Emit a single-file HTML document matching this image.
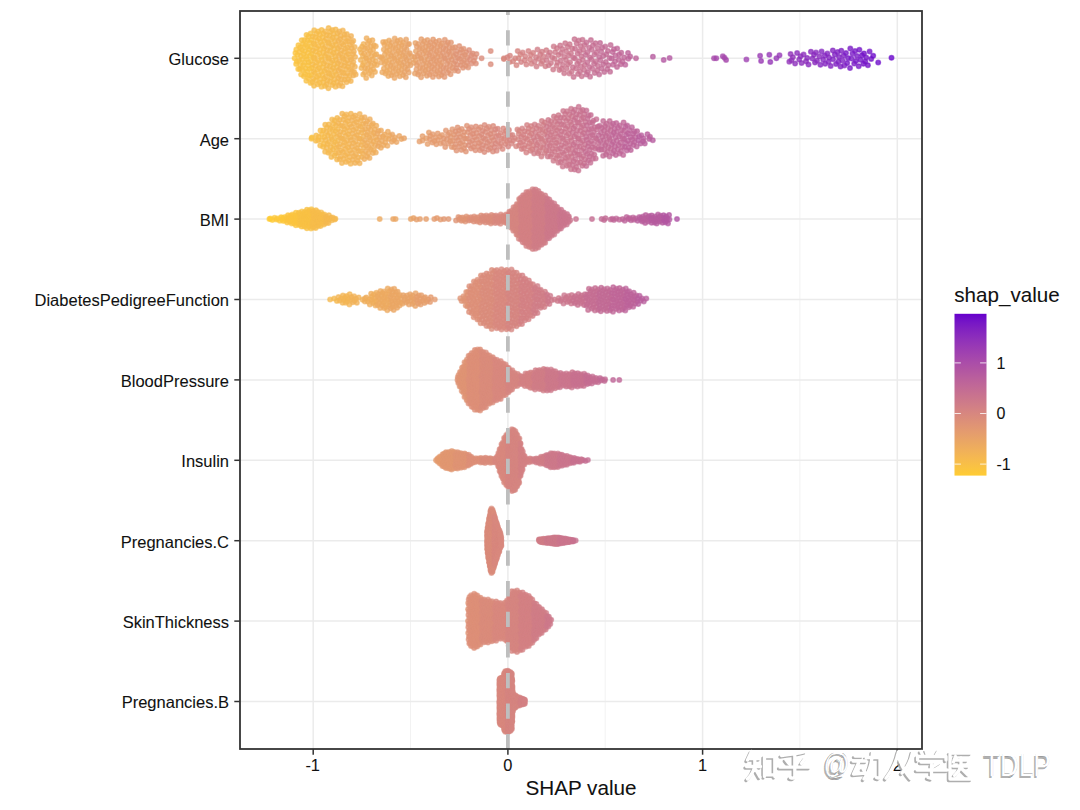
<!DOCTYPE html>
<html><head><meta charset="utf-8"><style>
html,body{margin:0;padding:0;background:#fff;}
body{width:1080px;height:810px;overflow:hidden;position:relative;}
svg{position:absolute;left:0;top:0;}
circle{r:2.35px;}
text{font-family:"Liberation Sans",sans-serif;fill:#111;stroke:#111;stroke-width:0.08px;}
.wm{font-family:"Liberation Sans",sans-serif;}
</style></head><body>
<svg width="1080" height="810" viewBox="0 0 1080 810">
<defs><clipPath id="pc"><rect x="240" y="11" width="682" height="738"/></clipPath></defs>
<g><line x1="410.5" y1="11" x2="410.5" y2="749" stroke="#f0f0f0" stroke-width="0.9"/><line x1="605.2" y1="11" x2="605.2" y2="749" stroke="#f0f0f0" stroke-width="0.9"/><line x1="799.9" y1="11" x2="799.9" y2="749" stroke="#f0f0f0" stroke-width="0.9"/><line x1="313.2" y1="11" x2="313.2" y2="749" stroke="#ebebeb" stroke-width="1.5"/><line x1="507.9" y1="11" x2="507.9" y2="749" stroke="#ebebeb" stroke-width="1.5"/><line x1="702.6" y1="11" x2="702.6" y2="749" stroke="#ebebeb" stroke-width="1.5"/><line x1="897.3" y1="11" x2="897.3" y2="749" stroke="#ebebeb" stroke-width="1.5"/><line x1="240" y1="58.3" x2="922" y2="58.3" stroke="#ebebeb" stroke-width="1.5"/><line x1="240" y1="138.7" x2="922" y2="138.7" stroke="#ebebeb" stroke-width="1.5"/><line x1="240" y1="219.1" x2="922" y2="219.1" stroke="#ebebeb" stroke-width="1.5"/><line x1="240" y1="299.5" x2="922" y2="299.5" stroke="#ebebeb" stroke-width="1.5"/><line x1="240" y1="379.9" x2="922" y2="379.9" stroke="#ebebeb" stroke-width="1.5"/><line x1="240" y1="460.3" x2="922" y2="460.3" stroke="#ebebeb" stroke-width="1.5"/><line x1="240" y1="540.7" x2="922" y2="540.7" stroke="#ebebeb" stroke-width="1.5"/><line x1="240" y1="621.1" x2="922" y2="621.1" stroke="#ebebeb" stroke-width="1.5"/><line x1="240" y1="701.5" x2="922" y2="701.5" stroke="#ebebeb" stroke-width="1.5"/></g>
<g clip-path="url(#pc)" fill-opacity="0.78" stroke-opacity="0.6" stroke-width="1.3"><g fill="#ffcc33" stroke="#ffcc33"><circle cx="269.4" cy="219.1"/><circle cx="270.4" cy="218.5"/><circle cx="272.4" cy="219.9"/></g><g fill="#fdc83a" stroke="#fdc83a"><circle cx="274.6" cy="217.8"/><circle cx="276.4" cy="219.6"/><circle cx="277.7" cy="218.6"/><circle cx="279.8" cy="220.7"/><circle cx="281.1" cy="217.2"/><circle cx="282.0" cy="219.4"/><circle cx="282.7" cy="218.1"/><circle cx="283.5" cy="220.9"/><circle cx="284.9" cy="217.0"/><circle cx="286.0" cy="220.4"/></g><g fill="#fbc440" stroke="#fbc440"><circle cx="294.6" cy="58.3"/><circle cx="295.4" cy="53.1"/><circle cx="296.1" cy="64.0"/><circle cx="296.3" cy="49.6"/><circle cx="296.9" cy="61.4"/><circle cx="297.4" cy="54.9"/><circle cx="298.2" cy="69.1"/><circle cx="298.4" cy="45.2"/><circle cx="286.4" cy="218.6"/><circle cx="287.2" cy="222.6"/><circle cx="288.0" cy="215.2"/><circle cx="288.6" cy="219.4"/><circle cx="289.3" cy="217.1"/><circle cx="289.8" cy="221.8"/><circle cx="290.5" cy="215.7"/><circle cx="290.8" cy="220.7"/><circle cx="291.5" cy="218.1"/><circle cx="291.7" cy="223.5"/><circle cx="292.4" cy="214.6"/><circle cx="293.0" cy="220.2"/><circle cx="293.5" cy="217.3"/><circle cx="293.9" cy="223.3"/><circle cx="294.1" cy="215.7"/><circle cx="294.6" cy="221.8"/><circle cx="295.1" cy="218.7"/><circle cx="295.8" cy="225.3"/><circle cx="295.9" cy="212.7"/><circle cx="296.7" cy="219.3"/><circle cx="296.7" cy="215.9"/><circle cx="297.3" cy="222.9"/><circle cx="298.0" cy="213.9"/><circle cx="298.2" cy="221.2"/><circle cx="298.6" cy="217.5"/><circle cx="298.9" cy="225.0"/></g><g fill="#f9c145" stroke="#f9c145"><circle cx="299.2" cy="60.3"/><circle cx="299.5" cy="52.1"/><circle cx="300.0" cy="69.1"/><circle cx="300.3" cy="47.3"/><circle cx="300.4" cy="65.0"/><circle cx="301.0" cy="56.0"/><circle cx="301.1" cy="74.6"/><circle cx="301.7" cy="40.2"/><circle cx="302.0" cy="59.5"/><circle cx="302.0" cy="49.6"/><circle cx="302.7" cy="69.9"/><circle cx="302.9" cy="44.0"/><circle cx="303.3" cy="65.0"/><circle cx="303.7" cy="54.2"/><circle cx="303.9" cy="76.2"/><circle cx="304.4" cy="40.1"/><circle cx="304.5" cy="62.5"/><circle cx="304.8" cy="51.1"/><circle cx="305.2" cy="74.2"/><circle cx="305.3" cy="45.2"/><circle cx="305.5" cy="68.5"/><circle cx="306.1" cy="56.8"/><circle cx="306.3" cy="80.8"/><circle cx="306.5" cy="34.9"/><circle cx="306.7" cy="59.1"/><circle cx="307.2" cy="46.8"/><circle cx="307.3" cy="71.5"/><circle cx="307.5" cy="40.4"/><circle cx="308.0" cy="65.4"/><circle cx="308.1" cy="52.7"/><circle cx="308.3" cy="78.3"/><circle cx="308.5" cy="36.6"/><circle cx="308.6" cy="62.3"/><circle cx="309.2" cy="49.3"/><circle cx="309.2" cy="75.6"/><circle cx="309.6" cy="42.6"/><circle cx="309.7" cy="69.1"/><circle cx="310.2" cy="55.8"/><circle cx="310.5" cy="83.0"/><circle cx="310.6" cy="33.6"/><circle cx="311.0" cy="60.9"/><circle cx="311.0" cy="47.0"/><circle cx="311.2" cy="74.8"/><circle cx="311.5" cy="40.1"/><circle cx="311.9" cy="67.9"/><circle cx="311.9" cy="53.9"/><circle cx="311.5" cy="138.7"/><circle cx="311.9" cy="137.4"/><circle cx="299.0" cy="212.7"/><circle cx="299.4" cy="220.3"/><circle cx="300.1" cy="216.4"/><circle cx="300.2" cy="224.3"/><circle cx="300.7" cy="214.4"/><circle cx="301.2" cy="222.4"/><circle cx="301.2" cy="218.3"/><circle cx="301.6" cy="226.6"/><circle cx="301.9" cy="211.5"/><circle cx="302.4" cy="219.9"/><circle cx="302.7" cy="215.7"/><circle cx="303.0" cy="224.2"/><circle cx="303.3" cy="213.4"/><circle cx="303.8" cy="222.1"/><circle cx="304.1" cy="217.7"/><circle cx="304.2" cy="226.6"/><circle cx="304.7" cy="212.1"/><circle cx="304.8" cy="221.1"/><circle cx="305.2" cy="216.5"/><circle cx="305.7" cy="225.7"/><circle cx="305.9" cy="214.2"/><circle cx="306.1" cy="223.5"/><circle cx="306.5" cy="218.8"/><circle cx="306.9" cy="228.3"/><circle cx="306.9" cy="209.7"/><circle cx="307.3" cy="219.3"/><circle cx="307.5" cy="214.4"/><circle cx="307.8" cy="224.1"/><circle cx="307.9" cy="211.9"/><circle cx="308.5" cy="221.7"/><circle cx="308.7" cy="216.8"/><circle cx="309.1" cy="226.8"/><circle cx="309.3" cy="210.4"/><circle cx="309.5" cy="220.5"/><circle cx="309.7" cy="215.4"/><circle cx="310.1" cy="225.7"/><circle cx="310.3" cy="212.8"/><circle cx="310.7" cy="223.2"/><circle cx="310.9" cy="218.0"/><circle cx="311.0" cy="228.5"/><circle cx="311.4" cy="209.3"/><circle cx="311.6" cy="219.9"/><circle cx="311.8" cy="214.6"/></g><g fill="#f7bd4b" stroke="#f7bd4b"><circle cx="312.3" cy="81.9"/><circle cx="312.7" cy="36.4"/><circle cx="312.7" cy="64.4"/><circle cx="313.0" cy="50.4"/><circle cx="313.4" cy="78.6"/><circle cx="313.6" cy="43.3"/><circle cx="313.7" cy="71.6"/><circle cx="313.9" cy="57.4"/><circle cx="314.0" cy="85.8"/><circle cx="314.2" cy="30.3"/><circle cx="314.4" cy="58.7"/><circle cx="314.6" cy="44.5"/><circle cx="314.9" cy="73.0"/><circle cx="315.4" cy="37.3"/><circle cx="315.4" cy="65.9"/><circle cx="315.7" cy="51.6"/><circle cx="315.8" cy="80.3"/><circle cx="316.4" cy="33.5"/><circle cx="316.5" cy="62.4"/><circle cx="316.6" cy="47.9"/><circle cx="316.9" cy="76.8"/><circle cx="317.2" cy="40.6"/><circle cx="317.4" cy="69.6"/><circle cx="317.6" cy="55.1"/><circle cx="317.8" cy="84.3"/><circle cx="318.2" cy="31.4"/><circle cx="318.3" cy="60.6"/><circle cx="318.5" cy="45.9"/><circle cx="318.8" cy="75.3"/><circle cx="319.0" cy="38.6"/><circle cx="319.0" cy="68.0"/><circle cx="319.6" cy="53.2"/><circle cx="319.8" cy="82.8"/><circle cx="319.9" cy="34.7"/><circle cx="320.1" cy="64.3"/><circle cx="320.2" cy="49.5"/><circle cx="320.5" cy="79.1"/><circle cx="320.7" cy="42.1"/><circle cx="321.1" cy="71.8"/><circle cx="321.4" cy="56.9"/><circle cx="321.5" cy="86.7"/><circle cx="321.6" cy="29.9"/><circle cx="321.8" cy="59.7"/><circle cx="322.2" cy="44.8"/><circle cx="322.5" cy="74.6"/><circle cx="322.6" cy="37.3"/><circle cx="322.7" cy="67.2"/><circle cx="323.2" cy="52.2"/><circle cx="323.3" cy="82.2"/><circle cx="323.4" cy="33.5"/><circle cx="323.8" cy="63.5"/><circle cx="323.9" cy="48.5"/><circle cx="324.2" cy="78.5"/><circle cx="324.2" cy="40.9"/><circle cx="324.4" cy="71.0"/><circle cx="325.0" cy="55.9"/><circle cx="325.0" cy="86.0"/><circle cx="315.9" cy="140.8"/><circle cx="316.3" cy="135.4"/><circle cx="318.1" cy="140.2"/><circle cx="318.7" cy="137.0"/><circle cx="320.2" cy="145.4"/><circle cx="320.5" cy="130.4"/><circle cx="321.5" cy="140.0"/><circle cx="321.9" cy="134.4"/><circle cx="323.1" cy="146.8"/><circle cx="323.3" cy="130.4"/><circle cx="323.9" cy="143.9"/><circle cx="324.5" cy="136.9"/><circle cx="312.1" cy="225.3"/><circle cx="312.4" cy="211.9"/><circle cx="312.8" cy="222.5"/><circle cx="313.1" cy="217.3"/><circle cx="313.3" cy="227.6"/><circle cx="313.4" cy="210.9"/><circle cx="313.7" cy="221.2"/><circle cx="314.0" cy="216.1"/><circle cx="314.4" cy="226.1"/><circle cx="314.5" cy="213.7"/><circle cx="315.0" cy="223.5"/><circle cx="315.2" cy="218.6"/><circle cx="315.7" cy="228.1"/><circle cx="316.0" cy="210.2"/><circle cx="316.2" cy="219.5"/><circle cx="316.5" cy="214.9"/><circle cx="316.8" cy="224.0"/><circle cx="316.9" cy="212.8"/><circle cx="317.5" cy="221.7"/><circle cx="317.9" cy="217.3"/><circle cx="318.0" cy="226.0"/><circle cx="318.1" cy="212.0"/><circle cx="318.5" cy="220.5"/><circle cx="319.3" cy="216.4"/><circle cx="319.3" cy="224.5"/><circle cx="319.8" cy="214.5"/><circle cx="320.0" cy="222.4"/><circle cx="320.5" cy="218.5"/><circle cx="320.6" cy="226.1"/><circle cx="321.2" cy="212.5"/><circle cx="321.7" cy="219.9"/><circle cx="321.8" cy="216.3"/><circle cx="322.4" cy="223.3"/><circle cx="322.8" cy="214.8"/><circle cx="323.2" cy="221.4"/><circle cx="323.6" cy="218.2"/><circle cx="324.0" cy="224.4"/><circle cx="324.4" cy="214.5"/><circle cx="324.9" cy="220.5"/></g><g fill="#f5b94f" stroke="#f5b94f"><circle cx="325.3" cy="31.5"/><circle cx="325.3" cy="61.6"/><circle cx="325.4" cy="46.5"/><circle cx="325.9" cy="76.7"/><circle cx="326.2" cy="38.9"/><circle cx="326.4" cy="69.2"/><circle cx="326.4" cy="54.0"/><circle cx="326.7" cy="84.3"/><circle cx="326.9" cy="35.1"/><circle cx="327.1" cy="65.4"/><circle cx="327.4" cy="50.2"/><circle cx="327.5" cy="80.6"/><circle cx="328.0" cy="42.6"/><circle cx="328.2" cy="73.0"/><circle cx="328.3" cy="57.8"/><circle cx="328.4" cy="88.3"/><circle cx="328.6" cy="28.1"/><circle cx="329.0" cy="58.5"/><circle cx="329.1" cy="43.3"/><circle cx="329.5" cy="73.8"/><circle cx="329.5" cy="35.6"/><circle cx="329.9" cy="66.2"/><circle cx="330.0" cy="50.9"/><circle cx="330.1" cy="81.5"/><circle cx="330.5" cy="31.8"/><circle cx="330.8" cy="62.4"/><circle cx="330.9" cy="47.1"/><circle cx="331.1" cy="77.6"/><circle cx="331.3" cy="39.5"/><circle cx="331.5" cy="70.0"/><circle cx="331.8" cy="54.7"/><circle cx="332.2" cy="85.1"/><circle cx="332.3" cy="30.1"/><circle cx="332.6" cy="60.4"/><circle cx="332.6" cy="45.3"/><circle cx="332.7" cy="75.6"/><circle cx="332.8" cy="37.7"/><circle cx="333.1" cy="68.0"/><circle cx="333.6" cy="52.9"/><circle cx="333.7" cy="83.1"/><circle cx="333.8" cy="34.0"/><circle cx="334.4" cy="64.2"/><circle cx="334.4" cy="49.1"/><circle cx="334.5" cy="79.3"/><circle cx="334.9" cy="41.6"/><circle cx="335.0" cy="71.7"/><circle cx="335.3" cy="56.7"/><circle cx="335.5" cy="86.7"/><circle cx="335.6" cy="29.4"/><circle cx="335.9" cy="59.5"/><circle cx="336.1" cy="44.5"/><circle cx="336.3" cy="74.5"/><circle cx="336.6" cy="37.0"/><circle cx="336.9" cy="66.9"/><circle cx="337.0" cy="52.0"/><circle cx="337.2" cy="81.9"/><circle cx="337.4" cy="33.3"/><circle cx="337.8" cy="63.2"/><circle cx="337.9" cy="48.3"/><circle cx="325.1" cy="151.7"/><circle cx="325.2" cy="124.7"/><circle cx="325.8" cy="139.7"/><circle cx="326.3" cy="131.8"/><circle cx="326.8" cy="147.8"/><circle cx="326.9" cy="127.5"/><circle cx="327.5" cy="143.9"/><circle cx="327.9" cy="135.5"/><circle cx="328.4" cy="152.8"/><circle cx="328.9" cy="124.4"/><circle cx="329.1" cy="142.0"/><circle cx="329.6" cy="133.0"/><circle cx="330.3" cy="151.5"/><circle cx="330.4" cy="128.2"/><circle cx="330.9" cy="147.1"/><circle cx="331.2" cy="137.5"/><circle cx="331.4" cy="156.9"/><circle cx="332.1" cy="119.5"/><circle cx="332.3" cy="139.3"/><circle cx="332.6" cy="129.2"/><circle cx="333.1" cy="149.6"/><circle cx="333.4" cy="123.8"/><circle cx="333.7" cy="144.6"/><circle cx="334.0" cy="134.1"/><circle cx="334.5" cy="155.4"/><circle cx="334.6" cy="120.6"/><circle cx="335.0" cy="142.1"/><circle cx="335.4" cy="131.1"/><circle cx="335.8" cy="153.3"/><circle cx="336.0" cy="125.4"/><circle cx="336.5" cy="147.9"/><circle cx="336.9" cy="136.6"/><circle cx="337.0" cy="159.4"/><circle cx="337.2" cy="117.9"/><circle cx="337.7" cy="140.9"/><circle cx="337.8" cy="129.3"/><circle cx="325.4" cy="217.6"/><circle cx="326.0" cy="223.0"/><circle cx="326.3" cy="216.4"/><circle cx="327.4" cy="221.4"/><circle cx="327.6" cy="219.0"/><circle cx="328.5" cy="223.1"/><circle cx="328.9" cy="215.2"/><circle cx="329.8" cy="219.1"/><circle cx="331.1" cy="217.7"/><circle cx="331.9" cy="220.3"/><circle cx="332.7" cy="217.5"/><circle cx="334.7" cy="219.5"/><circle cx="335.4" cy="218.7"/><circle cx="330.1" cy="299.5"/><circle cx="334.2" cy="298.6"/><circle cx="336.9" cy="300.9"/></g><g fill="#f3b554" stroke="#f3b554"><circle cx="338.2" cy="78.1"/><circle cx="338.3" cy="40.9"/><circle cx="338.4" cy="70.6"/><circle cx="338.9" cy="55.7"/><circle cx="339.0" cy="85.5"/><circle cx="339.4" cy="31.6"/><circle cx="339.4" cy="61.3"/><circle cx="339.8" cy="46.5"/><circle cx="339.9" cy="76.1"/><circle cx="340.2" cy="39.1"/><circle cx="340.2" cy="68.7"/><circle cx="340.6" cy="53.9"/><circle cx="340.6" cy="83.3"/><circle cx="340.8" cy="35.7"/><circle cx="341.3" cy="64.9"/><circle cx="341.5" cy="50.4"/><circle cx="341.6" cy="79.3"/><circle cx="341.8" cy="43.2"/><circle cx="342.0" cy="72.0"/><circle cx="342.5" cy="57.6"/><circle cx="342.5" cy="86.2"/><circle cx="342.8" cy="30.5"/><circle cx="343.3" cy="59.0"/><circle cx="343.4" cy="44.8"/><circle cx="343.5" cy="73.1"/><circle cx="344.0" cy="37.9"/><circle cx="344.2" cy="65.9"/><circle cx="344.3" cy="52.0"/><circle cx="344.5" cy="79.8"/><circle cx="344.6" cy="34.7"/><circle cx="344.9" cy="62.4"/><circle cx="345.2" cy="48.7"/><circle cx="345.6" cy="76.0"/><circle cx="345.8" cy="42.0"/><circle cx="345.9" cy="69.1"/><circle cx="346.1" cy="55.6"/><circle cx="346.5" cy="82.2"/><circle cx="346.8" cy="34.1"/><circle cx="347.1" cy="60.6"/><circle cx="347.2" cy="47.4"/><circle cx="347.5" cy="73.5"/><circle cx="347.7" cy="41.1"/><circle cx="348.1" cy="66.9"/><circle cx="348.1" cy="54.1"/><circle cx="348.5" cy="79.5"/><circle cx="348.7" cy="38.4"/><circle cx="348.8" cy="63.6"/><circle cx="349.2" cy="51.1"/><circle cx="349.7" cy="75.7"/><circle cx="349.9" cy="45.1"/><circle cx="350.3" cy="69.4"/><circle cx="350.4" cy="57.4"/><circle cx="350.8" cy="81.1"/><circle cx="338.4" cy="152.7"/><circle cx="338.4" cy="123.3"/><circle cx="338.5" cy="146.8"/><circle cx="339.2" cy="135.0"/><circle cx="339.5" cy="159.0"/><circle cx="339.8" cy="119.8"/><circle cx="340.0" cy="144.0"/><circle cx="340.4" cy="131.8"/><circle cx="340.5" cy="156.4"/><circle cx="341.0" cy="125.5"/><circle cx="341.1" cy="150.4"/><circle cx="341.3" cy="137.9"/><circle cx="341.9" cy="163.1"/><circle cx="342.2" cy="113.7"/><circle cx="342.5" cy="139.1"/><circle cx="342.6" cy="126.3"/><circle cx="342.8" cy="151.9"/><circle cx="343.2" cy="119.7"/><circle cx="343.6" cy="145.6"/><circle cx="343.7" cy="132.6"/><circle cx="343.9" cy="158.8"/><circle cx="344.4" cy="116.2"/><circle cx="344.6" cy="142.4"/><circle cx="344.8" cy="129.3"/><circle cx="345.3" cy="155.5"/><circle cx="345.5" cy="122.7"/><circle cx="345.6" cy="148.9"/><circle cx="345.9" cy="135.8"/><circle cx="346.1" cy="162.0"/><circle cx="346.4" cy="114.5"/><circle cx="346.7" cy="140.7"/><circle cx="347.1" cy="127.6"/><circle cx="347.1" cy="153.8"/><circle cx="347.5" cy="121.1"/><circle cx="347.9" cy="147.3"/><circle cx="348.1" cy="134.2"/><circle cx="348.5" cy="160.4"/><circle cx="348.7" cy="117.8"/><circle cx="349.0" cy="144.0"/><circle cx="349.3" cy="130.9"/><circle cx="349.5" cy="157.1"/><circle cx="349.7" cy="124.4"/><circle cx="350.0" cy="150.6"/><circle cx="350.3" cy="137.5"/><circle cx="350.6" cy="163.7"/><circle cx="350.9" cy="113.7"/><circle cx="338.5" cy="297.1"/><circle cx="339.7" cy="300.4"/><circle cx="341.3" cy="298.5"/><circle cx="342.6" cy="302.8"/><circle cx="342.9" cy="295.6"/><circle cx="344.0" cy="300.1"/><circle cx="345.0" cy="297.6"/><circle cx="345.6" cy="302.7"/><circle cx="346.7" cy="296.1"/><circle cx="347.2" cy="301.6"/><circle cx="348.4" cy="298.8"/><circle cx="349.4" cy="304.5"/><circle cx="349.7" cy="294.2"/><circle cx="350.7" cy="299.8"/></g><g fill="#f1b258" stroke="#f1b258"><circle cx="351.1" cy="36.0"/><circle cx="351.2" cy="59.6"/><circle cx="351.7" cy="48.1"/><circle cx="352.0" cy="70.9"/><circle cx="352.1" cy="42.6"/><circle cx="352.6" cy="65.0"/><circle cx="353.0" cy="54.1"/><circle cx="353.2" cy="75.6"/><circle cx="353.3" cy="40.8"/><circle cx="353.4" cy="62.1"/><circle cx="353.9" cy="51.7"/><circle cx="354.2" cy="72.2"/><circle cx="354.7" cy="47.0"/><circle cx="354.9" cy="66.7"/><circle cx="355.2" cy="56.9"/><circle cx="355.7" cy="74.5"/><circle cx="360.0" cy="49.3"/><circle cx="360.7" cy="59.9"/><circle cx="361.2" cy="52.6"/><circle cx="361.4" cy="68.1"/><circle cx="362.1" cy="46.7"/><circle cx="362.7" cy="65.1"/><circle cx="362.8" cy="55.8"/><circle cx="363.2" cy="74.5"/><circle cx="363.6" cy="44.0"/><circle cx="363.9" cy="62.9"/><circle cx="351.1" cy="139.9"/><circle cx="351.4" cy="126.8"/><circle cx="351.8" cy="153.0"/><circle cx="352.1" cy="120.3"/><circle cx="352.2" cy="146.5"/><circle cx="352.6" cy="133.4"/><circle cx="352.9" cy="159.6"/><circle cx="353.3" cy="117.0"/><circle cx="353.4" cy="143.2"/><circle cx="353.7" cy="130.1"/><circle cx="354.1" cy="156.3"/><circle cx="354.2" cy="123.6"/><circle cx="354.7" cy="149.8"/><circle cx="354.8" cy="136.7"/><circle cx="355.1" cy="162.9"/><circle cx="355.2" cy="115.4"/><circle cx="355.7" cy="141.6"/><circle cx="356.0" cy="128.5"/><circle cx="356.0" cy="154.7"/><circle cx="356.4" cy="122.0"/><circle cx="356.9" cy="148.0"/><circle cx="356.9" cy="135.1"/><circle cx="357.5" cy="160.8"/><circle cx="357.6" cy="119.1"/><circle cx="357.9" cy="144.7"/><circle cx="358.3" cy="131.9"/><circle cx="358.3" cy="157.3"/><circle cx="358.7" cy="125.7"/><circle cx="358.9" cy="150.9"/><circle cx="359.3" cy="138.3"/><circle cx="359.6" cy="163.2"/><circle cx="359.7" cy="114.0"/><circle cx="360.1" cy="138.9"/><circle cx="360.4" cy="126.6"/><circle cx="360.7" cy="151.2"/><circle cx="360.9" cy="120.6"/><circle cx="361.3" cy="145.0"/><circle cx="361.6" cy="132.8"/><circle cx="361.8" cy="157.0"/><circle cx="361.9" cy="117.9"/><circle cx="362.4" cy="141.9"/><circle cx="362.8" cy="130.0"/><circle cx="363.0" cy="153.7"/><circle cx="363.1" cy="124.1"/><circle cx="363.8" cy="147.7"/><circle cx="363.8" cy="136.0"/><circle cx="351.5" cy="297.2"/><circle cx="352.8" cy="302.3"/><circle cx="354.1" cy="296.3"/><circle cx="354.5" cy="300.9"/><circle cx="356.0" cy="298.7"/><circle cx="356.9" cy="302.8"/><circle cx="358.7" cy="297.4"/><circle cx="362.6" cy="299.8"/></g><g fill="#efae5c" stroke="#efae5c"><circle cx="364.2" cy="53.4"/><circle cx="364.8" cy="72.6"/><circle cx="365.1" cy="48.4"/><circle cx="365.2" cy="67.9"/><circle cx="365.8" cy="58.1"/><circle cx="366.2" cy="78.0"/><circle cx="366.6" cy="38.3"/><circle cx="366.7" cy="58.4"/><circle cx="367.3" cy="48.3"/><circle cx="367.8" cy="68.4"/><circle cx="367.9" cy="43.3"/><circle cx="368.5" cy="63.4"/><circle cx="368.6" cy="53.4"/><circle cx="369.1" cy="73.3"/><circle cx="369.4" cy="41.0"/><circle cx="369.6" cy="60.9"/><circle cx="370.3" cy="51.0"/><circle cx="370.6" cy="70.7"/><circle cx="371.0" cy="46.1"/><circle cx="371.3" cy="65.7"/><circle cx="371.5" cy="55.9"/><circle cx="371.8" cy="75.5"/><circle cx="372.4" cy="40.2"/><circle cx="372.6" cy="59.6"/><circle cx="373.1" cy="49.9"/><circle cx="373.3" cy="69.2"/><circle cx="373.9" cy="45.2"/><circle cx="374.4" cy="64.1"/><circle cx="374.8" cy="55.1"/><circle cx="375.0" cy="72.0"/><circle cx="375.8" cy="46.3"/><circle cx="375.8" cy="61.1"/><circle cx="376.3" cy="54.2"/><circle cx="376.9" cy="65.1"/><circle cx="364.3" cy="159.1"/><circle cx="364.6" cy="117.3"/><circle cx="364.9" cy="140.3"/><circle cx="365.1" cy="128.9"/><circle cx="365.6" cy="151.5"/><circle cx="365.8" cy="123.5"/><circle cx="366.2" cy="145.8"/><circle cx="366.7" cy="134.8"/><circle cx="367.1" cy="156.5"/><circle cx="367.1" cy="121.3"/><circle cx="367.3" cy="142.9"/><circle cx="367.7" cy="132.2"/><circle cx="368.3" cy="153.3"/><circle cx="368.7" cy="127.2"/><circle cx="368.9" cy="147.9"/><circle cx="369.2" cy="137.6"/><circle cx="369.5" cy="158.0"/><circle cx="369.8" cy="119.3"/><circle cx="370.5" cy="139.5"/><circle cx="370.8" cy="129.7"/><circle cx="370.9" cy="149.2"/><circle cx="371.5" cy="125.1"/><circle cx="371.7" cy="144.2"/><circle cx="372.0" cy="134.7"/><circle cx="372.9" cy="153.1"/><circle cx="372.9" cy="123.6"/><circle cx="373.4" cy="141.6"/><circle cx="373.9" cy="132.9"/><circle cx="373.9" cy="150.0"/><circle cx="374.9" cy="129.2"/><circle cx="375.2" cy="145.2"/><circle cx="375.7" cy="137.4"/><circle cx="375.8" cy="152.5"/><circle cx="376.3" cy="125.7"/><circle cx="376.9" cy="140.1"/><circle cx="364.8" cy="298.6"/><circle cx="364.9" cy="301.5"/><circle cx="366.3" cy="297.4"/><circle cx="367.8" cy="301.4"/><circle cx="369.5" cy="299.2"/><circle cx="369.8" cy="304.5"/><circle cx="371.1" cy="293.7"/><circle cx="371.6" cy="299.7"/><circle cx="371.9" cy="296.5"/><circle cx="373.0" cy="303.1"/><circle cx="373.9" cy="294.5"/><circle cx="374.5" cy="301.6"/><circle cx="374.9" cy="297.9"/><circle cx="375.5" cy="305.5"/><circle cx="376.4" cy="292.8"/><circle cx="376.6" cy="300.8"/></g><g fill="#edaa60" stroke="#edaa60"><circle cx="379.9" cy="57.1"/><circle cx="381.0" cy="62.5"/><circle cx="381.7" cy="57.5"/><circle cx="382.3" cy="72.3"/><circle cx="383.1" cy="42.1"/><circle cx="383.3" cy="58.9"/><circle cx="383.8" cy="49.6"/><circle cx="383.9" cy="68.6"/><circle cx="384.4" cy="44.5"/><circle cx="384.8" cy="63.8"/><circle cx="384.9" cy="54.2"/><circle cx="385.5" cy="73.5"/><circle cx="385.8" cy="42.0"/><circle cx="386.2" cy="61.4"/><circle cx="386.8" cy="51.7"/><circle cx="387.0" cy="71.2"/><circle cx="387.4" cy="46.8"/><circle cx="387.5" cy="66.3"/><circle cx="388.1" cy="56.5"/><circle cx="388.3" cy="76.1"/><circle cx="389.1" cy="40.6"/><circle cx="389.1" cy="60.2"/><circle cx="389.3" cy="50.4"/><circle cx="389.7" cy="70.1"/><circle cx="390.2" cy="45.4"/><circle cx="377.3" cy="133.4"/><circle cx="378.1" cy="146.2"/><circle cx="378.7" cy="130.9"/><circle cx="379.1" cy="142.9"/><circle cx="379.9" cy="137.0"/><circle cx="380.9" cy="147.8"/><circle cx="381.0" cy="130.5"/><circle cx="381.7" cy="141.0"/><circle cx="383.0" cy="136.2"/><circle cx="383.4" cy="145.2"/><circle cx="384.6" cy="134.4"/><circle cx="385.3" cy="142.5"/><circle cx="385.7" cy="138.5"/><circle cx="387.4" cy="145.8"/><circle cx="387.9" cy="131.7"/><circle cx="388.8" cy="138.9"/><circle cx="389.8" cy="135.6"/><circle cx="379.7" cy="219.1"/><circle cx="377.4" cy="296.6"/><circle cx="377.6" cy="305.0"/><circle cx="378.6" cy="294.3"/><circle cx="379.1" cy="303.1"/><circle cx="379.2" cy="298.7"/><circle cx="380.2" cy="307.9"/><circle cx="380.5" cy="291.0"/><circle cx="381.3" cy="300.4"/><circle cx="381.4" cy="295.6"/><circle cx="382.1" cy="305.3"/><circle cx="382.5" cy="293.1"/><circle cx="383.1" cy="302.9"/><circle cx="383.6" cy="297.9"/><circle cx="384.1" cy="308.1"/><circle cx="384.1" cy="291.5"/><circle cx="384.6" cy="301.8"/><circle cx="384.9" cy="296.6"/><circle cx="385.6" cy="307.1"/><circle cx="386.0" cy="293.8"/><circle cx="386.8" cy="304.6"/><circle cx="387.0" cy="299.2"/><circle cx="387.3" cy="310.2"/><circle cx="387.7" cy="288.6"/><circle cx="388.3" cy="299.7"/><circle cx="388.7" cy="294.1"/><circle cx="389.3" cy="305.3"/><circle cx="389.6" cy="291.1"/><circle cx="390.1" cy="302.5"/></g><g fill="#eba664" stroke="#eba664"><circle cx="390.7" cy="65.2"/><circle cx="391.0" cy="55.3"/><circle cx="391.4" cy="75.1"/><circle cx="391.6" cy="42.8"/><circle cx="392.0" cy="62.7"/><circle cx="392.5" cy="52.8"/><circle cx="392.8" cy="72.8"/><circle cx="393.1" cy="47.7"/><circle cx="393.3" cy="67.8"/><circle cx="393.8" cy="57.8"/><circle cx="394.5" cy="77.9"/><circle cx="394.7" cy="38.5"/><circle cx="394.8" cy="58.7"/><circle cx="395.4" cy="48.6"/><circle cx="395.5" cy="68.8"/><circle cx="396.1" cy="43.6"/><circle cx="396.5" cy="63.7"/><circle cx="396.9" cy="53.7"/><circle cx="396.9" cy="73.8"/><circle cx="397.4" cy="41.1"/><circle cx="398.0" cy="61.2"/><circle cx="398.3" cy="51.2"/><circle cx="398.6" cy="71.2"/><circle cx="398.9" cy="46.2"/><circle cx="399.3" cy="66.2"/><circle cx="399.6" cy="56.2"/><circle cx="399.8" cy="76.2"/><circle cx="400.4" cy="39.9"/><circle cx="400.5" cy="59.9"/><circle cx="401.0" cy="50.0"/><circle cx="401.3" cy="69.9"/><circle cx="401.7" cy="45.0"/><circle cx="402.0" cy="64.9"/><circle cx="402.6" cy="55.0"/><circle cx="403.0" cy="74.9"/><circle cx="403.1" cy="42.5"/><circle cx="391.8" cy="141.8"/><circle cx="392.2" cy="134.5"/><circle cx="393.9" cy="140.1"/><circle cx="394.9" cy="137.6"/><circle cx="396.5" cy="142.1"/><circle cx="399.3" cy="135.9"/><circle cx="401.4" cy="139.1"/><circle cx="393.1" cy="219.1"/><circle cx="395.6" cy="219.1"/><circle cx="390.3" cy="296.8"/><circle cx="390.6" cy="308.3"/><circle cx="391.4" cy="289.5"/><circle cx="391.9" cy="301.2"/><circle cx="391.9" cy="295.3"/><circle cx="392.2" cy="307.1"/><circle cx="392.8" cy="292.2"/><circle cx="392.9" cy="304.2"/><circle cx="393.4" cy="298.2"/><circle cx="393.7" cy="310.0"/><circle cx="394.2" cy="288.8"/><circle cx="394.9" cy="300.4"/><circle cx="395.1" cy="294.8"/><circle cx="395.7" cy="305.7"/><circle cx="396.0" cy="292.3"/><circle cx="396.4" cy="302.9"/><circle cx="397.0" cy="297.8"/><circle cx="397.1" cy="307.8"/><circle cx="397.7" cy="291.7"/><circle cx="398.4" cy="301.4"/><circle cx="398.9" cy="296.7"/><circle cx="399.6" cy="305.6"/><circle cx="399.9" cy="295.1"/><circle cx="400.8" cy="302.6"/><circle cx="400.9" cy="299.2"/><circle cx="402.4" cy="303.7"/></g><g fill="#e8a367" stroke="#e8a367"><circle cx="403.7" cy="62.4"/><circle cx="403.8" cy="52.5"/><circle cx="404.4" cy="72.3"/><circle cx="404.6" cy="47.5"/><circle cx="405.1" cy="67.4"/><circle cx="405.1" cy="57.4"/><circle cx="405.8" cy="77.2"/><circle cx="406.1" cy="39.5"/><circle cx="406.6" cy="59.3"/><circle cx="406.7" cy="49.4"/><circle cx="407.4" cy="69.2"/><circle cx="407.7" cy="44.5"/><circle cx="407.9" cy="64.2"/><circle cx="408.3" cy="54.5"/><circle cx="408.7" cy="72.6"/><circle cx="409.0" cy="43.9"/><circle cx="409.7" cy="61.1"/><circle cx="409.8" cy="53.2"/><circle cx="410.5" cy="65.3"/><circle cx="411.7" cy="56.5"/><circle cx="413.6" cy="62.7"/><circle cx="414.5" cy="57.1"/><circle cx="414.9" cy="73.5"/><circle cx="415.4" cy="43.0"/><circle cx="415.5" cy="60.3"/><circle cx="415.9" cy="51.3"/><circle cx="404.1" cy="138.2"/><circle cx="410.8" cy="219.1"/><circle cx="413.5" cy="218.1"/><circle cx="403.3" cy="295.2"/><circle cx="404.7" cy="299.7"/><circle cx="404.8" cy="297.2"/><circle cx="405.8" cy="302.4"/><circle cx="407.3" cy="295.4"/><circle cx="407.5" cy="301.3"/><circle cx="408.6" cy="298.3"/><circle cx="408.9" cy="304.4"/><circle cx="410.1" cy="294.3"/><circle cx="410.9" cy="300.6"/><circle cx="411.4" cy="297.4"/><circle cx="412.4" cy="303.9"/><circle cx="412.6" cy="295.7"/><circle cx="413.6" cy="302.3"/><circle cx="414.6" cy="299.0"/><circle cx="415.3" cy="305.9"/><circle cx="415.6" cy="293.3"/></g><g fill="#e69f6b" stroke="#e69f6b"><circle cx="416.4" cy="69.5"/><circle cx="416.8" cy="46.6"/><circle cx="416.9" cy="65.0"/><circle cx="417.4" cy="55.8"/><circle cx="418.1" cy="74.4"/><circle cx="418.5" cy="44.0"/><circle cx="418.7" cy="62.8"/><circle cx="419.2" cy="53.4"/><circle cx="419.4" cy="72.2"/><circle cx="419.9" cy="48.6"/><circle cx="420.2" cy="67.6"/><circle cx="420.7" cy="58.1"/><circle cx="421.1" cy="77.3"/><circle cx="421.3" cy="39.2"/><circle cx="421.5" cy="58.5"/><circle cx="422.2" cy="48.8"/><circle cx="422.7" cy="68.3"/><circle cx="422.8" cy="43.9"/><circle cx="423.4" cy="63.5"/><circle cx="423.4" cy="53.6"/><circle cx="423.8" cy="73.3"/><circle cx="424.3" cy="41.3"/><circle cx="424.8" cy="61.0"/><circle cx="425.1" cy="51.1"/><circle cx="425.4" cy="70.8"/><circle cx="426.1" cy="46.2"/><circle cx="426.2" cy="65.9"/><circle cx="426.4" cy="56.1"/><circle cx="426.9" cy="75.8"/><circle cx="427.4" cy="40.1"/><circle cx="427.9" cy="59.8"/><circle cx="428.0" cy="49.9"/><circle cx="428.2" cy="69.6"/><circle cx="428.7" cy="45.0"/><circle cx="429.1" cy="64.7"/><circle cx="419.5" cy="141.4"/><circle cx="422.5" cy="136.2"/><circle cx="422.6" cy="140.4"/><circle cx="426.3" cy="138.3"/><circle cx="427.6" cy="144.0"/><circle cx="428.9" cy="132.6"/><circle cx="416.5" cy="219.6"/><circle cx="420.0" cy="219.1"/><circle cx="426.1" cy="219.1"/><circle cx="416.6" cy="300.2"/><circle cx="416.9" cy="296.9"/><circle cx="418.1" cy="303.4"/><circle cx="418.9" cy="295.5"/><circle cx="419.6" cy="301.7"/><circle cx="420.0" cy="298.7"/><circle cx="420.6" cy="304.4"/><circle cx="421.3" cy="295.3"/><circle cx="422.7" cy="300.7"/><circle cx="424.1" cy="298.2"/><circle cx="424.5" cy="302.9"/><circle cx="425.2" cy="297.2"/><circle cx="426.8" cy="301.4"/><circle cx="428.4" cy="299.4"/></g><g fill="#e49b6e" stroke="#e49b6e"><circle cx="429.3" cy="54.8"/><circle cx="429.6" cy="74.5"/><circle cx="430.3" cy="42.5"/><circle cx="430.7" cy="62.2"/><circle cx="430.7" cy="52.4"/><circle cx="431.2" cy="72.1"/><circle cx="431.8" cy="47.4"/><circle cx="432.0" cy="67.1"/><circle cx="432.4" cy="57.3"/><circle cx="432.9" cy="77.0"/><circle cx="433.1" cy="39.4"/><circle cx="433.6" cy="59.1"/><circle cx="433.8" cy="49.3"/><circle cx="434.1" cy="69.0"/><circle cx="434.3" cy="44.4"/><circle cx="434.9" cy="64.1"/><circle cx="435.4" cy="54.2"/><circle cx="435.7" cy="73.9"/><circle cx="435.9" cy="41.9"/><circle cx="436.6" cy="61.6"/><circle cx="436.9" cy="51.8"/><circle cx="437.3" cy="71.5"/><circle cx="437.6" cy="46.8"/><circle cx="437.7" cy="66.5"/><circle cx="437.9" cy="56.7"/><circle cx="438.8" cy="76.4"/><circle cx="439.2" cy="40.7"/><circle cx="439.4" cy="60.4"/><circle cx="439.7" cy="50.5"/><circle cx="440.1" cy="70.2"/><circle cx="440.4" cy="45.6"/><circle cx="440.6" cy="65.3"/><circle cx="440.9" cy="55.5"/><circle cx="441.4" cy="75.0"/><circle cx="441.9" cy="43.4"/><circle cx="442.0" cy="62.8"/><circle cx="430.0" cy="139.3"/><circle cx="430.3" cy="135.9"/><circle cx="432.4" cy="142.6"/><circle cx="432.8" cy="134.3"/><circle cx="434.5" cy="141.0"/><circle cx="435.3" cy="137.6"/><circle cx="436.3" cy="144.3"/><circle cx="437.7" cy="133.4"/><circle cx="438.1" cy="140.1"/><circle cx="440.0" cy="136.8"/><circle cx="440.7" cy="143.5"/><circle cx="442.2" cy="135.0"/><circle cx="434.3" cy="219.1"/><circle cx="437.0" cy="218.1"/><circle cx="440.5" cy="219.6"/><circle cx="430.1" cy="302.0"/><circle cx="430.8" cy="297.2"/><circle cx="434.8" cy="299.5"/><circle cx="436.0" cy="460.3"/><circle cx="437.4" cy="459.0"/><circle cx="437.8" cy="461.7"/><circle cx="438.2" cy="458.0"/><circle cx="438.9" cy="461.2"/><circle cx="439.3" cy="459.3"/><circle cx="439.8" cy="463.5"/><circle cx="439.9" cy="456.5"/><circle cx="440.7" cy="460.9"/><circle cx="440.9" cy="458.4"/><circle cx="441.3" cy="463.7"/><circle cx="441.4" cy="456.8"/><circle cx="441.9" cy="462.5"/><circle cx="442.0" cy="459.5"/></g><g fill="#e19772" stroke="#e19772"><circle cx="442.7" cy="53.1"/><circle cx="442.9" cy="72.4"/><circle cx="443.4" cy="48.3"/><circle cx="443.5" cy="67.5"/><circle cx="444.0" cy="57.9"/><circle cx="444.5" cy="76.9"/><circle cx="444.8" cy="39.8"/><circle cx="445.2" cy="58.8"/><circle cx="445.7" cy="49.4"/><circle cx="446.0" cy="68.2"/><circle cx="446.4" cy="44.8"/><circle cx="447.1" cy="63.5"/><circle cx="447.1" cy="54.2"/><circle cx="447.5" cy="72.7"/><circle cx="447.9" cy="42.6"/><circle cx="448.5" cy="61.1"/><circle cx="448.9" cy="51.9"/><circle cx="449.1" cy="70.3"/><circle cx="449.4" cy="47.4"/><circle cx="450.1" cy="65.6"/><circle cx="450.2" cy="56.5"/><circle cx="450.6" cy="74.3"/><circle cx="451.0" cy="42.5"/><circle cx="451.7" cy="59.8"/><circle cx="451.8" cy="51.4"/><circle cx="452.7" cy="67.8"/><circle cx="452.7" cy="47.8"/><circle cx="453.7" cy="63.5"/><circle cx="453.7" cy="55.9"/><circle cx="454.6" cy="70.5"/><circle cx="455.0" cy="47.2"/><circle cx="443.4" cy="142.4"/><circle cx="443.7" cy="138.4"/><circle cx="445.2" cy="147.1"/><circle cx="445.9" cy="130.5"/><circle cx="447.0" cy="139.2"/><circle cx="447.9" cy="134.8"/><circle cx="448.3" cy="143.5"/><circle cx="449.6" cy="132.7"/><circle cx="450.4" cy="141.4"/><circle cx="450.9" cy="137.0"/><circle cx="451.7" cy="147.0"/><circle cx="452.4" cy="129.3"/><circle cx="452.8" cy="140.9"/><circle cx="453.8" cy="134.6"/><circle cx="454.2" cy="147.3"/><circle cx="444.0" cy="219.1"/><circle cx="448.5" cy="219.1"/><circle cx="442.4" cy="465.9"/><circle cx="442.7" cy="454.2"/><circle cx="442.9" cy="460.7"/><circle cx="443.0" cy="457.3"/><circle cx="443.1" cy="464.2"/><circle cx="443.6" cy="455.3"/><circle cx="443.6" cy="462.6"/><circle cx="443.9" cy="458.9"/><circle cx="444.0" cy="466.5"/><circle cx="444.3" cy="453.8"/><circle cx="444.7" cy="461.8"/><circle cx="444.9" cy="457.8"/><circle cx="444.9" cy="465.9"/><circle cx="445.2" cy="455.7"/><circle cx="445.3" cy="463.9"/><circle cx="445.5" cy="459.8"/><circle cx="445.9" cy="468.1"/><circle cx="445.9" cy="452.2"/><circle cx="446.1" cy="460.6"/><circle cx="446.4" cy="456.3"/><circle cx="446.6" cy="464.9"/><circle cx="446.8" cy="454.1"/><circle cx="447.0" cy="462.7"/><circle cx="447.2" cy="458.4"/><circle cx="447.3" cy="467.2"/><circle cx="447.4" cy="452.9"/><circle cx="447.8" cy="461.7"/><circle cx="447.9" cy="457.2"/><circle cx="448.2" cy="466.2"/><circle cx="448.2" cy="455.0"/><circle cx="448.6" cy="464.0"/><circle cx="448.6" cy="459.4"/><circle cx="448.8" cy="468.6"/><circle cx="449.0" cy="452.0"/><circle cx="449.3" cy="461.2"/><circle cx="449.4" cy="456.5"/><circle cx="449.5" cy="465.8"/><circle cx="449.8" cy="454.1"/><circle cx="449.8" cy="463.5"/><circle cx="450.2" cy="458.8"/><circle cx="450.4" cy="468.4"/><circle cx="450.5" cy="452.8"/><circle cx="450.6" cy="462.4"/><circle cx="450.7" cy="457.6"/><circle cx="451.0" cy="467.2"/><circle cx="451.2" cy="455.3"/><circle cx="451.3" cy="464.7"/><circle cx="451.4" cy="460.0"/><circle cx="451.6" cy="469.4"/><circle cx="451.8" cy="451.0"/><circle cx="451.9" cy="460.4"/><circle cx="452.2" cy="455.8"/><circle cx="452.4" cy="465.1"/><circle cx="452.6" cy="453.5"/><circle cx="452.7" cy="462.8"/><circle cx="452.7" cy="458.1"/><circle cx="453.1" cy="467.4"/><circle cx="453.1" cy="452.4"/><circle cx="453.4" cy="461.6"/><circle cx="453.5" cy="457.0"/><circle cx="453.8" cy="466.1"/><circle cx="454.0" cy="454.8"/><circle cx="454.3" cy="463.8"/><circle cx="454.5" cy="459.3"/><circle cx="454.5" cy="468.3"/><circle cx="454.6" cy="452.0"/><circle cx="455.0" cy="461.0"/><circle cx="455.2" cy="456.6"/></g><g fill="#df9475" stroke="#df9475"><circle cx="455.3" cy="61.3"/><circle cx="455.9" cy="54.3"/><circle cx="456.3" cy="68.2"/><circle cx="456.9" cy="51.0"/><circle cx="457.2" cy="64.6"/><circle cx="458.0" cy="57.8"/><circle cx="458.1" cy="71.1"/><circle cx="459.3" cy="46.1"/><circle cx="459.4" cy="59.1"/><circle cx="460.3" cy="52.7"/><circle cx="460.9" cy="65.2"/><circle cx="461.4" cy="49.8"/><circle cx="462.0" cy="62.0"/><circle cx="462.4" cy="56.0"/><circle cx="463.0" cy="67.8"/><circle cx="463.6" cy="48.8"/><circle cx="464.0" cy="60.4"/><circle cx="464.9" cy="54.8"/><circle cx="465.9" cy="65.7"/><circle cx="466.1" cy="52.2"/><circle cx="466.9" cy="62.8"/><circle cx="467.4" cy="57.6"/><circle cx="468.2" cy="67.5"/><circle cx="455.3" cy="131.4"/><circle cx="455.4" cy="144.2"/><circle cx="456.1" cy="137.8"/><circle cx="456.5" cy="150.6"/><circle cx="457.6" cy="127.4"/><circle cx="458.0" cy="140.2"/><circle cx="458.5" cy="133.8"/><circle cx="459.3" cy="146.6"/><circle cx="459.3" cy="130.6"/><circle cx="460.3" cy="143.4"/><circle cx="460.5" cy="137.0"/><circle cx="461.5" cy="149.9"/><circle cx="461.8" cy="128.9"/><circle cx="462.6" cy="141.8"/><circle cx="463.3" cy="135.4"/><circle cx="464.0" cy="148.3"/><circle cx="464.1" cy="132.1"/><circle cx="465.0" cy="145.1"/><circle cx="465.3" cy="138.6"/><circle cx="465.9" cy="151.6"/><circle cx="466.9" cy="125.8"/><circle cx="467.0" cy="138.8"/><circle cx="467.9" cy="132.2"/><circle cx="456.0" cy="220.4"/><circle cx="458.4" cy="217.1"/><circle cx="459.1" cy="219.4"/><circle cx="460.3" cy="218.1"/><circle cx="461.4" cy="220.8"/><circle cx="462.5" cy="217.4"/><circle cx="463.5" cy="220.1"/><circle cx="464.6" cy="218.8"/><circle cx="465.3" cy="221.5"/><circle cx="466.4" cy="216.6"/><circle cx="467.3" cy="219.3"/><circle cx="468.2" cy="217.9"/><circle cx="460.3" cy="298.3"/><circle cx="461.6" cy="301.0"/><circle cx="463.5" cy="296.3"/><circle cx="464.2" cy="300.9"/><circle cx="465.3" cy="297.8"/><circle cx="465.7" cy="305.5"/><circle cx="466.2" cy="292.0"/><circle cx="466.5" cy="300.8"/><circle cx="467.4" cy="295.4"/><circle cx="467.5" cy="306.5"/><circle cx="468.0" cy="291.9"/><circle cx="468.3" cy="304.4"/><circle cx="457.5" cy="379.9"/><circle cx="457.8" cy="377.3"/><circle cx="458.3" cy="383.0"/><circle cx="458.6" cy="375.0"/><circle cx="458.9" cy="381.7"/><circle cx="459.5" cy="377.9"/><circle cx="459.7" cy="386.4"/><circle cx="460.0" cy="371.9"/><circle cx="460.2" cy="381.1"/><circle cx="460.6" cy="376.1"/><circle cx="460.9" cy="386.5"/><circle cx="461.1" cy="373.0"/><circle cx="461.1" cy="384.2"/><circle cx="461.6" cy="378.4"/><circle cx="461.7" cy="390.9"/><circle cx="462.0" cy="367.7"/><circle cx="462.1" cy="380.7"/><circle cx="462.4" cy="373.9"/><circle cx="462.6" cy="387.9"/><circle cx="462.6" cy="370.1"/><circle cx="462.9" cy="384.6"/><circle cx="463.2" cy="377.0"/><circle cx="463.3" cy="392.4"/><circle cx="463.5" cy="366.7"/><circle cx="463.5" cy="382.9"/><circle cx="463.7" cy="374.7"/><circle cx="464.0" cy="391.6"/><circle cx="464.0" cy="370.3"/><circle cx="464.3" cy="387.5"/><circle cx="464.3" cy="378.8"/><circle cx="464.5" cy="397.0"/><circle cx="464.5" cy="362.3"/><circle cx="464.9" cy="380.5"/><circle cx="464.9" cy="371.0"/><circle cx="465.1" cy="390.0"/><circle cx="465.3" cy="366.0"/><circle cx="465.4" cy="385.5"/><circle cx="465.5" cy="375.6"/><circle cx="465.6" cy="395.7"/><circle cx="465.9" cy="362.5"/><circle cx="466.0" cy="383.2"/><circle cx="466.0" cy="372.7"/><circle cx="466.2" cy="393.9"/><circle cx="466.4" cy="367.0"/><circle cx="466.4" cy="388.8"/><circle cx="466.6" cy="377.8"/><circle cx="466.7" cy="400.2"/><circle cx="466.9" cy="359.6"/><circle cx="466.9" cy="382.0"/><circle cx="467.0" cy="370.7"/><circle cx="467.2" cy="393.5"/><circle cx="467.2" cy="364.9"/><circle cx="467.4" cy="387.8"/><circle cx="467.4" cy="376.3"/><circle cx="467.6" cy="399.6"/><circle cx="467.6" cy="361.7"/><circle cx="467.8" cy="385.0"/><circle cx="467.9" cy="373.2"/><circle cx="468.0" cy="397.0"/><circle cx="468.2" cy="367.1"/><circle cx="468.3" cy="391.2"/><circle cx="455.3" cy="465.4"/><circle cx="455.3" cy="454.4"/><circle cx="455.6" cy="463.2"/><circle cx="455.9" cy="458.8"/><circle cx="456.2" cy="467.5"/><circle cx="456.3" cy="453.4"/><circle cx="456.4" cy="462.1"/><circle cx="456.7" cy="457.7"/><circle cx="456.7" cy="466.4"/><circle cx="456.9" cy="455.6"/><circle cx="457.3" cy="464.2"/><circle cx="457.3" cy="459.9"/><circle cx="457.5" cy="468.4"/><circle cx="457.7" cy="452.2"/><circle cx="458.0" cy="460.7"/><circle cx="458.3" cy="456.5"/><circle cx="458.5" cy="464.9"/><circle cx="458.7" cy="454.4"/><circle cx="458.7" cy="462.8"/><circle cx="458.9" cy="458.6"/><circle cx="459.2" cy="466.9"/><circle cx="459.3" cy="453.5"/><circle cx="459.5" cy="461.7"/><circle cx="460.0" cy="457.6"/><circle cx="460.0" cy="465.7"/><circle cx="460.2" cy="455.6"/><circle cx="460.4" cy="463.7"/><circle cx="460.7" cy="459.7"/><circle cx="460.9" cy="467.7"/><circle cx="461.0" cy="453.2"/><circle cx="461.2" cy="461.2"/><circle cx="461.3" cy="457.2"/><circle cx="461.5" cy="465.0"/><circle cx="461.8" cy="455.4"/><circle cx="462.2" cy="463.0"/><circle cx="462.2" cy="459.2"/><circle cx="462.6" cy="466.8"/><circle cx="462.8" cy="454.6"/><circle cx="463.0" cy="462.0"/><circle cx="463.3" cy="458.3"/><circle cx="463.5" cy="465.7"/><circle cx="463.6" cy="456.6"/><circle cx="463.9" cy="463.8"/><circle cx="464.0" cy="460.2"/><circle cx="464.5" cy="467.2"/><circle cx="464.6" cy="453.4"/><circle cx="464.9" cy="460.4"/><circle cx="464.9" cy="456.9"/><circle cx="465.3" cy="463.8"/><circle cx="465.5" cy="455.3"/><circle cx="465.8" cy="462.0"/><circle cx="465.9" cy="458.7"/><circle cx="466.3" cy="465.3"/><circle cx="466.6" cy="454.7"/><circle cx="466.7" cy="461.2"/><circle cx="466.9" cy="458.0"/><circle cx="467.4" cy="464.3"/><circle cx="467.6" cy="456.5"/><circle cx="467.9" cy="462.7"/><circle cx="468.2" cy="459.6"/><circle cx="468.0" cy="621.1"/><circle cx="468.1" cy="609.2"/><circle cx="468.2" cy="633.1"/><circle cx="468.2" cy="603.1"/></g><g fill="#dd9078" stroke="#dd9078"><circle cx="469.1" cy="50.0"/><circle cx="469.9" cy="59.4"/><circle cx="471.1" cy="55.0"/><circle cx="471.5" cy="63.5"/><circle cx="472.6" cy="53.4"/><circle cx="473.9" cy="60.9"/><circle cx="474.9" cy="57.5"/><circle cx="475.9" cy="63.5"/><circle cx="476.5" cy="54.1"/><circle cx="468.7" cy="145.3"/><circle cx="469.0" cy="129.0"/><circle cx="469.8" cy="142.0"/><circle cx="470.3" cy="135.5"/><circle cx="471.0" cy="148.6"/><circle cx="471.2" cy="127.3"/><circle cx="472.1" cy="140.4"/><circle cx="472.7" cy="133.8"/><circle cx="473.3" cy="147.0"/><circle cx="473.4" cy="130.5"/><circle cx="474.6" cy="143.7"/><circle cx="474.7" cy="137.1"/><circle cx="475.4" cy="150.3"/><circle cx="475.9" cy="126.4"/><circle cx="476.6" cy="139.6"/><circle cx="476.7" cy="133.0"/><circle cx="478.1" cy="146.4"/><circle cx="478.6" cy="129.3"/><circle cx="479.1" cy="143.1"/><circle cx="479.5" cy="136.1"/><circle cx="480.0" cy="150.3"/><circle cx="480.6" cy="127.2"/><circle cx="481.1" cy="141.4"/><circle cx="469.1" cy="220.6"/><circle cx="470.8" cy="217.2"/><circle cx="471.3" cy="220.0"/><circle cx="472.7" cy="218.6"/><circle cx="473.7" cy="221.6"/><circle cx="474.2" cy="216.6"/><circle cx="475.6" cy="219.7"/><circle cx="475.9" cy="218.1"/><circle cx="477.0" cy="221.5"/><circle cx="478.0" cy="217.2"/><circle cx="478.6" cy="220.7"/><circle cx="479.6" cy="218.9"/><circle cx="480.0" cy="222.6"/><circle cx="481.1" cy="215.4"/><circle cx="468.8" cy="297.9"/><circle cx="469.0" cy="311.9"/><circle cx="469.3" cy="286.3"/><circle cx="469.6" cy="300.5"/><circle cx="470.1" cy="293.0"/><circle cx="470.1" cy="308.2"/><circle cx="470.6" cy="288.9"/><circle cx="470.9" cy="304.6"/><circle cx="471.3" cy="296.6"/><circle cx="471.6" cy="313.1"/><circle cx="471.7" cy="286.0"/><circle cx="472.1" cy="302.8"/><circle cx="472.4" cy="294.2"/><circle cx="472.9" cy="311.8"/><circle cx="472.9" cy="289.7"/><circle cx="473.2" cy="307.6"/><circle cx="473.4" cy="298.5"/><circle cx="473.7" cy="317.2"/><circle cx="473.9" cy="281.5"/><circle cx="474.1" cy="300.2"/><circle cx="474.3" cy="290.6"/><circle cx="474.6" cy="310.0"/><circle cx="474.9" cy="285.4"/><circle cx="475.2" cy="305.3"/><circle cx="475.2" cy="295.3"/><circle cx="475.5" cy="315.5"/><circle cx="475.9" cy="282.4"/><circle cx="476.2" cy="302.9"/><circle cx="476.3" cy="292.5"/><circle cx="476.7" cy="313.5"/><circle cx="476.8" cy="287.0"/><circle cx="477.1" cy="308.4"/><circle cx="477.2" cy="297.6"/><circle cx="477.4" cy="319.4"/><circle cx="477.5" cy="279.8"/><circle cx="477.9" cy="301.7"/><circle cx="478.0" cy="290.6"/><circle cx="478.5" cy="313.1"/><circle cx="478.5" cy="284.9"/><circle cx="478.9" cy="307.5"/><circle cx="479.1" cy="296.1"/><circle cx="479.2" cy="319.2"/><circle cx="479.4" cy="281.4"/><circle cx="479.5" cy="304.8"/><circle cx="479.6" cy="293.1"/><circle cx="480.0" cy="316.8"/><circle cx="480.3" cy="286.9"/><circle cx="480.3" cy="311.0"/><circle cx="480.6" cy="298.9"/><circle cx="480.6" cy="323.2"/><circle cx="480.9" cy="275.6"/><circle cx="481.0" cy="300.1"/><circle cx="481.3" cy="287.7"/><circle cx="468.4" cy="379.1"/><circle cx="468.5" cy="403.4"/><circle cx="468.6" cy="355.8"/><circle cx="468.7" cy="380.3"/><circle cx="468.8" cy="367.9"/><circle cx="468.9" cy="392.8"/><circle cx="469.0" cy="361.6"/><circle cx="469.1" cy="386.6"/><circle cx="469.2" cy="374.0"/><circle cx="469.4" cy="399.4"/><circle cx="469.5" cy="358.1"/><circle cx="469.5" cy="383.5"/><circle cx="469.7" cy="370.7"/><circle cx="469.8" cy="396.5"/><circle cx="469.9" cy="364.0"/><circle cx="469.9" cy="390.1"/><circle cx="470.1" cy="377.0"/><circle cx="470.2" cy="403.4"/><circle cx="470.3" cy="355.4"/><circle cx="470.4" cy="382.0"/><circle cx="470.5" cy="368.7"/><circle cx="470.6" cy="395.4"/><circle cx="470.7" cy="361.9"/><circle cx="470.7" cy="388.8"/><circle cx="470.9" cy="375.2"/><circle cx="471.0" cy="402.5"/><circle cx="471.0" cy="358.1"/><circle cx="471.1" cy="385.5"/><circle cx="471.2" cy="371.7"/><circle cx="471.3" cy="399.4"/><circle cx="471.3" cy="364.7"/><circle cx="471.5" cy="392.6"/><circle cx="471.6" cy="378.6"/><circle cx="471.7" cy="406.8"/><circle cx="471.7" cy="353.0"/><circle cx="471.9" cy="381.2"/><circle cx="472.0" cy="367.0"/><circle cx="472.1" cy="395.6"/><circle cx="472.3" cy="359.7"/><circle cx="472.4" cy="388.5"/><circle cx="472.4" cy="374.0"/><circle cx="472.5" cy="403.2"/><circle cx="472.6" cy="355.7"/><circle cx="472.6" cy="384.9"/><circle cx="472.8" cy="370.3"/><circle cx="472.9" cy="399.6"/><circle cx="472.9" cy="362.9"/><circle cx="473.0" cy="392.3"/><circle cx="473.2" cy="377.6"/><circle cx="473.2" cy="407.1"/><circle cx="473.4" cy="353.5"/><circle cx="473.5" cy="383.1"/><circle cx="473.5" cy="368.3"/><circle cx="473.7" cy="398.0"/><circle cx="473.7" cy="360.9"/><circle cx="473.8" cy="390.6"/><circle cx="473.8" cy="375.7"/><circle cx="474.0" cy="405.6"/><circle cx="474.1" cy="357.0"/><circle cx="474.1" cy="386.9"/><circle cx="474.2" cy="371.9"/><circle cx="474.2" cy="401.9"/><circle cx="474.4" cy="364.4"/><circle cx="474.4" cy="394.5"/><circle cx="474.5" cy="379.4"/><circle cx="474.8" cy="409.7"/><circle cx="474.8" cy="349.9"/><circle cx="474.8" cy="380.1"/><circle cx="475.0" cy="364.9"/><circle cx="475.0" cy="395.3"/><circle cx="475.1" cy="357.4"/><circle cx="475.3" cy="387.8"/><circle cx="475.3" cy="372.5"/><circle cx="475.4" cy="403.1"/><circle cx="475.4" cy="353.4"/><circle cx="475.6" cy="384.0"/><circle cx="475.7" cy="368.6"/><circle cx="475.8" cy="399.4"/><circle cx="475.8" cy="360.9"/><circle cx="475.9" cy="391.7"/><circle cx="476.0" cy="376.3"/><circle cx="476.1" cy="407.2"/><circle cx="476.1" cy="351.1"/><circle cx="476.1" cy="382.1"/><circle cx="476.2" cy="366.6"/><circle cx="476.5" cy="397.6"/><circle cx="476.5" cy="358.8"/><circle cx="476.5" cy="389.9"/><circle cx="476.6" cy="374.3"/><circle cx="476.8" cy="405.5"/><circle cx="476.9" cy="354.7"/><circle cx="476.9" cy="386.0"/><circle cx="476.9" cy="370.3"/><circle cx="476.9" cy="401.7"/><circle cx="477.2" cy="362.4"/><circle cx="477.2" cy="393.9"/><circle cx="477.4" cy="378.2"/><circle cx="477.4" cy="409.7"/><circle cx="477.6" cy="349.5"/><circle cx="477.7" cy="381.1"/><circle cx="477.7" cy="365.3"/><circle cx="477.8" cy="397.0"/><circle cx="477.9" cy="357.3"/><circle cx="478.0" cy="389.1"/><circle cx="478.0" cy="373.2"/><circle cx="478.0" cy="405.0"/><circle cx="478.2" cy="353.2"/><circle cx="478.3" cy="385.1"/><circle cx="478.4" cy="369.1"/><circle cx="478.5" cy="401.2"/><circle cx="478.6" cy="361.1"/><circle cx="478.6" cy="393.2"/><circle cx="478.8" cy="377.1"/><circle cx="478.9" cy="409.3"/><circle cx="478.9" cy="351.0"/><circle cx="479.0" cy="383.2"/><circle cx="479.0" cy="367.1"/><circle cx="479.0" cy="399.2"/><circle cx="479.1" cy="359.2"/><circle cx="479.3" cy="391.1"/><circle cx="479.3" cy="375.2"/><circle cx="479.4" cy="406.9"/><circle cx="479.7" cy="355.5"/><circle cx="479.7" cy="387.1"/><circle cx="479.7" cy="371.3"/><circle cx="479.7" cy="402.8"/><circle cx="479.8" cy="363.4"/><circle cx="480.0" cy="394.8"/><circle cx="480.1" cy="379.2"/><circle cx="480.2" cy="410.4"/><circle cx="480.2" cy="349.4"/><circle cx="480.3" cy="380.6"/><circle cx="480.4" cy="365.1"/><circle cx="480.4" cy="396.2"/><circle cx="480.5" cy="357.4"/><circle cx="480.6" cy="388.4"/><circle cx="480.7" cy="372.9"/><circle cx="480.7" cy="403.7"/><circle cx="480.9" cy="353.7"/><circle cx="481.0" cy="384.5"/><circle cx="481.1" cy="369.1"/><circle cx="481.1" cy="399.7"/><circle cx="481.2" cy="361.5"/><circle cx="468.3" cy="465.6"/><circle cx="468.8" cy="454.8"/><circle cx="469.1" cy="460.7"/><circle cx="469.3" cy="457.9"/><circle cx="469.6" cy="463.4"/><circle cx="469.8" cy="456.7"/><circle cx="470.2" cy="461.9"/><circle cx="470.6" cy="459.4"/><circle cx="470.7" cy="464.1"/><circle cx="471.3" cy="456.8"/><circle cx="471.9" cy="461.1"/><circle cx="472.1" cy="459.1"/><circle cx="472.4" cy="462.8"/><circle cx="473.1" cy="458.5"/><circle cx="473.9" cy="461.5"/><circle cx="474.3" cy="460.2"/><circle cx="474.8" cy="462.2"/><circle cx="475.9" cy="458.3"/><circle cx="476.5" cy="460.4"/><circle cx="477.5" cy="459.2"/><circle cx="477.8" cy="461.6"/><circle cx="478.8" cy="458.5"/><circle cx="479.5" cy="461.1"/><circle cx="480.1" cy="459.7"/><circle cx="480.5" cy="462.5"/><circle cx="480.9" cy="457.9"/><circle cx="468.3" cy="627.2"/><circle cx="468.4" cy="615.0"/><circle cx="468.6" cy="639.5"/><circle cx="468.7" cy="599.4"/><circle cx="468.7" cy="624.2"/><circle cx="468.9" cy="611.7"/><circle cx="469.0" cy="636.7"/><circle cx="469.1" cy="605.3"/><circle cx="469.2" cy="630.6"/><circle cx="469.3" cy="617.9"/><circle cx="469.3" cy="643.4"/><circle cx="469.5" cy="597.0"/><circle cx="469.7" cy="622.7"/><circle cx="469.8" cy="609.7"/><circle cx="469.9" cy="635.7"/><circle cx="470.0" cy="603.1"/><circle cx="470.0" cy="629.3"/><circle cx="470.2" cy="616.2"/><circle cx="470.2" cy="642.4"/><circle cx="470.3" cy="599.7"/><circle cx="470.4" cy="626.0"/><circle cx="470.5" cy="612.8"/><circle cx="470.7" cy="639.3"/><circle cx="470.8" cy="606.2"/><circle cx="470.9" cy="632.7"/><circle cx="470.9" cy="619.4"/><circle cx="471.0" cy="646.0"/><circle cx="471.1" cy="595.3"/><circle cx="471.2" cy="621.9"/><circle cx="471.3" cy="608.6"/><circle cx="471.4" cy="635.3"/><circle cx="471.5" cy="601.9"/><circle cx="471.6" cy="628.6"/><circle cx="471.8" cy="615.2"/><circle cx="471.9" cy="642.1"/><circle cx="471.9" cy="598.4"/><circle cx="472.0" cy="625.3"/><circle cx="472.1" cy="611.8"/><circle cx="472.2" cy="638.8"/><circle cx="472.2" cy="605.1"/><circle cx="472.4" cy="632.1"/><circle cx="472.4" cy="618.6"/><circle cx="472.5" cy="645.7"/><circle cx="472.6" cy="596.5"/><circle cx="472.7" cy="623.6"/><circle cx="473.0" cy="610.0"/><circle cx="473.1" cy="637.3"/><circle cx="473.1" cy="603.2"/><circle cx="473.2" cy="630.5"/><circle cx="473.2" cy="616.8"/><circle cx="473.4" cy="644.2"/><circle cx="473.4" cy="599.7"/><circle cx="473.6" cy="627.1"/><circle cx="473.7" cy="613.4"/><circle cx="473.8" cy="640.9"/><circle cx="473.9" cy="606.5"/><circle cx="474.0" cy="634.1"/><circle cx="474.0" cy="620.2"/><circle cx="474.1" cy="647.9"/><circle cx="474.2" cy="593.8"/><circle cx="474.3" cy="621.5"/><circle cx="474.4" cy="607.6"/><circle cx="474.4" cy="635.4"/><circle cx="474.5" cy="600.7"/><circle cx="474.7" cy="628.5"/><circle cx="474.8" cy="614.6"/><circle cx="474.9" cy="642.5"/><circle cx="475.0" cy="597.0"/><circle cx="475.1" cy="625.0"/><circle cx="475.2" cy="611.0"/><circle cx="475.3" cy="639.1"/><circle cx="475.3" cy="604.0"/><circle cx="475.5" cy="632.1"/><circle cx="475.5" cy="618.0"/><circle cx="475.7" cy="646.2"/><circle cx="475.7" cy="595.3"/><circle cx="475.8" cy="623.3"/><circle cx="475.9" cy="609.3"/><circle cx="476.0" cy="637.2"/><circle cx="476.2" cy="602.5"/><circle cx="476.2" cy="630.2"/><circle cx="476.2" cy="616.3"/><circle cx="476.4" cy="643.8"/><circle cx="476.5" cy="599.2"/><circle cx="476.5" cy="626.6"/><circle cx="476.6" cy="613.0"/><circle cx="476.8" cy="640.1"/><circle cx="476.9" cy="606.3"/><circle cx="476.9" cy="633.3"/><circle cx="477.0" cy="619.8"/><circle cx="477.2" cy="646.6"/><circle cx="477.3" cy="595.6"/><circle cx="477.4" cy="622.3"/><circle cx="477.5" cy="609.1"/><circle cx="477.6" cy="635.5"/><circle cx="477.6" cy="602.6"/><circle cx="477.8" cy="628.9"/><circle cx="477.9" cy="615.8"/><circle cx="478.0" cy="641.8"/><circle cx="478.0" cy="599.6"/><circle cx="478.2" cy="625.5"/><circle cx="478.3" cy="612.6"/><circle cx="478.3" cy="638.3"/><circle cx="478.4" cy="606.3"/><circle cx="478.6" cy="631.8"/><circle cx="478.6" cy="619.1"/><circle cx="478.9" cy="644.3"/><circle cx="478.9" cy="598.6"/><circle cx="478.9" cy="623.8"/><circle cx="479.0" cy="611.3"/><circle cx="479.1" cy="636.2"/><circle cx="479.1" cy="605.2"/><circle cx="479.4" cy="630.0"/><circle cx="479.6" cy="617.7"/><circle cx="479.6" cy="642.1"/><circle cx="479.6" cy="602.4"/><circle cx="479.7" cy="626.8"/><circle cx="479.9" cy="614.7"/><circle cx="480.0" cy="638.8"/><circle cx="480.2" cy="608.8"/><circle cx="480.2" cy="632.7"/><circle cx="480.4" cy="620.7"/><circle cx="480.5" cy="644.5"/><circle cx="480.5" cy="597.7"/><circle cx="480.9" cy="621.3"/><circle cx="480.9" cy="609.6"/><circle cx="480.9" cy="632.9"/><circle cx="481.0" cy="603.9"/><circle cx="481.1" cy="627.0"/><circle cx="481.2" cy="615.5"/></g><g fill="#da8c7b" stroke="#da8c7b"><circle cx="481.6" cy="58.3"/><circle cx="490.7" cy="51.1"/><circle cx="490.7" cy="64.2"/><circle cx="481.6" cy="134.3"/><circle cx="482.0" cy="148.5"/><circle cx="482.8" cy="130.8"/><circle cx="483.0" cy="145.0"/><circle cx="483.4" cy="137.9"/><circle cx="484.4" cy="152.1"/><circle cx="484.6" cy="125.0"/><circle cx="485.1" cy="139.2"/><circle cx="485.5" cy="132.1"/><circle cx="486.2" cy="146.3"/><circle cx="486.7" cy="128.5"/><circle cx="487.2" cy="142.7"/><circle cx="488.0" cy="135.6"/><circle cx="488.4" cy="149.8"/><circle cx="488.8" cy="126.8"/><circle cx="489.4" cy="141.0"/><circle cx="490.2" cy="133.9"/><circle cx="490.3" cy="148.1"/><circle cx="491.0" cy="130.3"/><circle cx="491.6" cy="144.5"/><circle cx="492.0" cy="137.4"/><circle cx="492.9" cy="151.6"/><circle cx="493.2" cy="125.9"/><circle cx="493.7" cy="140.1"/><circle cx="494.3" cy="133.0"/><circle cx="482.0" cy="219.3"/><circle cx="482.2" cy="217.3"/><circle cx="482.7" cy="221.2"/><circle cx="483.8" cy="216.2"/><circle cx="484.4" cy="220.3"/><circle cx="485.4" cy="218.2"/><circle cx="485.5" cy="222.4"/><circle cx="486.4" cy="215.5"/><circle cx="487.2" cy="219.8"/><circle cx="487.7" cy="217.6"/><circle cx="488.2" cy="222.1"/><circle cx="488.9" cy="216.4"/><circle cx="489.6" cy="221.0"/><circle cx="489.9" cy="218.7"/><circle cx="490.8" cy="223.4"/><circle cx="491.5" cy="214.9"/><circle cx="491.5" cy="219.6"/><circle cx="492.3" cy="217.2"/><circle cx="492.7" cy="221.9"/><circle cx="493.8" cy="216.1"/><circle cx="494.0" cy="220.8"/><circle cx="481.5" cy="312.6"/><circle cx="481.6" cy="281.3"/><circle cx="481.7" cy="306.4"/><circle cx="481.9" cy="293.7"/><circle cx="482.1" cy="319.3"/><circle cx="482.1" cy="277.7"/><circle cx="482.5" cy="303.3"/><circle cx="482.8" cy="290.3"/><circle cx="483.0" cy="316.5"/><circle cx="483.1" cy="283.7"/><circle cx="483.4" cy="310.0"/><circle cx="483.6" cy="296.8"/><circle cx="483.7" cy="323.3"/><circle cx="483.7" cy="275.3"/><circle cx="484.1" cy="301.8"/><circle cx="484.2" cy="288.5"/><circle cx="484.5" cy="315.2"/><circle cx="484.5" cy="281.7"/><circle cx="484.6" cy="308.5"/><circle cx="485.0" cy="295.1"/><circle cx="485.1" cy="322.1"/><circle cx="485.2" cy="278.1"/><circle cx="485.4" cy="305.2"/><circle cx="485.5" cy="291.6"/><circle cx="485.9" cy="318.9"/><circle cx="486.0" cy="284.7"/><circle cx="486.0" cy="312.1"/><circle cx="486.1" cy="298.4"/><circle cx="486.5" cy="326.0"/><circle cx="486.6" cy="273.4"/><circle cx="486.8" cy="301.0"/><circle cx="486.9" cy="287.2"/><circle cx="487.0" cy="314.9"/><circle cx="487.2" cy="280.1"/><circle cx="487.4" cy="308.0"/><circle cx="487.7" cy="294.0"/><circle cx="487.8" cy="322.1"/><circle cx="487.9" cy="276.4"/><circle cx="488.2" cy="304.6"/><circle cx="488.3" cy="290.4"/><circle cx="488.5" cy="318.8"/><circle cx="488.5" cy="283.3"/><circle cx="488.9" cy="311.7"/><circle cx="489.1" cy="297.5"/><circle cx="489.1" cy="326.1"/><circle cx="489.1" cy="274.2"/><circle cx="489.5" cy="302.9"/><circle cx="489.6" cy="288.5"/><circle cx="489.6" cy="317.3"/><circle cx="489.8" cy="281.2"/><circle cx="489.9" cy="310.1"/><circle cx="490.2" cy="295.6"/><circle cx="490.4" cy="324.8"/><circle cx="490.6" cy="277.4"/><circle cx="490.7" cy="306.6"/><circle cx="490.9" cy="291.9"/><circle cx="491.0" cy="321.3"/><circle cx="491.2" cy="284.5"/><circle cx="491.4" cy="314.0"/><circle cx="491.5" cy="299.3"/><circle cx="491.7" cy="329.0"/><circle cx="491.8" cy="269.9"/><circle cx="491.9" cy="299.6"/><circle cx="492.2" cy="284.7"/><circle cx="492.2" cy="314.5"/><circle cx="492.5" cy="277.2"/><circle cx="492.7" cy="307.1"/><circle cx="492.7" cy="292.1"/><circle cx="492.8" cy="322.2"/><circle cx="493.0" cy="273.2"/><circle cx="493.1" cy="303.4"/><circle cx="493.3" cy="288.3"/><circle cx="493.6" cy="318.5"/><circle cx="493.6" cy="280.7"/><circle cx="493.9" cy="311.0"/><circle cx="494.1" cy="295.8"/><circle cx="494.1" cy="326.1"/><circle cx="494.3" cy="271.2"/><circle cx="494.3" cy="301.5"/><circle cx="481.3" cy="392.0"/><circle cx="481.4" cy="376.8"/><circle cx="481.6" cy="407.1"/><circle cx="481.6" cy="352.2"/><circle cx="481.8" cy="382.5"/><circle cx="481.8" cy="367.4"/><circle cx="481.9" cy="397.6"/><circle cx="481.9" cy="360.0"/><circle cx="482.0" cy="390.0"/><circle cx="482.2" cy="375.0"/><circle cx="482.3" cy="404.9"/><circle cx="482.3" cy="356.3"/><circle cx="482.4" cy="386.2"/><circle cx="482.6" cy="371.3"/><circle cx="482.6" cy="401.0"/><circle cx="482.6" cy="363.9"/><circle cx="482.7" cy="393.5"/><circle cx="482.8" cy="378.7"/><circle cx="483.0" cy="408.1"/><circle cx="483.1" cy="352.1"/><circle cx="483.2" cy="381.5"/><circle cx="483.2" cy="366.9"/><circle cx="483.4" cy="396.1"/><circle cx="483.5" cy="359.7"/><circle cx="483.5" cy="388.7"/><circle cx="483.5" cy="374.2"/><circle cx="483.7" cy="403.2"/><circle cx="483.8" cy="356.2"/><circle cx="483.8" cy="385.1"/><circle cx="484.0" cy="370.7"/><circle cx="484.0" cy="399.4"/><circle cx="484.1" cy="363.6"/><circle cx="484.3" cy="392.2"/><circle cx="484.4" cy="377.9"/><circle cx="484.4" cy="406.4"/><circle cx="484.5" cy="354.8"/><circle cx="484.6" cy="383.2"/><circle cx="484.7" cy="369.1"/><circle cx="484.9" cy="397.3"/><circle cx="484.9" cy="362.1"/><circle cx="485.0" cy="390.2"/><circle cx="485.1" cy="376.2"/><circle cx="485.1" cy="404.1"/><circle cx="485.2" cy="358.7"/><circle cx="485.4" cy="386.6"/><circle cx="485.5" cy="372.7"/><circle cx="485.5" cy="400.5"/><circle cx="485.7" cy="365.8"/><circle cx="485.7" cy="393.5"/><circle cx="485.9" cy="379.7"/><circle cx="485.9" cy="407.3"/><circle cx="485.9" cy="352.6"/><circle cx="486.3" cy="380.0"/><circle cx="486.3" cy="366.4"/><circle cx="486.4" cy="393.6"/><circle cx="486.5" cy="359.6"/><circle cx="486.6" cy="386.8"/><circle cx="486.7" cy="373.2"/><circle cx="486.8" cy="400.2"/><circle cx="486.8" cy="356.4"/><circle cx="486.9" cy="383.4"/><circle cx="486.9" cy="370.0"/><circle cx="487.2" cy="396.7"/><circle cx="487.3" cy="363.3"/><circle cx="487.4" cy="390.0"/><circle cx="487.4" cy="376.7"/><circle cx="487.5" cy="403.1"/><circle cx="487.6" cy="355.2"/><circle cx="487.6" cy="381.7"/><circle cx="487.7" cy="368.5"/><circle cx="487.9" cy="394.8"/><circle cx="487.9" cy="362.0"/><circle cx="488.0" cy="388.2"/><circle cx="488.3" cy="375.1"/><circle cx="488.4" cy="401.1"/><circle cx="488.4" cy="358.9"/><circle cx="488.7" cy="384.8"/><circle cx="488.7" cy="371.9"/><circle cx="488.8" cy="397.6"/><circle cx="488.8" cy="365.6"/><circle cx="488.9" cy="391.2"/><circle cx="489.0" cy="378.4"/><circle cx="489.2" cy="403.8"/><circle cx="489.4" cy="355.5"/><circle cx="489.4" cy="380.8"/><circle cx="489.6" cy="368.2"/><circle cx="489.7" cy="393.4"/><circle cx="489.7" cy="362.0"/><circle cx="489.8" cy="387.0"/><circle cx="490.0" cy="374.5"/><circle cx="490.1" cy="399.5"/><circle cx="490.2" cy="359.1"/><circle cx="490.3" cy="383.9"/><circle cx="490.4" cy="371.5"/><circle cx="490.4" cy="396.2"/><circle cx="490.6" cy="365.4"/><circle cx="490.7" cy="390.0"/><circle cx="490.8" cy="377.7"/><circle cx="490.8" cy="402.1"/><circle cx="491.1" cy="358.0"/><circle cx="491.1" cy="382.3"/><circle cx="491.2" cy="370.2"/><circle cx="491.4" cy="394.3"/><circle cx="491.4" cy="364.2"/><circle cx="491.5" cy="388.2"/><circle cx="491.7" cy="376.3"/><circle cx="491.9" cy="400.0"/><circle cx="491.9" cy="361.4"/><circle cx="492.0" cy="385.2"/><circle cx="492.1" cy="373.3"/><circle cx="492.1" cy="396.9"/><circle cx="492.3" cy="367.6"/><circle cx="492.4" cy="391.0"/><circle cx="492.7" cy="379.3"/><circle cx="492.7" cy="402.4"/><circle cx="492.8" cy="357.2"/><circle cx="492.8" cy="380.4"/><circle cx="493.0" cy="368.8"/><circle cx="493.2" cy="391.8"/><circle cx="493.2" cy="363.2"/><circle cx="493.5" cy="386.0"/><circle cx="493.6" cy="374.7"/><circle cx="493.6" cy="397.4"/><circle cx="493.8" cy="360.6"/><circle cx="493.9" cy="383.2"/><circle cx="493.9" cy="371.9"/><circle cx="493.9" cy="394.4"/><circle cx="494.3" cy="366.3"/><circle cx="481.6" cy="460.8"/><circle cx="482.6" cy="459.3"/><circle cx="482.7" cy="462.2"/><circle cx="483.6" cy="458.6"/><circle cx="483.7" cy="461.5"/><circle cx="484.8" cy="460.1"/><circle cx="485.1" cy="463.0"/><circle cx="485.6" cy="457.7"/><circle cx="486.4" cy="460.6"/><circle cx="487.2" cy="459.1"/><circle cx="487.4" cy="462.0"/><circle cx="488.5" cy="458.4"/><circle cx="488.8" cy="461.3"/><circle cx="489.4" cy="459.9"/><circle cx="490.3" cy="462.7"/><circle cx="490.5" cy="458.2"/><circle cx="491.0" cy="460.9"/><circle cx="491.5" cy="459.6"/><circle cx="492.2" cy="462.2"/><circle cx="493.0" cy="459.0"/><circle cx="493.8" cy="461.5"/><circle cx="487.0" cy="540.7"/><circle cx="487.0" cy="535.6"/><circle cx="487.1" cy="545.8"/><circle cx="487.1" cy="532.2"/><circle cx="487.2" cy="543.6"/><circle cx="487.2" cy="537.9"/><circle cx="487.2" cy="549.2"/><circle cx="487.2" cy="530.7"/><circle cx="487.3" cy="542.3"/><circle cx="487.4" cy="536.0"/><circle cx="487.4" cy="548.6"/><circle cx="487.4" cy="532.8"/><circle cx="487.5" cy="545.4"/><circle cx="487.6" cy="539.0"/><circle cx="487.6" cy="552.8"/><circle cx="487.6" cy="527.8"/><circle cx="487.6" cy="541.6"/><circle cx="487.6" cy="534.7"/><circle cx="487.7" cy="549.1"/><circle cx="487.8" cy="530.4"/><circle cx="487.8" cy="545.4"/><circle cx="487.9" cy="537.9"/><circle cx="487.9" cy="552.9"/><circle cx="487.9" cy="527.5"/><circle cx="488.0" cy="543.7"/><circle cx="488.0" cy="535.6"/><circle cx="488.0" cy="551.8"/><circle cx="488.1" cy="531.6"/><circle cx="488.1" cy="547.8"/><circle cx="488.1" cy="539.6"/><circle cx="488.1" cy="557.0"/><circle cx="488.2" cy="523.8"/><circle cx="488.2" cy="541.2"/><circle cx="488.2" cy="532.5"/><circle cx="488.2" cy="549.9"/><circle cx="488.3" cy="528.2"/><circle cx="488.3" cy="545.9"/><circle cx="488.3" cy="536.6"/><circle cx="488.4" cy="555.2"/><circle cx="488.4" cy="525.0"/><circle cx="488.4" cy="543.6"/><circle cx="488.5" cy="534.3"/><circle cx="488.5" cy="553.7"/><circle cx="488.5" cy="528.9"/><circle cx="488.5" cy="548.7"/><circle cx="488.5" cy="538.8"/><circle cx="488.6" cy="558.6"/><circle cx="488.6" cy="522.8"/><circle cx="488.6" cy="542.6"/><circle cx="488.7" cy="532.7"/><circle cx="488.7" cy="553.2"/><circle cx="488.7" cy="526.9"/><circle cx="488.7" cy="547.9"/><circle cx="488.8" cy="537.4"/><circle cx="488.8" cy="558.4"/><circle cx="488.8" cy="524.3"/><circle cx="488.8" cy="545.3"/><circle cx="488.9" cy="534.5"/><circle cx="488.9" cy="556.7"/><circle cx="488.9" cy="528.9"/><circle cx="489.0" cy="551.1"/><circle cx="489.0" cy="540.0"/><circle cx="489.0" cy="562.2"/><circle cx="489.0" cy="518.8"/><circle cx="489.0" cy="541.0"/><circle cx="489.1" cy="529.9"/><circle cx="489.1" cy="552.7"/><circle cx="489.2" cy="523.6"/><circle cx="489.2" cy="546.9"/><circle cx="489.2" cy="535.2"/><circle cx="489.2" cy="558.5"/><circle cx="489.2" cy="520.7"/><circle cx="489.3" cy="544.0"/><circle cx="489.3" cy="532.3"/><circle cx="489.3" cy="556.3"/><circle cx="489.4" cy="525.9"/><circle cx="489.4" cy="550.2"/><circle cx="489.4" cy="538.0"/><circle cx="489.4" cy="562.4"/><circle cx="489.4" cy="518.3"/><circle cx="489.5" cy="542.6"/><circle cx="489.5" cy="530.4"/><circle cx="489.5" cy="554.8"/><circle cx="489.5" cy="523.6"/><circle cx="489.6" cy="549.0"/><circle cx="489.6" cy="536.3"/><circle cx="489.6" cy="561.7"/><circle cx="489.6" cy="520.5"/><circle cx="489.7" cy="545.9"/><circle cx="489.7" cy="533.2"/><circle cx="489.7" cy="558.6"/><circle cx="489.7" cy="526.8"/><circle cx="489.7" cy="552.7"/><circle cx="489.7" cy="539.5"/><circle cx="489.8" cy="565.9"/><circle cx="489.8" cy="515.5"/><circle cx="489.8" cy="541.9"/><circle cx="489.9" cy="528.7"/><circle cx="489.9" cy="555.2"/><circle cx="489.9" cy="522.1"/><circle cx="489.9" cy="548.6"/><circle cx="489.9" cy="535.3"/><circle cx="489.9" cy="562.6"/><circle cx="489.9" cy="517.9"/><circle cx="489.9" cy="545.4"/><circle cx="489.9" cy="531.7"/><circle cx="490.0" cy="559.2"/><circle cx="490.0" cy="524.8"/><circle cx="490.0" cy="552.3"/><circle cx="490.0" cy="538.5"/><circle cx="490.0" cy="566.1"/><circle cx="490.1" cy="516.2"/><circle cx="490.1" cy="543.7"/><circle cx="490.1" cy="529.5"/><circle cx="490.1" cy="558.1"/><circle cx="490.1" cy="522.4"/><circle cx="490.1" cy="551.0"/><circle cx="490.2" cy="536.7"/><circle cx="490.2" cy="565.3"/><circle cx="490.2" cy="518.8"/><circle cx="490.2" cy="547.4"/><circle cx="490.2" cy="533.1"/><circle cx="490.3" cy="561.7"/><circle cx="490.3" cy="525.4"/><circle cx="490.3" cy="555.1"/><circle cx="490.4" cy="540.2"/><circle cx="490.4" cy="569.9"/><circle cx="490.4" cy="511.3"/><circle cx="490.4" cy="540.9"/><circle cx="490.4" cy="526.1"/><circle cx="490.4" cy="555.8"/><circle cx="490.4" cy="518.7"/><circle cx="490.5" cy="548.3"/><circle cx="490.5" cy="533.3"/><circle cx="490.5" cy="563.9"/><circle cx="490.5" cy="514.2"/><circle cx="490.6" cy="544.8"/><circle cx="490.6" cy="529.5"/><circle cx="490.6" cy="560.0"/><circle cx="490.6" cy="521.8"/><circle cx="490.6" cy="552.4"/><circle cx="490.6" cy="537.1"/><circle cx="490.7" cy="567.7"/><circle cx="490.7" cy="512.3"/><circle cx="490.7" cy="542.8"/><circle cx="490.7" cy="527.2"/><circle cx="490.7" cy="558.6"/><circle cx="490.8" cy="519.4"/><circle cx="490.8" cy="550.7"/><circle cx="490.8" cy="535.1"/><circle cx="490.8" cy="566.4"/><circle cx="490.8" cy="515.5"/><circle cx="490.8" cy="546.8"/><circle cx="490.8" cy="531.2"/><circle cx="490.8" cy="562.5"/><circle cx="490.9" cy="523.3"/><circle cx="490.9" cy="554.6"/><circle cx="490.9" cy="538.9"/><circle cx="491.0" cy="571.0"/><circle cx="491.0" cy="509.9"/><circle cx="491.0" cy="542.0"/><circle cx="491.0" cy="525.9"/><circle cx="491.0" cy="558.0"/><circle cx="491.0" cy="517.9"/><circle cx="491.0" cy="550.0"/><circle cx="491.1" cy="533.9"/><circle cx="491.1" cy="566.0"/><circle cx="491.1" cy="513.9"/><circle cx="491.1" cy="546.0"/><circle cx="491.1" cy="529.7"/><circle cx="491.1" cy="562.5"/><circle cx="491.2" cy="521.5"/><circle cx="491.2" cy="554.3"/><circle cx="491.2" cy="537.9"/><circle cx="491.2" cy="570.7"/><circle cx="491.2" cy="511.2"/><circle cx="491.3" cy="544.0"/><circle cx="491.3" cy="527.6"/><circle cx="491.3" cy="560.4"/><circle cx="491.3" cy="519.4"/><circle cx="491.3" cy="552.3"/><circle cx="491.3" cy="535.8"/><circle cx="491.3" cy="568.8"/><circle cx="491.3" cy="515.2"/><circle cx="491.3" cy="548.2"/><circle cx="491.3" cy="531.7"/><circle cx="491.4" cy="564.7"/><circle cx="491.4" cy="523.4"/><circle cx="491.4" cy="556.4"/><circle cx="491.5" cy="539.9"/><circle cx="491.5" cy="572.9"/><circle cx="491.5" cy="508.5"/><circle cx="491.5" cy="541.5"/><circle cx="491.5" cy="525.1"/><circle cx="491.5" cy="557.8"/><circle cx="491.5" cy="517.0"/><circle cx="491.6" cy="549.6"/><circle cx="491.6" cy="533.3"/><circle cx="491.6" cy="566.0"/><circle cx="491.6" cy="512.9"/><circle cx="491.6" cy="545.5"/><circle cx="491.7" cy="529.2"/><circle cx="491.7" cy="561.9"/><circle cx="491.7" cy="521.0"/><circle cx="491.7" cy="553.7"/><circle cx="491.7" cy="537.4"/><circle cx="491.7" cy="569.7"/><circle cx="491.8" cy="511.2"/><circle cx="491.8" cy="543.5"/><circle cx="491.8" cy="527.3"/><circle cx="491.8" cy="559.6"/><circle cx="491.8" cy="519.2"/><circle cx="491.8" cy="551.6"/><circle cx="491.8" cy="535.4"/><circle cx="491.8" cy="567.7"/><circle cx="491.9" cy="515.2"/><circle cx="491.9" cy="547.5"/><circle cx="491.9" cy="531.5"/><circle cx="492.0" cy="563.4"/><circle cx="492.0" cy="523.5"/><circle cx="492.0" cy="555.4"/><circle cx="492.0" cy="539.5"/><circle cx="492.0" cy="571.4"/><circle cx="492.0" cy="510.5"/><circle cx="492.0" cy="542.4"/><circle cx="492.0" cy="526.5"/><circle cx="492.1" cy="558.4"/><circle cx="492.1" cy="518.5"/><circle cx="492.1" cy="550.3"/><circle cx="492.2" cy="534.5"/><circle cx="492.2" cy="566.1"/><circle cx="492.2" cy="514.8"/><circle cx="492.2" cy="546.4"/><circle cx="492.2" cy="530.6"/><circle cx="492.2" cy="562.2"/><circle cx="492.3" cy="522.7"/><circle cx="492.3" cy="554.3"/><circle cx="492.3" cy="538.5"/><circle cx="492.3" cy="570.1"/><circle cx="492.3" cy="512.8"/><circle cx="492.3" cy="544.4"/><circle cx="492.3" cy="528.7"/><circle cx="492.3" cy="560.0"/><circle cx="492.3" cy="520.9"/><circle cx="492.4" cy="552.2"/><circle cx="492.4" cy="536.5"/><circle cx="492.4" cy="567.8"/><circle cx="492.4" cy="517.0"/><circle cx="492.5" cy="548.3"/><circle cx="492.5" cy="532.6"/><circle cx="492.5" cy="563.9"/><circle cx="492.6" cy="525.0"/><circle cx="492.6" cy="555.9"/><circle cx="492.6" cy="540.5"/><circle cx="492.6" cy="571.4"/><circle cx="492.6" cy="509.9"/><circle cx="492.7" cy="540.8"/><circle cx="492.7" cy="525.4"/><circle cx="492.7" cy="556.3"/><circle cx="492.7" cy="517.6"/><circle cx="492.7" cy="548.5"/><circle cx="492.7" cy="533.1"/><circle cx="492.7" cy="563.7"/><circle cx="492.7" cy="514.1"/><circle cx="492.8" cy="544.6"/><circle cx="492.8" cy="529.4"/><circle cx="492.8" cy="559.9"/><circle cx="492.8" cy="521.7"/><circle cx="492.8" cy="552.3"/><circle cx="492.8" cy="537.0"/><circle cx="492.9" cy="567.6"/><circle cx="492.9" cy="512.2"/><circle cx="492.9" cy="542.7"/><circle cx="492.9" cy="527.5"/><circle cx="492.9" cy="557.8"/><circle cx="492.9" cy="520.1"/><circle cx="493.0" cy="550.3"/><circle cx="493.0" cy="535.2"/><circle cx="493.0" cy="565.4"/><circle cx="493.0" cy="516.3"/><circle cx="493.0" cy="546.5"/><circle cx="493.0" cy="531.4"/><circle cx="493.0" cy="561.6"/><circle cx="493.0" cy="523.8"/><circle cx="493.1" cy="554.0"/><circle cx="493.1" cy="539.0"/><circle cx="493.1" cy="568.5"/><circle cx="493.1" cy="512.2"/><circle cx="493.2" cy="541.7"/><circle cx="493.2" cy="527.0"/><circle cx="493.2" cy="556.5"/><circle cx="493.2" cy="519.6"/><circle cx="493.2" cy="549.1"/><circle cx="493.2" cy="534.4"/><circle cx="493.3" cy="563.9"/><circle cx="493.3" cy="515.9"/><circle cx="493.3" cy="545.3"/><circle cx="493.3" cy="530.9"/><circle cx="493.4" cy="559.8"/><circle cx="493.4" cy="523.7"/><circle cx="493.4" cy="552.5"/><circle cx="493.4" cy="538.1"/><circle cx="493.4" cy="567.0"/><circle cx="493.4" cy="514.7"/><circle cx="493.5" cy="543.5"/><circle cx="493.5" cy="529.1"/><circle cx="493.5" cy="557.6"/><circle cx="493.5" cy="522.3"/><circle cx="493.5" cy="550.5"/><circle cx="493.6" cy="536.4"/><circle cx="493.6" cy="564.6"/><circle cx="493.6" cy="518.8"/><circle cx="493.6" cy="547.0"/><circle cx="493.7" cy="532.9"/><circle cx="493.7" cy="561.1"/><circle cx="493.7" cy="525.8"/><circle cx="493.7" cy="554.0"/><circle cx="493.7" cy="539.9"/><circle cx="493.8" cy="567.5"/><circle cx="493.8" cy="513.7"/><circle cx="493.8" cy="541.2"/><circle cx="493.8" cy="527.5"/><circle cx="493.9" cy="555.0"/><circle cx="493.9" cy="520.6"/><circle cx="493.9" cy="548.1"/><circle cx="493.9" cy="534.4"/><circle cx="493.9" cy="561.4"/><circle cx="493.9" cy="517.7"/><circle cx="494.0" cy="544.6"/><circle cx="494.0" cy="531.1"/><circle cx="494.0" cy="558.0"/><circle cx="494.0" cy="524.4"/><circle cx="494.0" cy="551.3"/><circle cx="494.0" cy="537.9"/><circle cx="494.1" cy="564.7"/><circle cx="494.1" cy="516.0"/><circle cx="494.1" cy="542.9"/><circle cx="494.1" cy="529.7"/><circle cx="494.2" cy="555.9"/><circle cx="494.2" cy="523.2"/><circle cx="494.2" cy="549.4"/><circle cx="494.2" cy="536.3"/><circle cx="494.2" cy="562.5"/><circle cx="494.2" cy="519.9"/><circle cx="494.3" cy="546.1"/><circle cx="494.3" cy="533.0"/><circle cx="494.3" cy="558.8"/><circle cx="481.4" cy="638.4"/><circle cx="481.4" cy="601.3"/><circle cx="481.5" cy="624.1"/><circle cx="481.6" cy="612.8"/><circle cx="481.8" cy="635.4"/><circle cx="482.0" cy="607.1"/><circle cx="482.1" cy="629.8"/><circle cx="482.2" cy="618.4"/><circle cx="482.3" cy="641.1"/><circle cx="482.5" cy="600.1"/><circle cx="482.5" cy="622.7"/><circle cx="482.6" cy="611.4"/><circle cx="482.7" cy="634.0"/><circle cx="482.8" cy="605.8"/><circle cx="483.0" cy="628.3"/><circle cx="483.1" cy="617.1"/><circle cx="483.3" cy="639.6"/><circle cx="483.3" cy="603.0"/><circle cx="483.4" cy="625.5"/><circle cx="483.6" cy="614.3"/><circle cx="483.6" cy="636.7"/><circle cx="483.8" cy="608.6"/><circle cx="483.9" cy="631.1"/><circle cx="483.9" cy="619.9"/><circle cx="484.1" cy="642.3"/><circle cx="484.1" cy="599.6"/><circle cx="484.5" cy="622.0"/><circle cx="484.5" cy="610.8"/><circle cx="484.7" cy="633.2"/><circle cx="484.8" cy="605.2"/><circle cx="484.8" cy="627.6"/><circle cx="485.0" cy="616.4"/><circle cx="485.1" cy="638.7"/><circle cx="485.3" cy="602.5"/><circle cx="485.3" cy="624.8"/><circle cx="485.5" cy="613.6"/><circle cx="485.5" cy="635.9"/><circle cx="485.6" cy="608.1"/><circle cx="485.8" cy="630.3"/><circle cx="485.9" cy="619.2"/><circle cx="486.0" cy="641.4"/><circle cx="486.1" cy="601.2"/><circle cx="486.2" cy="623.4"/><circle cx="486.3" cy="612.3"/><circle cx="486.4" cy="634.4"/><circle cx="486.7" cy="606.7"/><circle cx="486.8" cy="628.9"/><circle cx="486.8" cy="617.8"/><circle cx="487.0" cy="639.9"/><circle cx="487.1" cy="604.0"/><circle cx="487.2" cy="626.1"/><circle cx="487.3" cy="615.1"/><circle cx="487.4" cy="637.1"/><circle cx="487.7" cy="609.6"/><circle cx="487.9" cy="631.6"/><circle cx="487.9" cy="620.6"/><circle cx="488.0" cy="642.6"/><circle cx="488.0" cy="599.6"/><circle cx="488.1" cy="621.6"/><circle cx="488.2" cy="610.6"/><circle cx="488.5" cy="632.6"/><circle cx="488.5" cy="605.2"/><circle cx="488.7" cy="627.1"/><circle cx="488.8" cy="616.1"/><circle cx="488.9" cy="638.0"/><circle cx="489.0" cy="602.5"/><circle cx="489.1" cy="624.3"/><circle cx="489.1" cy="613.4"/><circle cx="489.5" cy="635.2"/><circle cx="489.5" cy="608.0"/><circle cx="489.5" cy="629.7"/><circle cx="489.8" cy="618.9"/><circle cx="489.9" cy="640.5"/><circle cx="489.9" cy="601.4"/><circle cx="490.0" cy="623.0"/><circle cx="490.2" cy="612.2"/><circle cx="490.4" cy="633.7"/><circle cx="490.4" cy="606.9"/><circle cx="490.6" cy="628.3"/><circle cx="490.7" cy="617.6"/><circle cx="490.8" cy="638.9"/><circle cx="491.0" cy="604.3"/><circle cx="491.0" cy="625.6"/><circle cx="491.2" cy="615.0"/><circle cx="491.3" cy="636.1"/><circle cx="491.5" cy="609.7"/><circle cx="491.5" cy="630.8"/><circle cx="491.6" cy="620.3"/><circle cx="491.8" cy="641.3"/><circle cx="491.9" cy="601.3"/><circle cx="492.1" cy="622.2"/><circle cx="492.3" cy="611.8"/><circle cx="492.5" cy="632.7"/><circle cx="492.5" cy="606.6"/><circle cx="492.6" cy="627.4"/><circle cx="492.8" cy="617.0"/><circle cx="492.9" cy="637.8"/><circle cx="493.0" cy="604.1"/><circle cx="493.1" cy="624.8"/><circle cx="493.2" cy="614.5"/><circle cx="493.3" cy="635.1"/><circle cx="493.5" cy="609.4"/><circle cx="493.5" cy="629.9"/><circle cx="493.6" cy="619.7"/><circle cx="493.9" cy="640.1"/><circle cx="494.1" cy="603.1"/><circle cx="494.1" cy="623.5"/><circle cx="494.2" cy="613.3"/></g><g fill="#d8887e" stroke="#d8887e"><circle cx="503.9" cy="59.1"/><circle cx="504.0" cy="58.3"/><circle cx="494.5" cy="147.2"/><circle cx="495.6" cy="129.4"/><circle cx="495.6" cy="143.6"/><circle cx="496.4" cy="136.5"/><circle cx="496.7" cy="150.7"/><circle cx="497.8" cy="128.7"/><circle cx="498.0" cy="141.5"/><circle cx="498.6" cy="135.5"/><circle cx="499.7" cy="146.4"/><circle cx="500.4" cy="133.1"/><circle cx="501.0" cy="143.7"/><circle cx="501.8" cy="138.4"/><circle cx="502.6" cy="148.9"/><circle cx="503.3" cy="128.4"/><circle cx="503.9" cy="138.9"/><circle cx="504.8" cy="133.7"/><circle cx="505.3" cy="144.1"/><circle cx="506.0" cy="131.1"/><circle cx="507.1" cy="141.5"/><circle cx="495.0" cy="218.4"/><circle cx="495.2" cy="223.1"/><circle cx="496.0" cy="215.5"/><circle cx="497.1" cy="220.2"/><circle cx="497.3" cy="217.8"/><circle cx="497.8" cy="222.5"/><circle cx="498.3" cy="216.6"/><circle cx="498.8" cy="221.3"/><circle cx="499.4" cy="219.0"/><circle cx="500.4" cy="223.7"/><circle cx="500.8" cy="214.5"/><circle cx="501.2" cy="219.2"/><circle cx="502.3" cy="216.9"/><circle cx="502.8" cy="221.4"/><circle cx="502.9" cy="215.9"/><circle cx="504.0" cy="220.3"/><circle cx="504.6" cy="218.1"/><circle cx="505.2" cy="222.6"/><circle cx="505.9" cy="214.6"/><circle cx="506.6" cy="220.0"/><circle cx="506.6" cy="217.1"/><circle cx="507.2" cy="223.2"/><circle cx="494.7" cy="286.4"/><circle cx="494.8" cy="316.7"/><circle cx="495.0" cy="278.8"/><circle cx="495.2" cy="309.1"/><circle cx="495.3" cy="293.9"/><circle cx="495.3" cy="324.3"/><circle cx="495.6" cy="274.9"/><circle cx="495.6" cy="305.3"/><circle cx="496.0" cy="290.1"/><circle cx="496.0" cy="320.5"/><circle cx="496.2" cy="282.5"/><circle cx="496.4" cy="312.9"/><circle cx="496.5" cy="297.7"/><circle cx="496.7" cy="328.2"/><circle cx="496.8" cy="270.1"/><circle cx="497.1" cy="300.6"/><circle cx="497.1" cy="285.3"/><circle cx="497.2" cy="315.8"/><circle cx="497.4" cy="277.7"/><circle cx="497.5" cy="308.2"/><circle cx="497.8" cy="292.9"/><circle cx="497.9" cy="323.5"/><circle cx="498.0" cy="273.8"/><circle cx="498.2" cy="304.4"/><circle cx="498.4" cy="289.1"/><circle cx="498.4" cy="319.7"/><circle cx="498.6" cy="281.5"/><circle cx="498.8" cy="312.1"/><circle cx="499.1" cy="296.7"/><circle cx="499.2" cy="327.4"/><circle cx="499.3" cy="271.9"/><circle cx="499.3" cy="302.5"/><circle cx="499.4" cy="287.2"/><circle cx="499.7" cy="317.8"/><circle cx="499.7" cy="279.5"/><circle cx="500.0" cy="310.2"/><circle cx="500.2" cy="294.8"/><circle cx="500.5" cy="325.5"/><circle cx="500.5" cy="275.6"/><circle cx="500.7" cy="306.3"/><circle cx="500.7" cy="291.0"/><circle cx="500.9" cy="321.7"/><circle cx="501.1" cy="283.3"/><circle cx="501.3" cy="314.0"/><circle cx="501.5" cy="298.7"/><circle cx="501.5" cy="329.4"/><circle cx="501.5" cy="269.3"/><circle cx="501.8" cy="300.1"/><circle cx="501.9" cy="284.7"/><circle cx="502.2" cy="315.5"/><circle cx="502.5" cy="277.0"/><circle cx="502.5" cy="307.8"/><circle cx="502.6" cy="292.4"/><circle cx="502.7" cy="323.3"/><circle cx="503.1" cy="273.1"/><circle cx="503.1" cy="304.0"/><circle cx="503.1" cy="288.5"/><circle cx="503.4" cy="319.4"/><circle cx="503.4" cy="280.8"/><circle cx="503.7" cy="311.7"/><circle cx="503.9" cy="296.2"/><circle cx="504.0" cy="327.2"/><circle cx="504.2" cy="271.1"/><circle cx="504.2" cy="302.0"/><circle cx="504.6" cy="286.5"/><circle cx="504.7" cy="317.5"/><circle cx="504.7" cy="278.8"/><circle cx="504.8" cy="309.8"/><circle cx="505.1" cy="294.3"/><circle cx="505.2" cy="325.3"/><circle cx="505.3" cy="274.9"/><circle cx="505.6" cy="305.9"/><circle cx="505.6" cy="290.4"/><circle cx="505.9" cy="321.5"/><circle cx="506.1" cy="282.6"/><circle cx="506.2" cy="313.7"/><circle cx="506.2" cy="298.2"/><circle cx="506.5" cy="329.3"/><circle cx="506.7" cy="269.9"/><circle cx="506.8" cy="301.1"/><circle cx="506.9" cy="285.5"/><circle cx="507.0" cy="316.7"/><circle cx="507.3" cy="277.7"/><circle cx="494.3" cy="388.7"/><circle cx="494.4" cy="377.5"/><circle cx="494.5" cy="399.8"/><circle cx="494.6" cy="359.5"/><circle cx="494.8" cy="381.7"/><circle cx="495.0" cy="370.7"/><circle cx="495.1" cy="392.7"/><circle cx="495.2" cy="365.3"/><circle cx="495.3" cy="387.1"/><circle cx="495.4" cy="376.2"/><circle cx="495.4" cy="398.1"/><circle cx="495.6" cy="362.7"/><circle cx="495.7" cy="384.4"/><circle cx="495.7" cy="373.6"/><circle cx="496.0" cy="395.1"/><circle cx="496.2" cy="368.3"/><circle cx="496.4" cy="389.6"/><circle cx="496.4" cy="379.0"/><circle cx="496.5" cy="400.2"/><circle cx="496.8" cy="359.8"/><circle cx="496.8" cy="381.0"/><circle cx="496.8" cy="370.4"/><circle cx="497.0" cy="391.5"/><circle cx="497.1" cy="365.2"/><circle cx="497.4" cy="386.2"/><circle cx="497.5" cy="375.8"/><circle cx="497.6" cy="396.5"/><circle cx="497.6" cy="362.8"/><circle cx="497.9" cy="383.5"/><circle cx="498.1" cy="373.2"/><circle cx="498.1" cy="393.7"/><circle cx="498.2" cy="368.2"/><circle cx="498.3" cy="388.6"/><circle cx="498.4" cy="378.4"/><circle cx="498.6" cy="398.6"/><circle cx="498.7" cy="362.0"/><circle cx="498.9" cy="382.2"/><circle cx="498.9" cy="372.2"/><circle cx="499.1" cy="392.1"/><circle cx="499.1" cy="367.2"/><circle cx="499.4" cy="387.1"/><circle cx="499.6" cy="377.2"/><circle cx="499.6" cy="396.9"/><circle cx="499.7" cy="364.9"/><circle cx="499.9" cy="384.6"/><circle cx="500.0" cy="374.8"/><circle cx="500.2" cy="394.3"/><circle cx="500.2" cy="369.9"/><circle cx="500.6" cy="389.3"/><circle cx="500.6" cy="379.7"/><circle cx="500.7" cy="398.9"/><circle cx="500.7" cy="361.0"/><circle cx="501.0" cy="380.1"/><circle cx="501.3" cy="370.7"/><circle cx="501.4" cy="389.5"/><circle cx="501.4" cy="366.0"/><circle cx="501.6" cy="384.8"/><circle cx="501.8" cy="375.5"/><circle cx="501.9" cy="394.0"/><circle cx="501.9" cy="364.0"/><circle cx="502.3" cy="382.4"/><circle cx="502.3" cy="373.3"/><circle cx="502.3" cy="391.4"/><circle cx="502.6" cy="368.9"/><circle cx="502.7" cy="386.8"/><circle cx="502.7" cy="377.9"/><circle cx="503.0" cy="395.6"/><circle cx="503.2" cy="363.6"/><circle cx="503.4" cy="381.2"/><circle cx="503.6" cy="372.5"/><circle cx="503.7" cy="389.8"/><circle cx="503.8" cy="368.3"/><circle cx="504.0" cy="385.4"/><circle cx="504.1" cy="376.9"/><circle cx="504.3" cy="393.7"/><circle cx="504.6" cy="366.6"/><circle cx="504.7" cy="383.2"/><circle cx="504.8" cy="374.9"/><circle cx="505.0" cy="391.4"/><circle cx="505.2" cy="371.0"/><circle cx="505.2" cy="387.2"/><circle cx="505.5" cy="379.1"/><circle cx="505.6" cy="395.1"/><circle cx="505.6" cy="364.6"/><circle cx="505.7" cy="380.6"/><circle cx="506.1" cy="372.8"/><circle cx="506.3" cy="388.3"/><circle cx="506.5" cy="369.0"/><circle cx="506.5" cy="384.4"/><circle cx="506.8" cy="376.8"/><circle cx="507.0" cy="391.8"/><circle cx="507.3" cy="367.5"/><circle cx="494.7" cy="460.2"/><circle cx="495.2" cy="462.5"/><circle cx="495.8" cy="458.1"/><circle cx="496.6" cy="460.4"/><circle cx="496.7" cy="458.3"/><circle cx="497.2" cy="463.0"/><circle cx="497.3" cy="456.2"/><circle cx="497.7" cy="462.1"/><circle cx="498.0" cy="458.7"/><circle cx="498.2" cy="466.3"/><circle cx="498.4" cy="453.1"/><circle cx="498.5" cy="461.6"/><circle cx="498.9" cy="456.9"/><circle cx="499.0" cy="466.9"/><circle cx="499.0" cy="454.2"/><circle cx="499.3" cy="464.6"/><circle cx="499.3" cy="459.1"/><circle cx="499.6" cy="471.1"/><circle cx="499.6" cy="449.3"/><circle cx="499.8" cy="461.4"/><circle cx="500.1" cy="454.8"/><circle cx="500.2" cy="468.3"/><circle cx="500.2" cy="451.2"/><circle cx="500.3" cy="464.9"/><circle cx="500.4" cy="458.0"/><circle cx="500.6" cy="472.5"/><circle cx="500.6" cy="448.8"/><circle cx="500.8" cy="463.5"/><circle cx="500.9" cy="455.9"/><circle cx="500.9" cy="471.3"/><circle cx="501.0" cy="451.9"/><circle cx="501.1" cy="467.7"/><circle cx="501.3" cy="459.7"/><circle cx="501.4" cy="476.1"/><circle cx="501.5" cy="444.3"/><circle cx="501.6" cy="461.2"/><circle cx="501.8" cy="452.6"/><circle cx="501.8" cy="470.0"/><circle cx="501.9" cy="447.9"/><circle cx="501.9" cy="465.7"/><circle cx="502.0" cy="456.8"/><circle cx="502.3" cy="475.1"/><circle cx="502.3" cy="445.3"/><circle cx="502.3" cy="463.7"/><circle cx="502.4" cy="454.3"/><circle cx="502.6" cy="473.4"/><circle cx="502.7" cy="449.3"/><circle cx="502.8" cy="468.8"/><circle cx="502.9" cy="458.9"/><circle cx="502.9" cy="478.6"/><circle cx="502.9" cy="442.5"/><circle cx="503.0" cy="462.7"/><circle cx="503.1" cy="452.4"/><circle cx="503.2" cy="473.0"/><circle cx="503.4" cy="447.1"/><circle cx="503.5" cy="468.0"/><circle cx="503.5" cy="457.5"/><circle cx="503.5" cy="478.8"/><circle cx="503.6" cy="444.2"/><circle cx="503.6" cy="465.5"/><circle cx="503.7" cy="454.7"/><circle cx="503.9" cy="476.4"/><circle cx="504.0" cy="449.1"/><circle cx="504.0" cy="471.1"/><circle cx="504.1" cy="460.1"/><circle cx="504.1" cy="482.5"/><circle cx="504.1" cy="438.0"/><circle cx="504.2" cy="460.4"/><circle cx="504.3" cy="449.0"/><circle cx="504.4" cy="471.8"/><circle cx="504.5" cy="443.0"/><circle cx="504.5" cy="466.2"/><circle cx="504.6" cy="454.6"/><circle cx="504.7" cy="478.0"/><circle cx="504.8" cy="439.8"/><circle cx="504.8" cy="463.3"/><circle cx="505.0" cy="451.4"/><circle cx="505.0" cy="475.3"/><circle cx="505.0" cy="445.5"/><circle cx="505.1" cy="469.5"/><circle cx="505.2" cy="457.4"/><circle cx="505.3" cy="481.6"/><circle cx="505.5" cy="437.3"/><circle cx="505.5" cy="461.9"/><circle cx="505.5" cy="449.5"/><circle cx="505.6" cy="474.4"/><circle cx="505.6" cy="443.2"/><circle cx="505.6" cy="468.2"/><circle cx="505.7" cy="455.6"/><circle cx="505.9" cy="481.0"/><circle cx="506.0" cy="439.5"/><circle cx="506.1" cy="465.2"/><circle cx="506.1" cy="452.4"/><circle cx="506.1" cy="478.2"/><circle cx="506.2" cy="445.8"/><circle cx="506.2" cy="471.7"/><circle cx="506.2" cy="458.8"/><circle cx="506.3" cy="484.9"/><circle cx="506.3" cy="435.1"/><circle cx="506.4" cy="461.2"/><circle cx="506.5" cy="448.1"/><circle cx="506.6" cy="474.4"/><circle cx="506.7" cy="441.5"/><circle cx="506.8" cy="467.9"/><circle cx="506.9" cy="454.6"/><circle cx="506.9" cy="481.1"/><circle cx="506.9" cy="437.9"/><circle cx="507.0" cy="464.6"/><circle cx="507.0" cy="451.2"/><circle cx="507.0" cy="477.9"/><circle cx="507.2" cy="444.4"/><circle cx="507.2" cy="471.3"/><circle cx="507.2" cy="457.9"/><circle cx="507.3" cy="485.0"/><circle cx="494.3" cy="526.8"/><circle cx="494.3" cy="552.4"/><circle cx="494.4" cy="539.6"/><circle cx="494.4" cy="565.1"/><circle cx="494.4" cy="516.5"/><circle cx="494.5" cy="542.0"/><circle cx="494.5" cy="529.2"/><circle cx="494.5" cy="554.8"/><circle cx="494.5" cy="522.8"/><circle cx="494.5" cy="548.2"/><circle cx="494.6" cy="535.7"/><circle cx="494.6" cy="560.6"/><circle cx="494.6" cy="520.2"/><circle cx="494.6" cy="545.1"/><circle cx="494.6" cy="532.6"/><circle cx="494.6" cy="557.5"/><circle cx="494.7" cy="526.4"/><circle cx="494.7" cy="551.3"/><circle cx="494.8" cy="538.9"/><circle cx="494.8" cy="563.1"/><circle cx="494.8" cy="519.2"/><circle cx="494.8" cy="543.4"/><circle cx="494.8" cy="531.3"/><circle cx="494.9" cy="555.5"/><circle cx="494.9" cy="525.3"/><circle cx="494.9" cy="549.5"/><circle cx="494.9" cy="537.4"/><circle cx="494.9" cy="561.0"/><circle cx="495.0" cy="522.8"/><circle cx="495.0" cy="546.3"/><circle cx="495.0" cy="534.5"/><circle cx="495.0" cy="558.1"/><circle cx="495.0" cy="528.7"/><circle cx="495.0" cy="552.2"/><circle cx="495.0" cy="540.4"/><circle cx="495.1" cy="563.3"/><circle cx="495.2" cy="518.1"/><circle cx="495.2" cy="541.0"/><circle cx="495.2" cy="529.5"/><circle cx="495.2" cy="552.4"/><circle cx="495.2" cy="523.8"/><circle cx="495.3" cy="546.7"/><circle cx="495.3" cy="535.3"/><circle cx="495.3" cy="558.1"/><circle cx="495.3" cy="521.5"/><circle cx="495.3" cy="543.7"/><circle cx="495.3" cy="532.6"/><circle cx="495.4" cy="554.8"/><circle cx="495.4" cy="527.1"/><circle cx="495.4" cy="549.3"/><circle cx="495.5" cy="538.2"/><circle cx="495.5" cy="560.4"/><circle cx="495.5" cy="520.8"/><circle cx="495.5" cy="542.3"/><circle cx="495.5" cy="531.5"/><circle cx="495.6" cy="553.1"/><circle cx="495.6" cy="526.1"/><circle cx="495.6" cy="547.7"/><circle cx="495.6" cy="536.9"/><circle cx="495.7" cy="558.4"/><circle cx="495.7" cy="524.0"/><circle cx="495.8" cy="544.9"/><circle cx="495.8" cy="534.4"/><circle cx="495.8" cy="555.3"/><circle cx="495.8" cy="529.2"/><circle cx="495.8" cy="550.1"/><circle cx="495.9" cy="539.6"/><circle cx="495.9" cy="560.5"/><circle cx="495.9" cy="521.4"/><circle cx="495.9" cy="541.6"/><circle cx="496.0" cy="531.5"/><circle cx="496.0" cy="551.7"/><circle cx="496.0" cy="526.4"/><circle cx="496.1" cy="546.6"/><circle cx="496.1" cy="536.5"/><circle cx="496.1" cy="556.2"/><circle cx="496.1" cy="524.4"/><circle cx="496.1" cy="544.0"/><circle cx="496.2" cy="534.2"/><circle cx="496.2" cy="553.8"/><circle cx="496.2" cy="529.3"/><circle cx="496.3" cy="548.9"/><circle cx="496.4" cy="539.1"/><circle cx="496.4" cy="558.1"/><circle cx="496.4" cy="523.7"/><circle cx="496.4" cy="542.7"/><circle cx="496.4" cy="533.2"/><circle cx="496.5" cy="552.2"/><circle cx="496.5" cy="528.5"/><circle cx="496.5" cy="547.5"/><circle cx="496.5" cy="538.0"/><circle cx="496.5" cy="556.4"/><circle cx="496.6" cy="526.5"/><circle cx="496.6" cy="544.9"/><circle cx="496.6" cy="535.7"/><circle cx="496.6" cy="554.1"/><circle cx="496.8" cy="531.5"/><circle cx="496.8" cy="549.3"/><circle cx="496.8" cy="540.4"/><circle cx="496.9" cy="558.2"/><circle cx="496.9" cy="523.4"/><circle cx="496.9" cy="541.2"/><circle cx="496.9" cy="532.3"/><circle cx="496.9" cy="549.8"/><circle cx="497.0" cy="528.3"/><circle cx="497.0" cy="545.5"/><circle cx="497.0" cy="536.9"/><circle cx="497.1" cy="554.1"/><circle cx="497.1" cy="526.1"/><circle cx="497.1" cy="543.2"/><circle cx="497.1" cy="534.9"/><circle cx="497.1" cy="551.5"/><circle cx="497.2" cy="530.8"/><circle cx="497.2" cy="547.4"/><circle cx="497.2" cy="539.1"/><circle cx="497.3" cy="555.1"/><circle cx="497.4" cy="526.1"/><circle cx="497.4" cy="542.1"/><circle cx="497.4" cy="534.1"/><circle cx="497.4" cy="550.1"/><circle cx="497.4" cy="530.1"/><circle cx="497.5" cy="545.9"/><circle cx="497.6" cy="538.2"/><circle cx="497.6" cy="553.6"/><circle cx="497.7" cy="528.6"/><circle cx="497.7" cy="544.0"/><circle cx="497.7" cy="536.5"/><circle cx="497.7" cy="551.3"/><circle cx="497.8" cy="532.8"/><circle cx="497.8" cy="547.6"/><circle cx="497.8" cy="540.2"/><circle cx="497.9" cy="555.0"/><circle cx="497.9" cy="527.3"/><circle cx="498.0" cy="541.5"/><circle cx="498.0" cy="534.4"/><circle cx="498.1" cy="548.6"/><circle cx="498.1" cy="530.9"/><circle cx="498.1" cy="545.1"/><circle cx="498.1" cy="538.1"/><circle cx="498.2" cy="551.7"/><circle cx="498.3" cy="529.6"/><circle cx="498.3" cy="543.2"/><circle cx="498.3" cy="536.6"/><circle cx="498.4" cy="549.6"/><circle cx="498.4" cy="533.3"/><circle cx="498.5" cy="546.3"/><circle cx="498.5" cy="539.8"/><circle cx="498.5" cy="552.3"/><circle cx="498.6" cy="529.8"/><circle cx="498.7" cy="542.2"/><circle cx="498.7" cy="536.0"/><circle cx="498.8" cy="548.0"/><circle cx="498.8" cy="533.3"/><circle cx="498.8" cy="545.1"/><circle cx="498.8" cy="539.2"/><circle cx="498.9" cy="551.0"/><circle cx="499.0" cy="532.3"/><circle cx="499.1" cy="543.5"/><circle cx="499.1" cy="537.9"/><circle cx="499.1" cy="549.1"/><circle cx="499.1" cy="535.3"/><circle cx="499.2" cy="546.0"/><circle cx="499.2" cy="540.7"/><circle cx="499.3" cy="551.4"/><circle cx="499.4" cy="530.5"/><circle cx="499.5" cy="540.7"/><circle cx="499.5" cy="535.6"/><circle cx="499.5" cy="545.6"/><circle cx="499.5" cy="533.4"/><circle cx="499.6" cy="543.2"/><circle cx="499.7" cy="538.3"/><circle cx="499.8" cy="547.7"/><circle cx="499.8" cy="532.6"/><circle cx="499.8" cy="541.9"/><circle cx="499.9" cy="537.2"/><circle cx="499.9" cy="546.2"/><circle cx="499.9" cy="535.2"/><circle cx="500.1" cy="544.0"/><circle cx="500.1" cy="539.7"/><circle cx="500.2" cy="548.0"/><circle cx="500.3" cy="532.9"/><circle cx="500.4" cy="541.2"/><circle cx="500.5" cy="537.3"/><circle cx="500.5" cy="545.1"/><circle cx="500.5" cy="535.7"/><circle cx="500.6" cy="543.0"/><circle cx="500.7" cy="539.3"/><circle cx="500.7" cy="546.3"/><circle cx="500.7" cy="535.1"/><circle cx="500.9" cy="541.9"/><circle cx="500.9" cy="538.7"/><circle cx="501.1" cy="544.8"/><circle cx="501.2" cy="537.4"/><circle cx="501.2" cy="543.3"/><circle cx="501.4" cy="540.4"/><circle cx="501.4" cy="545.8"/><circle cx="494.4" cy="633.6"/><circle cx="494.5" cy="608.3"/><circle cx="494.5" cy="628.5"/><circle cx="494.5" cy="618.4"/><circle cx="494.8" cy="638.6"/><circle cx="494.9" cy="605.9"/><circle cx="495.1" cy="626.0"/><circle cx="495.2" cy="615.9"/><circle cx="495.4" cy="635.9"/><circle cx="495.4" cy="611.0"/><circle cx="495.6" cy="630.9"/><circle cx="495.9" cy="620.9"/><circle cx="496.1" cy="640.7"/><circle cx="496.1" cy="601.4"/><circle cx="496.2" cy="621.2"/><circle cx="496.3" cy="611.3"/><circle cx="496.3" cy="631.0"/><circle cx="496.6" cy="606.5"/><circle cx="496.8" cy="626.1"/><circle cx="496.8" cy="616.3"/><circle cx="496.9" cy="635.8"/><circle cx="497.2" cy="604.1"/><circle cx="497.2" cy="623.6"/><circle cx="497.5" cy="613.9"/><circle cx="497.6" cy="633.3"/><circle cx="497.6" cy="609.1"/><circle cx="497.8" cy="628.4"/><circle cx="498.0" cy="618.8"/><circle cx="498.0" cy="638.0"/><circle cx="498.1" cy="603.2"/><circle cx="498.3" cy="622.4"/><circle cx="498.4" cy="612.8"/><circle cx="498.6" cy="631.9"/><circle cx="498.8" cy="608.1"/><circle cx="498.8" cy="627.1"/><circle cx="499.1" cy="617.6"/><circle cx="499.1" cy="636.6"/><circle cx="499.2" cy="605.8"/><circle cx="499.3" cy="624.7"/><circle cx="499.5" cy="615.3"/><circle cx="499.6" cy="634.1"/><circle cx="499.9" cy="610.6"/><circle cx="500.0" cy="629.4"/><circle cx="500.1" cy="620.0"/><circle cx="500.3" cy="638.7"/><circle cx="500.4" cy="603.1"/><circle cx="500.5" cy="621.8"/><circle cx="500.6" cy="612.5"/><circle cx="500.7" cy="631.0"/><circle cx="501.0" cy="607.9"/><circle cx="501.1" cy="626.4"/><circle cx="501.2" cy="617.1"/><circle cx="501.3" cy="635.5"/><circle cx="501.5" cy="605.6"/><circle cx="501.5" cy="624.0"/><circle cx="501.8" cy="614.9"/><circle cx="501.9" cy="633.1"/><circle cx="502.1" cy="610.3"/><circle cx="502.2" cy="628.6"/><circle cx="502.3" cy="619.5"/><circle cx="502.4" cy="637.7"/><circle cx="502.6" cy="604.6"/><circle cx="502.7" cy="622.9"/><circle cx="503.0" cy="613.7"/><circle cx="503.2" cy="632.1"/><circle cx="503.2" cy="609.1"/><circle cx="503.4" cy="627.5"/><circle cx="503.6" cy="618.3"/><circle cx="503.7" cy="636.8"/><circle cx="503.8" cy="606.7"/><circle cx="504.0" cy="625.2"/><circle cx="504.1" cy="615.9"/><circle cx="504.2" cy="634.6"/><circle cx="504.5" cy="611.2"/><circle cx="504.6" cy="630.0"/><circle cx="504.6" cy="620.6"/><circle cx="504.8" cy="639.4"/><circle cx="504.8" cy="602.7"/><circle cx="504.9" cy="621.5"/><circle cx="505.1" cy="612.0"/><circle cx="505.2" cy="630.9"/><circle cx="505.4" cy="607.0"/><circle cx="505.6" cy="626.4"/><circle cx="505.7" cy="616.5"/><circle cx="505.8" cy="636.5"/><circle cx="506.1" cy="603.6"/><circle cx="506.1" cy="624.1"/><circle cx="506.2" cy="613.7"/><circle cx="506.3" cy="634.7"/><circle cx="506.5" cy="608.3"/><circle cx="506.6" cy="629.6"/><circle cx="506.8" cy="618.8"/><circle cx="506.9" cy="641.1"/><circle cx="507.0" cy="600.6"/><circle cx="507.2" cy="623.0"/><circle cx="507.2" cy="611.6"/><circle cx="499.2" cy="701.5"/><circle cx="499.2" cy="689.6"/><circle cx="499.2" cy="713.4"/><circle cx="499.3" cy="683.7"/><circle cx="499.3" cy="707.4"/><circle cx="499.3" cy="695.6"/><circle cx="499.4" cy="719.3"/><circle cx="499.4" cy="680.7"/><circle cx="499.4" cy="704.5"/><circle cx="499.4" cy="692.6"/><circle cx="499.5" cy="716.4"/><circle cx="499.5" cy="686.6"/><circle cx="499.5" cy="710.4"/><circle cx="499.6" cy="698.5"/><circle cx="499.6" cy="722.3"/><circle cx="499.6" cy="679.2"/><circle cx="499.6" cy="703.0"/><circle cx="499.7" cy="691.1"/><circle cx="499.7" cy="714.9"/><circle cx="499.7" cy="685.1"/><circle cx="499.7" cy="708.9"/><circle cx="499.8" cy="697.0"/><circle cx="499.8" cy="720.8"/><circle cx="499.8" cy="682.2"/><circle cx="499.8" cy="706.0"/><circle cx="499.8" cy="694.1"/><circle cx="499.8" cy="717.9"/><circle cx="499.9" cy="688.1"/><circle cx="500.0" cy="711.9"/><circle cx="500.0" cy="700.0"/><circle cx="500.0" cy="723.8"/><circle cx="500.0" cy="678.4"/><circle cx="500.0" cy="702.2"/><circle cx="500.1" cy="690.3"/><circle cx="500.1" cy="714.2"/><circle cx="500.1" cy="684.4"/><circle cx="500.1" cy="708.2"/><circle cx="500.1" cy="696.3"/><circle cx="500.2" cy="720.1"/><circle cx="500.3" cy="681.4"/><circle cx="500.3" cy="705.2"/><circle cx="500.3" cy="693.3"/><circle cx="500.3" cy="717.2"/><circle cx="500.3" cy="687.3"/><circle cx="500.4" cy="711.2"/><circle cx="500.4" cy="699.3"/><circle cx="500.4" cy="723.1"/><circle cx="500.4" cy="679.9"/><circle cx="500.4" cy="703.7"/><circle cx="500.5" cy="691.8"/><circle cx="500.5" cy="715.7"/><circle cx="500.5" cy="685.8"/><circle cx="500.5" cy="709.7"/><circle cx="500.5" cy="697.8"/><circle cx="500.7" cy="721.7"/><circle cx="500.7" cy="682.8"/><circle cx="500.7" cy="706.7"/><circle cx="500.7" cy="694.8"/><circle cx="500.7" cy="718.7"/><circle cx="500.7" cy="688.8"/><circle cx="500.8" cy="712.7"/><circle cx="500.8" cy="700.8"/><circle cx="500.8" cy="724.7"/><circle cx="500.9" cy="677.9"/><circle cx="500.9" cy="701.9"/><circle cx="500.9" cy="689.9"/><circle cx="500.9" cy="713.8"/><circle cx="501.0" cy="683.9"/><circle cx="501.0" cy="707.9"/><circle cx="501.0" cy="695.9"/><circle cx="501.0" cy="719.8"/><circle cx="501.0" cy="680.9"/><circle cx="501.1" cy="704.9"/><circle cx="501.1" cy="692.9"/><circle cx="501.1" cy="716.9"/><circle cx="501.1" cy="686.9"/><circle cx="501.2" cy="710.9"/><circle cx="501.2" cy="698.9"/><circle cx="501.2" cy="722.9"/><circle cx="501.2" cy="679.4"/><circle cx="501.2" cy="703.4"/><circle cx="501.2" cy="691.4"/><circle cx="501.3" cy="715.4"/><circle cx="501.3" cy="685.4"/><circle cx="501.3" cy="709.4"/><circle cx="501.4" cy="697.4"/><circle cx="501.4" cy="721.4"/><circle cx="501.5" cy="682.4"/><circle cx="501.5" cy="706.4"/><circle cx="501.5" cy="694.4"/><circle cx="501.5" cy="718.4"/><circle cx="501.5" cy="688.4"/><circle cx="501.6" cy="712.4"/><circle cx="501.6" cy="700.4"/><circle cx="501.6" cy="724.4"/><circle cx="501.7" cy="678.6"/><circle cx="501.7" cy="702.6"/><circle cx="501.7" cy="690.6"/><circle cx="501.7" cy="714.6"/><circle cx="501.8" cy="684.6"/><circle cx="501.9" cy="708.6"/><circle cx="501.9" cy="696.6"/><circle cx="501.9" cy="720.7"/><circle cx="501.9" cy="681.6"/><circle cx="501.9" cy="705.6"/><circle cx="502.0" cy="693.6"/><circle cx="502.0" cy="717.7"/><circle cx="502.0" cy="687.6"/><circle cx="502.0" cy="711.7"/><circle cx="502.0" cy="699.6"/><circle cx="502.0" cy="723.7"/><circle cx="502.1" cy="680.0"/><circle cx="502.1" cy="704.1"/><circle cx="502.1" cy="692.1"/><circle cx="502.1" cy="716.2"/><circle cx="502.2" cy="686.1"/><circle cx="502.2" cy="710.2"/><circle cx="502.2" cy="698.1"/><circle cx="502.2" cy="722.2"/><circle cx="502.3" cy="683.0"/><circle cx="502.3" cy="707.2"/><circle cx="502.3" cy="695.1"/><circle cx="502.4" cy="719.2"/><circle cx="502.4" cy="689.1"/><circle cx="502.4" cy="713.2"/><circle cx="502.4" cy="701.1"/><circle cx="502.4" cy="725.3"/><circle cx="502.5" cy="677.6"/><circle cx="502.5" cy="701.7"/><circle cx="502.6" cy="689.6"/><circle cx="502.6" cy="713.8"/><circle cx="502.6" cy="683.6"/><circle cx="502.6" cy="707.7"/><circle cx="502.6" cy="695.6"/><circle cx="502.7" cy="719.8"/><circle cx="502.7" cy="680.5"/><circle cx="502.7" cy="704.7"/><circle cx="502.7" cy="692.6"/><circle cx="502.7" cy="716.8"/><circle cx="502.8" cy="686.6"/><circle cx="502.8" cy="710.8"/><circle cx="502.8" cy="698.7"/><circle cx="502.8" cy="722.9"/><circle cx="502.8" cy="679.0"/><circle cx="502.9" cy="703.2"/><circle cx="502.9" cy="691.1"/><circle cx="502.9" cy="715.3"/><circle cx="503.0" cy="685.1"/><circle cx="503.0" cy="709.4"/><circle cx="503.0" cy="697.1"/><circle cx="503.1" cy="721.7"/><circle cx="503.1" cy="681.7"/><circle cx="503.1" cy="706.3"/><circle cx="503.1" cy="694.0"/><circle cx="503.1" cy="718.6"/><circle cx="503.2" cy="687.4"/><circle cx="503.2" cy="712.8"/><circle cx="503.2" cy="700.1"/><circle cx="503.2" cy="725.5"/><circle cx="503.2" cy="677.1"/><circle cx="503.3" cy="702.5"/><circle cx="503.3" cy="689.8"/><circle cx="503.3" cy="715.2"/><circle cx="503.3" cy="683.4"/><circle cx="503.4" cy="709.1"/><circle cx="503.4" cy="696.0"/><circle cx="503.5" cy="722.2"/><circle cx="503.5" cy="679.6"/><circle cx="503.5" cy="705.8"/><circle cx="503.6" cy="692.7"/><circle cx="503.6" cy="718.9"/><circle cx="503.6" cy="686.1"/><circle cx="503.6" cy="712.7"/><circle cx="503.6" cy="699.2"/><circle cx="503.6" cy="726.2"/><circle cx="503.7" cy="677.2"/><circle cx="503.8" cy="704.2"/><circle cx="503.8" cy="690.7"/><circle cx="503.8" cy="717.7"/><circle cx="503.8" cy="684.0"/><circle cx="503.8" cy="711.0"/><circle cx="503.8" cy="697.4"/><circle cx="503.9" cy="725.2"/><circle cx="503.9" cy="680.0"/><circle cx="503.9" cy="707.8"/><circle cx="504.0" cy="693.9"/><circle cx="504.0" cy="721.7"/><circle cx="504.0" cy="686.9"/><circle cx="504.0" cy="714.7"/><circle cx="504.0" cy="700.8"/><circle cx="504.1" cy="729.4"/><circle cx="504.1" cy="673.6"/><circle cx="504.1" cy="702.2"/><circle cx="504.1" cy="687.9"/><circle cx="504.2" cy="716.5"/><circle cx="504.2" cy="680.7"/><circle cx="504.2" cy="709.3"/><circle cx="504.2" cy="695.0"/><circle cx="504.2" cy="723.6"/><circle cx="504.2" cy="676.5"/><circle cx="504.2" cy="705.9"/><circle cx="504.2" cy="691.2"/><circle cx="504.3" cy="720.6"/><circle cx="504.3" cy="683.8"/><circle cx="504.3" cy="713.2"/><circle cx="504.3" cy="698.5"/><circle cx="504.3" cy="727.9"/><circle cx="504.4" cy="674.6"/><circle cx="504.4" cy="704.1"/><circle cx="504.4" cy="689.0"/><circle cx="504.4" cy="719.2"/><circle cx="504.4" cy="681.4"/><circle cx="504.4" cy="711.6"/><circle cx="504.5" cy="696.5"/><circle cx="504.5" cy="726.7"/><circle cx="504.6" cy="677.7"/><circle cx="504.6" cy="707.9"/><circle cx="504.6" cy="692.8"/><circle cx="504.6" cy="723.0"/><circle cx="504.6" cy="685.2"/><circle cx="504.7" cy="715.4"/><circle cx="504.7" cy="700.3"/><circle cx="504.7" cy="730.6"/><circle cx="504.7" cy="672.9"/><circle cx="504.7" cy="703.2"/><circle cx="504.7" cy="688.0"/><circle cx="504.8" cy="718.3"/><circle cx="504.8" cy="680.5"/><circle cx="504.8" cy="710.7"/><circle cx="504.9" cy="695.6"/><circle cx="504.9" cy="725.9"/><circle cx="504.9" cy="676.6"/><circle cx="504.9" cy="706.9"/><circle cx="504.9" cy="691.8"/><circle cx="505.0" cy="722.1"/><circle cx="505.0" cy="684.2"/><circle cx="505.0" cy="714.5"/><circle cx="505.0" cy="699.4"/><circle cx="505.0" cy="729.7"/><circle cx="505.0" cy="674.7"/><circle cx="505.1" cy="705.1"/><circle cx="505.1" cy="689.9"/><circle cx="505.1" cy="720.2"/><circle cx="505.2" cy="682.3"/><circle cx="505.2" cy="712.7"/><circle cx="505.2" cy="697.5"/><circle cx="505.2" cy="727.8"/><circle cx="505.2" cy="678.4"/><circle cx="505.2" cy="708.9"/><circle cx="505.2" cy="693.7"/><circle cx="505.2" cy="724.1"/><circle cx="505.2" cy="686.0"/><circle cx="505.3" cy="716.5"/><circle cx="505.3" cy="701.3"/><circle cx="505.3" cy="731.7"/><circle cx="505.3" cy="671.2"/><circle cx="505.4" cy="701.6"/><circle cx="505.4" cy="686.4"/><circle cx="505.4" cy="716.9"/><circle cx="505.4" cy="678.8"/><circle cx="505.4" cy="709.2"/><circle cx="505.4" cy="694.0"/><circle cx="505.4" cy="724.5"/><circle cx="505.5" cy="674.9"/><circle cx="505.5" cy="705.4"/><circle cx="505.6" cy="690.2"/><circle cx="505.6" cy="720.7"/><circle cx="505.6" cy="682.6"/><circle cx="505.6" cy="713.1"/><circle cx="505.6" cy="697.8"/><circle cx="505.6" cy="728.3"/><circle cx="505.7" cy="673.0"/><circle cx="505.7" cy="703.5"/><circle cx="505.8" cy="688.3"/><circle cx="505.8" cy="718.8"/><circle cx="505.8" cy="680.6"/><circle cx="505.8" cy="711.2"/><circle cx="505.8" cy="695.9"/><circle cx="505.9" cy="726.5"/><circle cx="505.9" cy="676.8"/><circle cx="505.9" cy="707.4"/><circle cx="505.9" cy="692.1"/><circle cx="505.9" cy="722.7"/><circle cx="505.9" cy="684.4"/><circle cx="505.9" cy="715.0"/><circle cx="506.0" cy="699.7"/><circle cx="506.0" cy="730.3"/><circle cx="506.0" cy="672.0"/><circle cx="506.0" cy="702.6"/><circle cx="506.1" cy="687.2"/><circle cx="506.1" cy="717.9"/><circle cx="506.1" cy="679.6"/><circle cx="506.1" cy="710.2"/><circle cx="506.1" cy="694.9"/><circle cx="506.2" cy="725.6"/><circle cx="506.2" cy="675.8"/><circle cx="506.2" cy="706.4"/><circle cx="506.2" cy="691.1"/><circle cx="506.2" cy="721.8"/><circle cx="506.2" cy="683.4"/><circle cx="506.2" cy="714.1"/><circle cx="506.2" cy="698.7"/><circle cx="506.3" cy="729.5"/><circle cx="506.3" cy="673.8"/><circle cx="506.3" cy="704.5"/><circle cx="506.3" cy="689.1"/><circle cx="506.3" cy="719.9"/><circle cx="506.4" cy="681.4"/><circle cx="506.4" cy="712.2"/><circle cx="506.4" cy="696.8"/><circle cx="506.5" cy="727.6"/><circle cx="506.5" cy="677.6"/><circle cx="506.5" cy="708.4"/><circle cx="506.5" cy="693.0"/><circle cx="506.5" cy="723.7"/><circle cx="506.5" cy="685.3"/><circle cx="506.6" cy="716.0"/><circle cx="506.6" cy="700.7"/><circle cx="506.6" cy="731.5"/><circle cx="506.6" cy="671.3"/><circle cx="506.6" cy="702.1"/><circle cx="506.6" cy="686.7"/><circle cx="506.7" cy="717.5"/><circle cx="506.7" cy="679.0"/><circle cx="506.7" cy="709.8"/><circle cx="506.7" cy="694.4"/><circle cx="506.8" cy="725.2"/><circle cx="506.8" cy="675.1"/><circle cx="506.8" cy="706.0"/><circle cx="506.9" cy="690.5"/><circle cx="506.9" cy="721.4"/><circle cx="506.9" cy="682.8"/><circle cx="506.9" cy="713.7"/><circle cx="506.9" cy="698.2"/><circle cx="506.9" cy="729.1"/><circle cx="507.0" cy="673.1"/><circle cx="507.0" cy="704.0"/><circle cx="507.0" cy="688.6"/><circle cx="507.0" cy="719.5"/><circle cx="507.0" cy="680.8"/><circle cx="507.0" cy="711.8"/><circle cx="507.0" cy="696.3"/><circle cx="507.1" cy="727.2"/><circle cx="507.1" cy="677.0"/><circle cx="507.1" cy="707.9"/><circle cx="507.2" cy="692.4"/><circle cx="507.2" cy="723.4"/><circle cx="507.2" cy="684.7"/><circle cx="507.2" cy="715.7"/><circle cx="507.2" cy="700.2"/><circle cx="507.3" cy="731.2"/><circle cx="507.3" cy="672.1"/><circle cx="507.3" cy="703.1"/><circle cx="507.3" cy="687.6"/><circle cx="507.4" cy="718.6"/></g><g fill="#d58581" stroke="#d58581"><circle cx="507.5" cy="57.2"/><circle cx="509.7" cy="62.0"/><circle cx="510.0" cy="55.7"/><circle cx="513.1" cy="61.3"/><circle cx="515.2" cy="58.3"/><circle cx="516.5" cy="65.2"/><circle cx="517.7" cy="51.1"/><circle cx="518.6" cy="58.3"/><circle cx="520.4" cy="54.6"/><circle cx="507.6" cy="136.3"/><circle cx="508.2" cy="146.6"/><circle cx="509.0" cy="129.9"/><circle cx="509.6" cy="140.2"/><circle cx="510.4" cy="135.3"/><circle cx="511.7" cy="143.5"/><circle cx="512.4" cy="135.0"/><circle cx="513.2" cy="140.6"/><circle cx="514.8" cy="138.0"/><circle cx="516.1" cy="146.3"/><circle cx="517.4" cy="129.6"/><circle cx="518.1" cy="139.6"/><circle cx="518.7" cy="133.9"/><circle cx="519.1" cy="145.4"/><circle cx="519.3" cy="130.9"/><circle cx="507.8" cy="215.0"/><circle cx="508.1" cy="221.9"/><circle cx="508.4" cy="218.4"/><circle cx="509.0" cy="226.2"/><circle cx="509.3" cy="211.7"/><circle cx="509.7" cy="219.8"/><circle cx="509.8" cy="215.5"/><circle cx="510.1" cy="224.4"/><circle cx="510.5" cy="212.8"/><circle cx="510.7" cy="222.4"/><circle cx="511.2" cy="217.4"/><circle cx="511.4" cy="227.7"/><circle cx="511.6" cy="210.8"/><circle cx="511.7" cy="221.4"/><circle cx="512.1" cy="215.9"/><circle cx="512.3" cy="227.1"/><circle cx="512.5" cy="212.9"/><circle cx="513.0" cy="224.6"/><circle cx="513.1" cy="218.6"/><circle cx="513.3" cy="230.7"/><circle cx="513.5" cy="207.3"/><circle cx="513.6" cy="219.8"/><circle cx="513.9" cy="213.4"/><circle cx="514.1" cy="226.4"/><circle cx="514.4" cy="209.7"/><circle cx="514.5" cy="223.3"/><circle cx="514.9" cy="216.3"/><circle cx="515.0" cy="230.6"/><circle cx="515.3" cy="207.1"/><circle cx="515.3" cy="221.8"/><circle cx="515.6" cy="214.2"/><circle cx="515.8" cy="229.6"/><circle cx="515.8" cy="210.3"/><circle cx="516.2" cy="226.0"/><circle cx="516.3" cy="217.9"/><circle cx="516.5" cy="234.6"/><circle cx="516.8" cy="204.1"/><circle cx="516.9" cy="221.1"/><circle cx="517.0" cy="212.5"/><circle cx="517.2" cy="229.9"/><circle cx="517.3" cy="207.8"/><circle cx="517.5" cy="225.6"/><circle cx="517.5" cy="216.7"/><circle cx="517.6" cy="234.8"/><circle cx="517.9" cy="205.1"/><circle cx="518.1" cy="223.7"/><circle cx="518.1" cy="214.2"/><circle cx="518.5" cy="233.4"/><circle cx="518.5" cy="209.3"/><circle cx="518.5" cy="228.7"/><circle cx="518.8" cy="218.9"/><circle cx="518.8" cy="238.8"/><circle cx="519.1" cy="199.0"/><circle cx="519.1" cy="219.2"/><circle cx="519.3" cy="208.8"/><circle cx="519.5" cy="229.5"/><circle cx="519.6" cy="203.4"/><circle cx="519.6" cy="224.4"/><circle cx="519.8" cy="213.9"/><circle cx="520.0" cy="235.4"/><circle cx="520.1" cy="200.0"/><circle cx="520.2" cy="221.9"/><circle cx="507.4" cy="308.9"/><circle cx="507.5" cy="293.3"/><circle cx="507.7" cy="324.5"/><circle cx="507.9" cy="273.9"/><circle cx="508.0" cy="305.0"/><circle cx="508.1" cy="289.4"/><circle cx="508.1" cy="320.5"/><circle cx="508.3" cy="281.7"/><circle cx="508.5" cy="312.7"/><circle cx="508.8" cy="297.2"/><circle cx="508.8" cy="328.1"/><circle cx="509.0" cy="272.1"/><circle cx="509.0" cy="303.0"/><circle cx="509.3" cy="287.6"/><circle cx="509.4" cy="318.4"/><circle cx="509.7" cy="279.9"/><circle cx="509.8" cy="310.7"/><circle cx="509.9" cy="295.3"/><circle cx="510.3" cy="325.9"/><circle cx="510.3" cy="276.2"/><circle cx="510.5" cy="306.8"/><circle cx="510.5" cy="291.5"/><circle cx="510.7" cy="322.0"/><circle cx="510.7" cy="283.9"/><circle cx="511.0" cy="314.4"/><circle cx="511.1" cy="299.1"/><circle cx="511.4" cy="329.5"/><circle cx="511.5" cy="269.5"/><circle cx="511.6" cy="299.9"/><circle cx="511.7" cy="284.7"/><circle cx="511.9" cy="315.0"/><circle cx="512.0" cy="277.2"/><circle cx="512.2" cy="307.4"/><circle cx="512.3" cy="292.3"/><circle cx="512.5" cy="322.4"/><circle cx="512.7" cy="273.7"/><circle cx="512.8" cy="303.6"/><circle cx="512.9" cy="288.7"/><circle cx="513.2" cy="318.4"/><circle cx="513.4" cy="281.3"/><circle cx="513.5" cy="310.9"/><circle cx="513.8" cy="296.2"/><circle cx="513.9" cy="325.6"/><circle cx="514.0" cy="272.4"/><circle cx="514.2" cy="301.7"/><circle cx="514.3" cy="287.1"/><circle cx="514.4" cy="316.2"/><circle cx="514.5" cy="279.9"/><circle cx="514.9" cy="308.9"/><circle cx="515.0" cy="294.4"/><circle cx="515.1" cy="323.3"/><circle cx="515.2" cy="276.5"/><circle cx="515.3" cy="305.2"/><circle cx="515.6" cy="290.9"/><circle cx="515.8" cy="319.4"/><circle cx="516.1" cy="283.9"/><circle cx="516.1" cy="312.2"/><circle cx="516.4" cy="298.1"/><circle cx="516.5" cy="326.2"/><circle cx="516.6" cy="272.7"/><circle cx="516.8" cy="300.7"/><circle cx="516.9" cy="286.8"/><circle cx="517.0" cy="314.6"/><circle cx="517.2" cy="279.9"/><circle cx="517.4" cy="307.6"/><circle cx="517.6" cy="293.8"/><circle cx="517.9" cy="321.3"/><circle cx="518.0" cy="276.7"/><circle cx="518.2" cy="304.1"/><circle cx="518.2" cy="290.4"/><circle cx="518.5" cy="317.7"/><circle cx="518.7" cy="283.7"/><circle cx="518.7" cy="310.8"/><circle cx="518.9" cy="297.3"/><circle cx="519.1" cy="324.1"/><circle cx="519.4" cy="275.6"/><circle cx="519.7" cy="302.3"/><circle cx="519.8" cy="289.0"/><circle cx="519.9" cy="315.5"/><circle cx="520.0" cy="282.5"/><circle cx="520.3" cy="308.8"/><circle cx="520.4" cy="295.7"/><circle cx="507.5" cy="382.4"/><circle cx="507.5" cy="375.1"/><circle cx="507.9" cy="389.5"/><circle cx="507.9" cy="371.6"/><circle cx="508.1" cy="385.7"/><circle cx="508.2" cy="378.8"/><circle cx="508.5" cy="392.3"/><circle cx="508.8" cy="368.0"/><circle cx="508.8" cy="381.3"/><circle cx="509.1" cy="374.7"/><circle cx="509.3" cy="387.7"/><circle cx="509.5" cy="371.7"/><circle cx="509.7" cy="384.3"/><circle cx="509.8" cy="378.1"/><circle cx="510.0" cy="390.3"/><circle cx="510.3" cy="370.7"/><circle cx="510.6" cy="382.6"/><circle cx="511.1" cy="376.9"/><circle cx="511.1" cy="387.9"/><circle cx="511.4" cy="374.3"/><circle cx="511.5" cy="384.9"/><circle cx="512.0" cy="379.7"/><circle cx="512.1" cy="389.6"/><circle cx="512.3" cy="370.3"/><circle cx="512.7" cy="380.2"/><circle cx="512.8" cy="375.5"/><circle cx="513.3" cy="384.5"/><circle cx="513.4" cy="373.6"/><circle cx="514.0" cy="382.2"/><circle cx="514.1" cy="378.0"/><circle cx="514.5" cy="386.3"/><circle cx="514.6" cy="373.0"/><circle cx="515.1" cy="381.1"/><circle cx="515.5" cy="377.2"/><circle cx="516.0" cy="384.8"/><circle cx="516.0" cy="375.4"/><circle cx="516.6" cy="382.8"/><circle cx="516.8" cy="379.2"/><circle cx="517.3" cy="386.0"/><circle cx="517.8" cy="373.9"/><circle cx="517.9" cy="380.5"/><circle cx="518.6" cy="377.4"/><circle cx="519.1" cy="383.4"/><circle cx="519.4" cy="376.1"/><circle cx="520.1" cy="381.7"/><circle cx="520.2" cy="379.0"/><circle cx="507.4" cy="435.8"/><circle cx="507.4" cy="462.9"/><circle cx="507.5" cy="449.3"/><circle cx="507.6" cy="476.6"/><circle cx="507.6" cy="442.5"/><circle cx="507.7" cy="469.8"/><circle cx="507.8" cy="456.1"/><circle cx="507.8" cy="483.6"/><circle cx="507.9" cy="438.9"/><circle cx="507.9" cy="466.5"/><circle cx="508.0" cy="452.6"/><circle cx="508.0" cy="480.3"/><circle cx="508.2" cy="445.6"/><circle cx="508.2" cy="473.5"/><circle cx="508.3" cy="459.5"/><circle cx="508.4" cy="487.6"/><circle cx="508.4" cy="432.7"/><circle cx="508.5" cy="460.8"/><circle cx="508.6" cy="446.7"/><circle cx="508.6" cy="475.0"/><circle cx="508.6" cy="439.6"/><circle cx="508.6" cy="467.9"/><circle cx="508.7" cy="453.7"/><circle cx="508.8" cy="482.2"/><circle cx="508.8" cy="435.9"/><circle cx="508.9" cy="464.4"/><circle cx="508.9" cy="450.1"/><circle cx="509.0" cy="478.8"/><circle cx="509.0" cy="442.9"/><circle cx="509.2" cy="471.7"/><circle cx="509.2" cy="457.3"/><circle cx="509.3" cy="486.2"/><circle cx="509.4" cy="433.6"/><circle cx="509.4" cy="462.7"/><circle cx="509.5" cy="448.1"/><circle cx="509.5" cy="477.2"/><circle cx="509.5" cy="440.7"/><circle cx="509.6" cy="470.0"/><circle cx="509.6" cy="455.4"/><circle cx="509.7" cy="484.8"/><circle cx="509.7" cy="436.9"/><circle cx="509.7" cy="466.4"/><circle cx="509.7" cy="451.7"/><circle cx="510.0" cy="481.3"/><circle cx="510.1" cy="444.2"/><circle cx="510.1" cy="473.9"/><circle cx="510.1" cy="459.0"/><circle cx="510.1" cy="488.9"/><circle cx="510.1" cy="432.0"/><circle cx="510.2" cy="461.8"/><circle cx="510.4" cy="446.8"/><circle cx="510.4" cy="476.8"/><circle cx="510.4" cy="439.3"/><circle cx="510.4" cy="469.3"/><circle cx="510.5" cy="454.3"/><circle cx="510.5" cy="484.5"/><circle cx="510.6" cy="435.4"/><circle cx="510.7" cy="465.6"/><circle cx="510.7" cy="450.5"/><circle cx="510.9" cy="480.8"/><circle cx="510.9" cy="442.9"/><circle cx="510.9" cy="473.3"/><circle cx="510.9" cy="458.0"/><circle cx="511.0" cy="488.6"/><circle cx="511.0" cy="433.2"/><circle cx="511.1" cy="463.8"/><circle cx="511.2" cy="448.4"/><circle cx="511.3" cy="479.1"/><circle cx="511.4" cy="440.6"/><circle cx="511.4" cy="471.5"/><circle cx="511.4" cy="456.1"/><circle cx="511.5" cy="486.9"/><circle cx="511.6" cy="436.7"/><circle cx="511.6" cy="467.7"/><circle cx="511.7" cy="452.2"/><circle cx="511.7" cy="483.2"/><circle cx="511.8" cy="444.3"/><circle cx="511.8" cy="475.5"/><circle cx="511.8" cy="459.9"/><circle cx="511.9" cy="491.1"/><circle cx="511.9" cy="429.3"/><circle cx="512.0" cy="460.7"/><circle cx="512.0" cy="445.0"/><circle cx="512.1" cy="476.4"/><circle cx="512.1" cy="437.0"/><circle cx="512.2" cy="468.6"/><circle cx="512.2" cy="452.8"/><circle cx="512.3" cy="484.4"/><circle cx="512.4" cy="432.9"/><circle cx="512.4" cy="464.6"/><circle cx="512.5" cy="448.8"/><circle cx="512.5" cy="480.6"/><circle cx="512.6" cy="440.8"/><circle cx="512.7" cy="472.6"/><circle cx="512.7" cy="456.7"/><circle cx="512.7" cy="488.7"/><circle cx="512.8" cy="430.6"/><circle cx="512.8" cy="462.7"/><circle cx="512.9" cy="446.7"/><circle cx="512.9" cy="478.8"/><circle cx="513.0" cy="438.5"/><circle cx="513.1" cy="470.7"/><circle cx="513.1" cy="454.7"/><circle cx="513.2" cy="486.7"/><circle cx="513.2" cy="434.7"/><circle cx="513.3" cy="466.7"/><circle cx="513.3" cy="450.7"/><circle cx="513.3" cy="482.5"/><circle cx="513.4" cy="442.8"/><circle cx="513.5" cy="474.6"/><circle cx="513.6" cy="458.7"/><circle cx="513.7" cy="490.3"/><circle cx="513.7" cy="430.1"/><circle cx="513.7" cy="461.7"/><circle cx="513.8" cy="445.9"/><circle cx="513.8" cy="477.3"/><circle cx="513.8" cy="438.1"/><circle cx="513.9" cy="469.5"/><circle cx="513.9" cy="453.8"/><circle cx="514.0" cy="485.0"/><circle cx="514.0" cy="434.3"/><circle cx="514.1" cy="465.5"/><circle cx="514.2" cy="450.0"/><circle cx="514.2" cy="481.0"/><circle cx="514.2" cy="442.3"/><circle cx="514.3" cy="473.3"/><circle cx="514.3" cy="457.8"/><circle cx="514.4" cy="488.6"/><circle cx="514.4" cy="432.7"/><circle cx="514.5" cy="463.5"/><circle cx="514.6" cy="448.2"/><circle cx="514.6" cy="478.8"/><circle cx="514.7" cy="440.6"/><circle cx="514.8" cy="471.1"/><circle cx="514.8" cy="455.9"/><circle cx="514.9" cy="486.3"/><circle cx="514.9" cy="436.9"/><circle cx="514.9" cy="467.3"/><circle cx="514.9" cy="452.2"/><circle cx="515.0" cy="482.4"/><circle cx="515.2" cy="444.7"/><circle cx="515.2" cy="474.7"/><circle cx="515.2" cy="459.7"/><circle cx="515.2" cy="489.7"/><circle cx="515.4" cy="431.3"/><circle cx="515.4" cy="461.1"/><circle cx="515.4" cy="446.2"/><circle cx="515.5" cy="475.9"/><circle cx="515.5" cy="438.9"/><circle cx="515.5" cy="468.5"/><circle cx="515.6" cy="453.7"/><circle cx="515.7" cy="483.2"/><circle cx="515.7" cy="435.4"/><circle cx="515.8" cy="464.8"/><circle cx="515.8" cy="450.1"/><circle cx="516.0" cy="479.3"/><circle cx="516.0" cy="442.8"/><circle cx="516.0" cy="472.0"/><circle cx="516.2" cy="457.5"/><circle cx="516.2" cy="486.3"/><circle cx="516.2" cy="434.1"/><circle cx="516.3" cy="462.9"/><circle cx="516.4" cy="448.7"/><circle cx="516.4" cy="477.1"/><circle cx="516.5" cy="441.6"/><circle cx="516.5" cy="469.8"/><circle cx="516.6" cy="455.8"/><circle cx="516.7" cy="483.8"/><circle cx="516.7" cy="438.6"/><circle cx="516.9" cy="466.2"/><circle cx="516.9" cy="452.4"/><circle cx="516.9" cy="479.7"/><circle cx="517.0" cy="445.7"/><circle cx="517.0" cy="472.9"/><circle cx="517.0" cy="459.3"/><circle cx="517.2" cy="486.2"/><circle cx="517.3" cy="435.1"/><circle cx="517.3" cy="461.9"/><circle cx="517.4" cy="448.6"/><circle cx="517.4" cy="475.0"/><circle cx="517.4" cy="442.0"/><circle cx="517.5" cy="468.4"/><circle cx="517.5" cy="455.3"/><circle cx="517.7" cy="481.3"/><circle cx="517.7" cy="439.1"/><circle cx="517.7" cy="465.0"/><circle cx="517.8" cy="452.2"/><circle cx="518.0" cy="477.5"/><circle cx="518.0" cy="446.0"/><circle cx="518.0" cy="471.2"/><circle cx="518.1" cy="458.7"/><circle cx="518.2" cy="483.5"/><circle cx="518.2" cy="438.5"/><circle cx="518.2" cy="463.3"/><circle cx="518.4" cy="451.1"/><circle cx="518.5" cy="475.5"/><circle cx="518.5" cy="445.2"/><circle cx="518.5" cy="469.2"/><circle cx="518.6" cy="457.2"/><circle cx="518.7" cy="480.9"/><circle cx="518.7" cy="442.5"/><circle cx="518.8" cy="466.1"/><circle cx="518.9" cy="454.4"/><circle cx="519.0" cy="477.6"/><circle cx="519.1" cy="449.0"/><circle cx="519.2" cy="471.5"/><circle cx="519.2" cy="460.2"/><circle cx="519.2" cy="482.7"/><circle cx="519.4" cy="438.5"/><circle cx="519.4" cy="460.3"/><circle cx="519.4" cy="449.4"/><circle cx="519.6" cy="470.9"/><circle cx="519.8" cy="445.0"/><circle cx="519.8" cy="465.4"/><circle cx="519.9" cy="455.2"/><circle cx="520.0" cy="475.1"/><circle cx="520.1" cy="443.1"/><circle cx="520.3" cy="462.7"/><circle cx="520.3" cy="453.2"/><circle cx="520.3" cy="472.2"/><circle cx="507.4" cy="634.5"/><circle cx="507.5" cy="605.7"/><circle cx="507.6" cy="628.9"/><circle cx="507.6" cy="617.2"/><circle cx="507.8" cy="640.9"/><circle cx="507.9" cy="601.9"/><circle cx="508.0" cy="626.1"/><circle cx="508.1" cy="614.0"/><circle cx="508.1" cy="638.5"/><circle cx="508.3" cy="607.8"/><circle cx="508.4" cy="632.5"/><circle cx="508.6" cy="620.0"/><circle cx="508.7" cy="645.4"/><circle cx="508.9" cy="596.7"/><circle cx="508.9" cy="622.4"/><circle cx="509.0" cy="609.4"/><circle cx="509.0" cy="635.5"/><circle cx="509.3" cy="602.6"/><circle cx="509.3" cy="629.1"/><circle cx="509.4" cy="615.7"/><circle cx="509.4" cy="642.6"/><circle cx="509.6" cy="598.6"/><circle cx="509.7" cy="625.9"/><circle cx="509.7" cy="612.1"/><circle cx="509.7" cy="639.8"/><circle cx="509.9" cy="605.2"/><circle cx="510.0" cy="633.0"/><circle cx="510.1" cy="619.0"/><circle cx="510.1" cy="647.4"/><circle cx="510.2" cy="595.9"/><circle cx="510.4" cy="624.4"/><circle cx="510.4" cy="610.0"/><circle cx="510.5" cy="639.0"/><circle cx="510.7" cy="602.5"/><circle cx="510.8" cy="631.8"/><circle cx="510.9" cy="617.1"/><circle cx="510.9" cy="646.9"/><circle cx="511.0" cy="598.3"/><circle cx="511.1" cy="628.2"/><circle cx="511.2" cy="613.2"/><circle cx="511.2" cy="643.3"/><circle cx="511.3" cy="605.7"/><circle cx="511.4" cy="635.8"/><circle cx="511.7" cy="620.7"/><circle cx="511.7" cy="651.0"/><circle cx="511.8" cy="591.2"/><circle cx="511.9" cy="621.5"/><circle cx="511.9" cy="606.3"/><circle cx="511.9" cy="636.6"/><circle cx="512.1" cy="598.7"/><circle cx="512.1" cy="629.0"/><circle cx="512.2" cy="613.9"/><circle cx="512.2" cy="644.2"/><circle cx="512.4" cy="594.8"/><circle cx="512.4" cy="625.3"/><circle cx="512.7" cy="610.0"/><circle cx="512.7" cy="640.5"/><circle cx="512.8" cy="602.4"/><circle cx="512.9" cy="632.9"/><circle cx="513.0" cy="617.6"/><circle cx="513.0" cy="648.2"/><circle cx="513.1" cy="592.8"/><circle cx="513.2" cy="623.4"/><circle cx="513.2" cy="608.1"/><circle cx="513.4" cy="638.7"/><circle cx="513.4" cy="600.4"/><circle cx="513.4" cy="631.0"/><circle cx="513.6" cy="615.7"/><circle cx="513.7" cy="646.4"/><circle cx="513.8" cy="596.5"/><circle cx="513.8" cy="627.2"/><circle cx="514.0" cy="611.8"/><circle cx="514.0" cy="642.6"/><circle cx="514.1" cy="604.1"/><circle cx="514.2" cy="635.0"/><circle cx="514.3" cy="619.5"/><circle cx="514.3" cy="650.4"/><circle cx="514.4" cy="591.5"/><circle cx="514.4" cy="622.4"/><circle cx="514.6" cy="607.0"/><circle cx="514.7" cy="637.9"/><circle cx="514.7" cy="599.2"/><circle cx="514.8" cy="630.2"/><circle cx="514.9" cy="614.7"/><circle cx="515.0" cy="645.7"/><circle cx="515.2" cy="595.2"/><circle cx="515.2" cy="626.3"/><circle cx="515.3" cy="610.8"/><circle cx="515.4" cy="641.9"/><circle cx="515.4" cy="603.0"/><circle cx="515.5" cy="634.1"/><circle cx="515.6" cy="618.5"/><circle cx="515.6" cy="649.7"/><circle cx="515.8" cy="593.2"/><circle cx="515.8" cy="624.4"/><circle cx="516.0" cy="608.8"/><circle cx="516.0" cy="640.0"/><circle cx="516.1" cy="600.9"/><circle cx="516.2" cy="632.2"/><circle cx="516.3" cy="616.6"/><circle cx="516.4" cy="647.9"/><circle cx="516.5" cy="597.0"/><circle cx="516.6" cy="628.3"/><circle cx="516.6" cy="612.6"/><circle cx="516.6" cy="644.0"/><circle cx="516.7" cy="604.8"/><circle cx="516.8" cy="636.2"/><circle cx="517.0" cy="620.5"/><circle cx="517.0" cy="652.0"/><circle cx="517.1" cy="590.6"/><circle cx="517.2" cy="622.0"/><circle cx="517.3" cy="606.3"/><circle cx="517.4" cy="637.6"/><circle cx="517.4" cy="598.5"/><circle cx="517.5" cy="629.8"/><circle cx="517.6" cy="614.2"/><circle cx="517.7" cy="645.4"/><circle cx="517.7" cy="594.7"/><circle cx="517.8" cy="625.8"/><circle cx="518.0" cy="610.3"/><circle cx="518.1" cy="641.3"/><circle cx="518.1" cy="602.6"/><circle cx="518.2" cy="633.5"/><circle cx="518.2" cy="618.1"/><circle cx="518.3" cy="648.9"/><circle cx="518.4" cy="593.0"/><circle cx="518.5" cy="623.9"/><circle cx="518.7" cy="608.5"/><circle cx="518.8" cy="639.2"/><circle cx="518.8" cy="600.9"/><circle cx="518.8" cy="631.5"/><circle cx="518.9" cy="616.2"/><circle cx="519.0" cy="646.7"/><circle cx="519.1" cy="597.2"/><circle cx="519.3" cy="627.6"/><circle cx="519.4" cy="612.4"/><circle cx="519.5" cy="642.8"/><circle cx="519.6" cy="604.9"/><circle cx="519.6" cy="635.2"/><circle cx="519.6" cy="620.0"/><circle cx="519.9" cy="650.2"/><circle cx="519.9" cy="592.7"/><circle cx="520.0" cy="622.9"/><circle cx="520.1" cy="607.8"/><circle cx="520.1" cy="637.9"/><circle cx="520.1" cy="600.4"/><circle cx="520.3" cy="630.3"/><circle cx="520.3" cy="615.4"/><circle cx="520.4" cy="645.2"/><circle cx="507.4" cy="679.8"/><circle cx="507.4" cy="710.8"/><circle cx="507.4" cy="695.3"/><circle cx="507.4" cy="726.4"/><circle cx="507.4" cy="675.9"/><circle cx="507.5" cy="707.0"/><circle cx="507.5" cy="691.4"/><circle cx="507.5" cy="722.5"/><circle cx="507.5" cy="683.7"/><circle cx="507.6" cy="714.7"/><circle cx="507.6" cy="699.2"/><circle cx="507.6" cy="730.3"/><circle cx="507.6" cy="673.9"/><circle cx="507.6" cy="705.0"/><circle cx="507.7" cy="689.5"/><circle cx="507.7" cy="720.6"/><circle cx="507.7" cy="681.7"/><circle cx="507.7" cy="712.8"/><circle cx="507.7" cy="697.2"/><circle cx="507.7" cy="728.4"/><circle cx="507.8" cy="677.8"/><circle cx="507.8" cy="708.9"/><circle cx="507.8" cy="693.3"/><circle cx="507.8" cy="724.5"/><circle cx="507.8" cy="685.5"/><circle cx="507.9" cy="716.7"/><circle cx="507.9" cy="701.1"/><circle cx="507.9" cy="732.3"/><circle cx="507.9" cy="670.7"/><circle cx="507.9" cy="701.9"/><circle cx="507.9" cy="686.3"/><circle cx="507.9" cy="717.5"/><circle cx="508.0" cy="678.5"/><circle cx="508.0" cy="709.6"/><circle cx="508.1" cy="694.1"/><circle cx="508.1" cy="725.2"/><circle cx="508.1" cy="674.6"/><circle cx="508.1" cy="705.8"/><circle cx="508.1" cy="690.2"/><circle cx="508.1" cy="721.3"/><circle cx="508.2" cy="682.4"/><circle cx="508.2" cy="713.5"/><circle cx="508.2" cy="698.0"/><circle cx="508.2" cy="729.0"/><circle cx="508.2" cy="672.8"/><circle cx="508.3" cy="703.8"/><circle cx="508.3" cy="688.3"/><circle cx="508.3" cy="719.3"/><circle cx="508.3" cy="680.6"/><circle cx="508.4" cy="711.5"/><circle cx="508.4" cy="696.1"/><circle cx="508.4" cy="727.0"/><circle cx="508.4" cy="676.7"/><circle cx="508.4" cy="707.6"/><circle cx="508.4" cy="692.2"/><circle cx="508.4" cy="723.1"/><circle cx="508.4" cy="684.5"/><circle cx="508.5" cy="715.3"/><circle cx="508.5" cy="699.9"/><circle cx="508.5" cy="730.8"/><circle cx="508.5" cy="672.0"/><circle cx="508.6" cy="702.8"/><circle cx="508.6" cy="687.4"/><circle cx="508.6" cy="718.2"/><circle cx="508.6" cy="679.8"/><circle cx="508.7" cy="710.5"/><circle cx="508.7" cy="695.1"/><circle cx="508.7" cy="725.8"/><circle cx="508.7" cy="676.0"/><circle cx="508.8" cy="706.7"/><circle cx="508.8" cy="691.3"/><circle cx="508.8" cy="722.0"/><circle cx="508.8" cy="683.7"/><circle cx="508.8" cy="714.3"/><circle cx="508.8" cy="699.0"/><circle cx="508.8" cy="729.5"/><circle cx="508.9" cy="674.2"/><circle cx="508.9" cy="704.7"/><circle cx="508.9" cy="689.5"/><circle cx="508.9" cy="720.0"/><circle cx="508.9" cy="681.8"/><circle cx="509.0" cy="712.4"/><circle cx="509.0" cy="697.1"/><circle cx="509.0" cy="727.5"/><circle cx="509.0" cy="678.1"/><circle cx="509.1" cy="708.5"/><circle cx="509.1" cy="693.3"/><circle cx="509.1" cy="723.7"/><circle cx="509.1" cy="685.7"/><circle cx="509.1" cy="716.1"/><circle cx="509.2" cy="700.9"/><circle cx="509.2" cy="731.3"/><circle cx="509.2" cy="672.1"/><circle cx="509.2" cy="702.3"/><circle cx="509.2" cy="687.2"/><circle cx="509.2" cy="717.4"/><circle cx="509.3" cy="679.7"/><circle cx="509.3" cy="709.9"/><circle cx="509.3" cy="694.8"/><circle cx="509.3" cy="725.0"/><circle cx="509.4" cy="675.9"/><circle cx="509.4" cy="706.1"/><circle cx="509.4" cy="691.0"/><circle cx="509.4" cy="721.1"/><circle cx="509.5" cy="683.5"/><circle cx="509.5" cy="713.6"/><circle cx="509.5" cy="698.6"/><circle cx="509.5" cy="728.6"/><circle cx="509.5" cy="674.1"/><circle cx="509.5" cy="704.2"/><circle cx="509.5" cy="689.2"/><circle cx="509.6" cy="719.2"/><circle cx="509.6" cy="681.7"/><circle cx="509.7" cy="711.7"/><circle cx="509.7" cy="696.7"/><circle cx="509.7" cy="726.6"/><circle cx="509.7" cy="678.0"/><circle cx="509.7" cy="707.9"/><circle cx="509.7" cy="693.0"/><circle cx="509.7" cy="722.9"/><circle cx="509.8" cy="685.5"/><circle cx="509.8" cy="715.3"/><circle cx="509.9" cy="700.5"/><circle cx="509.9" cy="730.2"/><circle cx="509.9" cy="673.5"/><circle cx="509.9" cy="703.2"/><circle cx="509.9" cy="688.4"/><circle cx="509.9" cy="718.1"/><circle cx="509.9" cy="680.9"/><circle cx="509.9" cy="710.7"/><circle cx="510.0" cy="695.8"/><circle cx="510.1" cy="725.5"/><circle cx="510.1" cy="677.3"/><circle cx="510.1" cy="706.9"/><circle cx="510.1" cy="692.1"/><circle cx="510.1" cy="721.8"/><circle cx="510.1" cy="684.7"/><circle cx="510.1" cy="714.3"/><circle cx="510.1" cy="699.5"/><circle cx="510.2" cy="729.2"/><circle cx="510.2" cy="675.6"/><circle cx="510.2" cy="705.1"/><circle cx="510.2" cy="690.3"/><circle cx="510.2" cy="719.8"/><circle cx="510.2" cy="683.0"/><circle cx="510.3" cy="712.4"/><circle cx="510.3" cy="697.7"/><circle cx="510.3" cy="727.2"/><circle cx="510.4" cy="679.3"/><circle cx="510.4" cy="708.8"/><circle cx="510.4" cy="694.1"/><circle cx="510.5" cy="723.4"/><circle cx="510.5" cy="686.7"/><circle cx="510.5" cy="716.0"/><circle cx="510.6" cy="701.4"/><circle cx="510.6" cy="730.7"/><circle cx="510.6" cy="672.2"/><circle cx="510.6" cy="701.6"/><circle cx="510.6" cy="686.9"/><circle cx="510.6" cy="716.2"/><circle cx="510.6" cy="679.7"/><circle cx="510.6" cy="708.9"/><circle cx="510.6" cy="694.3"/><circle cx="510.6" cy="723.4"/><circle cx="510.7" cy="676.0"/><circle cx="510.7" cy="705.2"/><circle cx="510.7" cy="690.6"/><circle cx="510.8" cy="719.8"/><circle cx="510.8" cy="683.3"/><circle cx="510.8" cy="712.4"/><circle cx="510.8" cy="697.9"/><circle cx="510.8" cy="727.0"/><circle cx="510.8" cy="674.3"/><circle cx="510.9" cy="703.4"/><circle cx="510.9" cy="688.9"/><circle cx="510.9" cy="717.9"/><circle cx="511.0" cy="681.6"/><circle cx="511.0" cy="710.6"/><circle cx="511.0" cy="696.1"/><circle cx="511.0" cy="725.0"/><circle cx="511.1" cy="678.1"/><circle cx="511.1" cy="707.0"/><circle cx="511.1" cy="692.5"/><circle cx="511.1" cy="721.4"/><circle cx="511.1" cy="685.3"/><circle cx="511.1" cy="714.2"/><circle cx="511.2" cy="699.8"/><circle cx="511.2" cy="728.5"/><circle cx="511.2" cy="673.7"/><circle cx="511.2" cy="702.5"/><circle cx="511.2" cy="688.1"/><circle cx="511.3" cy="716.8"/><circle cx="511.3" cy="680.9"/><circle cx="511.3" cy="709.6"/><circle cx="511.4" cy="695.3"/><circle cx="511.4" cy="724.0"/><circle cx="511.4" cy="677.3"/><circle cx="511.4" cy="706.0"/><circle cx="511.5" cy="691.7"/><circle cx="511.5" cy="720.3"/><circle cx="511.5" cy="684.6"/><circle cx="511.5" cy="713.2"/><circle cx="511.5" cy="698.9"/><circle cx="511.5" cy="727.5"/><circle cx="511.6" cy="675.7"/><circle cx="511.6" cy="704.2"/><circle cx="511.6" cy="689.9"/><circle cx="511.6" cy="718.4"/><circle cx="511.7" cy="682.9"/><circle cx="511.7" cy="711.3"/><circle cx="511.7" cy="697.1"/><circle cx="511.8" cy="725.5"/><circle cx="511.8" cy="679.3"/><circle cx="511.8" cy="707.8"/><circle cx="511.8" cy="693.6"/><circle cx="511.8" cy="721.9"/><circle cx="511.8" cy="686.5"/><circle cx="511.8" cy="714.8"/><circle cx="511.8" cy="700.7"/><circle cx="511.9" cy="728.9"/><circle cx="511.9" cy="673.7"/><circle cx="511.9" cy="702.0"/><circle cx="512.0" cy="687.9"/><circle cx="512.0" cy="716.1"/><circle cx="512.0" cy="680.8"/><circle cx="512.0" cy="708.5"/><circle cx="512.1" cy="695.4"/><circle cx="512.1" cy="721.6"/><circle cx="512.1" cy="679.0"/><circle cx="512.1" cy="705.2"/><circle cx="512.2" cy="692.1"/><circle cx="512.2" cy="718.3"/><circle cx="512.2" cy="685.6"/><circle cx="512.2" cy="710.2"/><circle cx="512.3" cy="699.1"/><circle cx="512.3" cy="721.3"/><circle cx="512.3" cy="681.1"/><circle cx="512.3" cy="703.3"/><circle cx="512.3" cy="692.2"/><circle cx="512.3" cy="714.4"/><circle cx="512.4" cy="689.3"/><circle cx="512.4" cy="707.5"/><circle cx="512.4" cy="698.4"/><circle cx="512.4" cy="716.6"/><circle cx="512.5" cy="687.0"/><circle cx="512.5" cy="705.2"/><circle cx="512.6" cy="696.1"/><circle cx="512.6" cy="711.5"/><circle cx="512.7" cy="693.8"/><circle cx="512.8" cy="708.0"/><circle cx="512.8" cy="700.9"/><circle cx="512.8" cy="711.2"/><circle cx="512.8" cy="691.8"/><circle cx="512.8" cy="702.0"/><circle cx="512.9" cy="696.9"/><circle cx="513.0" cy="706.0"/><circle cx="513.2" cy="695.9"/><circle cx="513.2" cy="703.9"/><circle cx="513.3" cy="699.9"/><circle cx="513.6" cy="707.7"/><circle cx="513.6" cy="695.1"/><circle cx="513.6" cy="702.9"/><circle cx="513.7" cy="699.0"/><circle cx="513.8" cy="706.6"/><circle cx="513.8" cy="697.1"/><circle cx="514.0" cy="704.7"/><circle cx="514.0" cy="700.9"/><circle cx="514.0" cy="708.3"/><circle cx="514.1" cy="695.0"/><circle cx="514.1" cy="702.3"/><circle cx="514.2" cy="698.7"/><circle cx="514.5" cy="705.8"/><circle cx="514.6" cy="697.0"/><circle cx="514.6" cy="704.0"/><circle cx="514.7" cy="700.6"/><circle cx="514.7" cy="707.4"/><circle cx="514.9" cy="696.4"/><circle cx="514.9" cy="703.1"/><circle cx="515.0" cy="699.8"/><circle cx="515.1" cy="706.3"/><circle cx="515.2" cy="698.2"/><circle cx="515.4" cy="704.6"/><circle cx="515.5" cy="701.4"/><circle cx="515.5" cy="707.6"/><circle cx="515.7" cy="695.5"/><circle cx="515.7" cy="701.6"/><circle cx="515.9" cy="698.6"/><circle cx="515.9" cy="704.5"/><circle cx="516.1" cy="697.3"/><circle cx="516.1" cy="703.0"/><circle cx="516.3" cy="700.2"/><circle cx="516.4" cy="705.6"/><circle cx="516.4" cy="696.8"/><circle cx="516.5" cy="702.2"/><circle cx="516.7" cy="699.6"/><circle cx="516.9" cy="704.7"/><circle cx="516.9" cy="698.4"/><circle cx="517.1" cy="703.4"/><circle cx="517.3" cy="700.9"/><circle cx="517.3" cy="705.8"/><circle cx="517.4" cy="697.0"/><circle cx="517.8" cy="701.8"/><circle cx="517.8" cy="699.5"/><circle cx="517.9" cy="704.2"/><circle cx="517.9" cy="698.3"/><circle cx="518.2" cy="703.0"/><circle cx="518.2" cy="700.7"/><circle cx="518.3" cy="705.2"/><circle cx="518.6" cy="697.9"/><circle cx="518.6" cy="702.4"/><circle cx="518.8" cy="700.2"/><circle cx="519.0" cy="704.5"/><circle cx="519.1" cy="699.2"/><circle cx="519.2" cy="703.4"/><circle cx="519.5" cy="701.3"/><circle cx="519.5" cy="705.4"/><circle cx="519.7" cy="697.6"/><circle cx="519.9" cy="701.7"/><circle cx="519.9" cy="699.7"/><circle cx="520.1" cy="703.6"/><circle cx="520.3" cy="698.8"/></g><g fill="#d38184" stroke="#d38184"><circle cx="521.1" cy="62.1"/><circle cx="522.7" cy="52.5"/><circle cx="524.7" cy="60.3"/><circle cx="525.3" cy="56.3"/><circle cx="526.4" cy="64.4"/><circle cx="528.4" cy="51.1"/><circle cx="530.0" cy="59.4"/><circle cx="530.9" cy="55.1"/><circle cx="531.5" cy="63.7"/><circle cx="533.2" cy="52.8"/><circle cx="520.4" cy="142.7"/><circle cx="521.3" cy="136.6"/><circle cx="521.7" cy="149.1"/><circle cx="522.2" cy="128.6"/><circle cx="523.0" cy="141.4"/><circle cx="523.4" cy="134.8"/><circle cx="523.9" cy="148.2"/><circle cx="524.6" cy="131.2"/><circle cx="524.8" cy="145.0"/><circle cx="525.6" cy="138.1"/><circle cx="526.3" cy="152.4"/><circle cx="527.0" cy="125.0"/><circle cx="527.2" cy="139.4"/><circle cx="528.0" cy="132.1"/><circle cx="528.3" cy="146.8"/><circle cx="528.6" cy="128.4"/><circle cx="529.5" cy="143.2"/><circle cx="529.7" cy="135.7"/><circle cx="530.4" cy="150.8"/><circle cx="531.1" cy="126.1"/><circle cx="531.4" cy="141.4"/><circle cx="531.6" cy="133.7"/><circle cx="532.2" cy="149.2"/><circle cx="532.5" cy="129.8"/><circle cx="533.2" cy="145.4"/><circle cx="520.5" cy="210.9"/><circle cx="520.5" cy="233.1"/><circle cx="520.6" cy="205.1"/><circle cx="520.7" cy="227.7"/><circle cx="520.9" cy="216.3"/><circle cx="521.0" cy="239.4"/><circle cx="521.0" cy="197.6"/><circle cx="521.2" cy="220.6"/><circle cx="521.4" cy="208.9"/><circle cx="521.4" cy="232.4"/><circle cx="521.5" cy="203.0"/><circle cx="521.7" cy="226.6"/><circle cx="521.9" cy="214.7"/><circle cx="521.9" cy="238.5"/><circle cx="522.1" cy="199.7"/><circle cx="522.2" cy="223.7"/><circle cx="522.3" cy="211.7"/><circle cx="522.4" cy="235.9"/><circle cx="522.4" cy="205.5"/><circle cx="522.6" cy="229.9"/><circle cx="522.7" cy="217.7"/><circle cx="522.7" cy="242.3"/><circle cx="523.1" cy="195.2"/><circle cx="523.1" cy="220.0"/><circle cx="523.2" cy="207.5"/><circle cx="523.3" cy="232.5"/><circle cx="523.4" cy="201.2"/><circle cx="523.6" cy="226.3"/><circle cx="523.6" cy="213.7"/><circle cx="523.7" cy="239.1"/><circle cx="523.9" cy="197.6"/><circle cx="524.0" cy="223.2"/><circle cx="524.0" cy="210.4"/><circle cx="524.1" cy="236.1"/><circle cx="524.1" cy="203.9"/><circle cx="524.3" cy="229.7"/><circle cx="524.7" cy="216.8"/><circle cx="524.7" cy="242.8"/><circle cx="524.8" cy="195.4"/><circle cx="524.9" cy="221.7"/><circle cx="525.0" cy="208.5"/><circle cx="525.0" cy="234.9"/><circle cx="525.2" cy="201.8"/><circle cx="525.3" cy="228.3"/><circle cx="525.3" cy="215.0"/><circle cx="525.5" cy="241.9"/><circle cx="525.6" cy="198.2"/><circle cx="525.8" cy="225.1"/><circle cx="525.9" cy="211.6"/><circle cx="526.0" cy="238.8"/><circle cx="526.1" cy="204.7"/><circle cx="526.2" cy="232.0"/><circle cx="526.3" cy="218.4"/><circle cx="526.3" cy="245.9"/><circle cx="526.4" cy="192.1"/><circle cx="526.5" cy="219.6"/><circle cx="526.7" cy="205.8"/><circle cx="526.7" cy="233.5"/><circle cx="526.7" cy="198.7"/><circle cx="527.0" cy="226.7"/><circle cx="527.1" cy="212.6"/><circle cx="527.1" cy="240.7"/><circle cx="527.2" cy="195.0"/><circle cx="527.3" cy="223.2"/><circle cx="527.5" cy="209.0"/><circle cx="527.6" cy="237.4"/><circle cx="527.7" cy="201.9"/><circle cx="527.7" cy="230.3"/><circle cx="527.8" cy="216.1"/><circle cx="527.9" cy="244.5"/><circle cx="528.0" cy="192.9"/><circle cx="528.1" cy="221.4"/><circle cx="528.2" cy="207.2"/><circle cx="528.3" cy="235.7"/><circle cx="528.4" cy="200.0"/><circle cx="528.4" cy="228.6"/><circle cx="528.6" cy="214.3"/><circle cx="528.7" cy="243.0"/><circle cx="528.8" cy="196.3"/><circle cx="528.9" cy="225.1"/><circle cx="529.0" cy="210.6"/><circle cx="529.2" cy="239.6"/><circle cx="529.3" cy="203.4"/><circle cx="529.3" cy="232.3"/><circle cx="529.4" cy="217.9"/><circle cx="529.4" cy="246.9"/><circle cx="529.5" cy="191.5"/><circle cx="529.5" cy="220.6"/><circle cx="529.7" cy="206.0"/><circle cx="529.9" cy="235.2"/><circle cx="530.0" cy="198.7"/><circle cx="530.0" cy="227.9"/><circle cx="530.1" cy="213.3"/><circle cx="530.2" cy="242.6"/><circle cx="530.4" cy="194.9"/><circle cx="530.4" cy="224.3"/><circle cx="530.5" cy="209.6"/><circle cx="530.6" cy="239.0"/><circle cx="530.7" cy="202.2"/><circle cx="530.8" cy="231.7"/><circle cx="530.8" cy="216.9"/><circle cx="531.0" cy="246.5"/><circle cx="531.1" cy="192.9"/><circle cx="531.2" cy="222.5"/><circle cx="531.3" cy="207.6"/><circle cx="531.4" cy="237.3"/><circle cx="531.5" cy="200.2"/><circle cx="531.5" cy="229.9"/><circle cx="531.5" cy="215.0"/><circle cx="531.8" cy="244.9"/><circle cx="531.9" cy="196.3"/><circle cx="531.9" cy="226.2"/><circle cx="532.0" cy="211.3"/><circle cx="532.2" cy="241.3"/><circle cx="532.2" cy="203.7"/><circle cx="532.2" cy="233.8"/><circle cx="532.4" cy="218.7"/><circle cx="532.6" cy="248.9"/><circle cx="532.6" cy="189.3"/><circle cx="532.7" cy="219.5"/><circle cx="532.7" cy="204.3"/><circle cx="532.9" cy="234.6"/><circle cx="533.0" cy="196.7"/><circle cx="533.0" cy="227.0"/><circle cx="533.1" cy="211.9"/><circle cx="533.1" cy="242.3"/><circle cx="533.1" cy="192.9"/><circle cx="533.4" cy="223.3"/><circle cx="520.7" cy="321.8"/><circle cx="520.7" cy="279.5"/><circle cx="520.9" cy="305.5"/><circle cx="521.1" cy="292.5"/><circle cx="521.3" cy="318.2"/><circle cx="521.5" cy="286.2"/><circle cx="521.6" cy="311.7"/><circle cx="521.9" cy="299.0"/><circle cx="522.0" cy="324.1"/><circle cx="522.4" cy="275.4"/><circle cx="522.5" cy="300.2"/><circle cx="522.5" cy="287.8"/><circle cx="522.8" cy="312.4"/><circle cx="523.1" cy="281.9"/><circle cx="523.2" cy="306.2"/><circle cx="523.3" cy="294.1"/><circle cx="523.6" cy="318.2"/><circle cx="523.9" cy="279.3"/><circle cx="523.9" cy="303.1"/><circle cx="524.1" cy="291.3"/><circle cx="524.5" cy="314.8"/><circle cx="524.6" cy="285.6"/><circle cx="524.8" cy="308.8"/><circle cx="524.9" cy="297.2"/><circle cx="525.0" cy="320.3"/><circle cx="525.3" cy="278.8"/><circle cx="525.5" cy="301.5"/><circle cx="525.7" cy="290.3"/><circle cx="526.0" cy="312.7"/><circle cx="526.2" cy="284.8"/><circle cx="526.3" cy="307.0"/><circle cx="526.7" cy="296.0"/><circle cx="526.8" cy="317.8"/><circle cx="527.1" cy="282.6"/><circle cx="527.2" cy="304.1"/><circle cx="527.4" cy="293.4"/><circle cx="527.6" cy="314.7"/><circle cx="528.0" cy="288.3"/><circle cx="528.3" cy="309.2"/><circle cx="528.3" cy="298.8"/><circle cx="528.6" cy="319.3"/><circle cx="528.9" cy="280.4"/><circle cx="529.0" cy="300.7"/><circle cx="529.1" cy="290.6"/><circle cx="529.6" cy="310.6"/><circle cx="529.8" cy="285.8"/><circle cx="530.0" cy="305.6"/><circle cx="530.1" cy="295.8"/><circle cx="530.6" cy="315.0"/><circle cx="530.7" cy="284.0"/><circle cx="531.0" cy="303.0"/><circle cx="531.3" cy="293.6"/><circle cx="531.5" cy="312.1"/><circle cx="531.8" cy="289.2"/><circle cx="531.9" cy="307.3"/><circle cx="532.5" cy="298.3"/><circle cx="532.6" cy="315.9"/><circle cx="532.9" cy="284.3"/><circle cx="533.2" cy="301.6"/><circle cx="533.3" cy="293.1"/><circle cx="520.7" cy="384.1"/><circle cx="521.3" cy="376.2"/><circle cx="522.2" cy="381.0"/><circle cx="522.8" cy="378.4"/><circle cx="523.3" cy="383.9"/><circle cx="523.4" cy="376.9"/><circle cx="523.8" cy="382.6"/><circle cx="524.5" cy="379.7"/><circle cx="524.8" cy="386.1"/><circle cx="525.5" cy="373.6"/><circle cx="525.7" cy="380.3"/><circle cx="525.9" cy="376.8"/><circle cx="526.6" cy="384.0"/><circle cx="526.9" cy="374.8"/><circle cx="527.2" cy="382.2"/><circle cx="527.6" cy="378.4"/><circle cx="528.0" cy="386.3"/><circle cx="528.3" cy="373.4"/><circle cx="528.5" cy="381.4"/><circle cx="528.8" cy="377.3"/><circle cx="529.2" cy="385.5"/><circle cx="529.4" cy="375.2"/><circle cx="529.8" cy="383.5"/><circle cx="530.1" cy="379.3"/><circle cx="530.4" cy="387.8"/><circle cx="530.8" cy="372.4"/><circle cx="531.2" cy="381.0"/><circle cx="531.3" cy="376.6"/><circle cx="531.9" cy="385.4"/><circle cx="532.0" cy="374.3"/><circle cx="532.1" cy="383.2"/><circle cx="532.8" cy="378.7"/><circle cx="532.9" cy="387.8"/><circle cx="533.3" cy="373.0"/><circle cx="533.4" cy="382.2"/><circle cx="520.4" cy="448.9"/><circle cx="520.5" cy="467.2"/><circle cx="520.5" cy="458.1"/><circle cx="520.6" cy="475.7"/><circle cx="520.6" cy="443.8"/><circle cx="520.9" cy="461.4"/><circle cx="520.9" cy="452.9"/><circle cx="520.9" cy="469.4"/><circle cx="521.2" cy="449.7"/><circle cx="521.2" cy="465.1"/><circle cx="521.4" cy="457.6"/><circle cx="521.5" cy="472.2"/><circle cx="521.6" cy="449.1"/><circle cx="521.7" cy="462.8"/><circle cx="521.9" cy="456.3"/><circle cx="521.9" cy="468.7"/><circle cx="522.0" cy="453.5"/><circle cx="522.2" cy="465.3"/><circle cx="522.5" cy="459.7"/><circle cx="522.6" cy="469.5"/><circle cx="522.8" cy="451.6"/><circle cx="522.9" cy="460.6"/><circle cx="523.0" cy="456.5"/><circle cx="523.4" cy="464.2"/><circle cx="523.7" cy="455.3"/><circle cx="523.8" cy="462.2"/><circle cx="524.0" cy="459.0"/><circle cx="524.4" cy="464.5"/><circle cx="524.8" cy="456.5"/><circle cx="525.1" cy="460.9"/><circle cx="525.4" cy="459.2"/><circle cx="526.5" cy="461.7"/><circle cx="526.7" cy="459.0"/><circle cx="527.7" cy="461.2"/><circle cx="528.5" cy="460.1"/><circle cx="529.2" cy="462.2"/><circle cx="530.0" cy="458.4"/><circle cx="531.4" cy="460.5"/><circle cx="531.6" cy="459.5"/><circle cx="532.4" cy="461.5"/><circle cx="520.4" cy="596.7"/><circle cx="520.6" cy="626.6"/><circle cx="520.6" cy="611.7"/><circle cx="520.8" cy="641.4"/><circle cx="520.9" cy="604.3"/><circle cx="520.9" cy="633.9"/><circle cx="521.0" cy="619.1"/><circle cx="521.1" cy="648.6"/><circle cx="521.1" cy="595.2"/><circle cx="521.1" cy="624.7"/><circle cx="521.4" cy="610.0"/><circle cx="521.6" cy="639.3"/><circle cx="521.6" cy="602.7"/><circle cx="521.6" cy="632.0"/><circle cx="521.8" cy="617.3"/><circle cx="521.9" cy="646.5"/><circle cx="522.0" cy="599.2"/><circle cx="522.0" cy="628.3"/><circle cx="522.2" cy="613.7"/><circle cx="522.3" cy="642.7"/><circle cx="522.4" cy="606.5"/><circle cx="522.4" cy="635.4"/><circle cx="522.4" cy="621.0"/><circle cx="522.5" cy="649.8"/><circle cx="522.6" cy="592.4"/><circle cx="522.8" cy="621.2"/><circle cx="522.8" cy="606.8"/><circle cx="522.9" cy="635.5"/><circle cx="523.0" cy="599.7"/><circle cx="523.1" cy="628.3"/><circle cx="523.2" cy="614.0"/><circle cx="523.3" cy="642.5"/><circle cx="523.4" cy="596.3"/><circle cx="523.5" cy="624.7"/><circle cx="523.5" cy="610.5"/><circle cx="523.6" cy="638.8"/><circle cx="523.7" cy="603.5"/><circle cx="523.8" cy="631.7"/><circle cx="524.0" cy="617.6"/><circle cx="524.1" cy="645.7"/><circle cx="524.1" cy="594.9"/><circle cx="524.2" cy="622.9"/><circle cx="524.4" cy="608.9"/><circle cx="524.4" cy="636.8"/><circle cx="524.6" cy="602.0"/><circle cx="524.6" cy="629.8"/><circle cx="524.7" cy="615.9"/><circle cx="524.8" cy="643.7"/><circle cx="524.9" cy="598.6"/><circle cx="525.0" cy="626.3"/><circle cx="525.0" cy="612.5"/><circle cx="525.1" cy="640.1"/><circle cx="525.3" cy="605.7"/><circle cx="525.3" cy="633.1"/><circle cx="525.5" cy="619.4"/><circle cx="525.7" cy="646.7"/><circle cx="525.7" cy="594.8"/><circle cx="525.9" cy="622.0"/><circle cx="525.9" cy="608.4"/><circle cx="526.0" cy="635.5"/><circle cx="526.1" cy="601.7"/><circle cx="526.1" cy="628.7"/><circle cx="526.2" cy="615.2"/><circle cx="526.4" cy="642.2"/><circle cx="526.4" cy="598.5"/><circle cx="526.5" cy="625.4"/><circle cx="526.7" cy="611.9"/><circle cx="526.7" cy="638.7"/><circle cx="526.7" cy="605.3"/><circle cx="526.7" cy="632.0"/><circle cx="527.1" cy="618.7"/><circle cx="527.2" cy="645.2"/><circle cx="527.2" cy="597.1"/><circle cx="527.3" cy="623.6"/><circle cx="527.5" cy="610.4"/><circle cx="527.5" cy="636.8"/><circle cx="527.6" cy="603.9"/><circle cx="527.6" cy="630.2"/><circle cx="527.8" cy="617.1"/><circle cx="527.9" cy="643.2"/><circle cx="528.0" cy="600.8"/><circle cx="528.2" cy="626.8"/><circle cx="528.2" cy="613.8"/><circle cx="528.4" cy="639.8"/><circle cx="528.5" cy="607.4"/><circle cx="528.5" cy="633.2"/><circle cx="528.6" cy="620.3"/><circle cx="528.8" cy="646.0"/><circle cx="528.8" cy="595.9"/><circle cx="528.9" cy="621.6"/><circle cx="529.1" cy="608.8"/><circle cx="529.1" cy="634.3"/><circle cx="529.2" cy="602.4"/><circle cx="529.3" cy="627.9"/><circle cx="529.3" cy="615.2"/><circle cx="529.6" cy="640.5"/><circle cx="529.7" cy="599.4"/><circle cx="529.7" cy="624.7"/><circle cx="529.8" cy="612.1"/><circle cx="530.0" cy="637.2"/><circle cx="530.0" cy="605.9"/><circle cx="530.1" cy="630.9"/><circle cx="530.3" cy="618.4"/><circle cx="530.3" cy="643.3"/><circle cx="530.3" cy="598.2"/><circle cx="530.5" cy="623.1"/><circle cx="530.5" cy="610.7"/><circle cx="530.7" cy="635.3"/><circle cx="530.9" cy="604.9"/><circle cx="531.1" cy="629.1"/><circle cx="531.2" cy="617.0"/><circle cx="531.3" cy="640.9"/><circle cx="531.3" cy="602.3"/><circle cx="531.3" cy="625.9"/><circle cx="531.5" cy="614.2"/><circle cx="531.6" cy="637.6"/><circle cx="531.8" cy="608.5"/><circle cx="531.8" cy="631.6"/><circle cx="532.0" cy="620.1"/><circle cx="532.3" cy="642.7"/><circle cx="532.3" cy="599.6"/><circle cx="532.4" cy="622.2"/><circle cx="532.5" cy="611.1"/><circle cx="532.6" cy="633.3"/><circle cx="532.8" cy="605.8"/><circle cx="532.9" cy="627.6"/><circle cx="533.0" cy="616.7"/><circle cx="533.0" cy="638.4"/><circle cx="533.2" cy="603.4"/><circle cx="533.3" cy="624.8"/><circle cx="520.5" cy="702.6"/><circle cx="520.7" cy="700.7"/><circle cx="520.9" cy="704.3"/><circle cx="521.0" cy="698.5"/><circle cx="521.1" cy="702.1"/><circle cx="521.3" cy="700.3"/><circle cx="521.6" cy="703.8"/><circle cx="521.8" cy="699.6"/><circle cx="521.8" cy="702.8"/><circle cx="522.2" cy="701.2"/><circle cx="522.3" cy="704.4"/><circle cx="522.4" cy="698.7"/><circle cx="522.6" cy="701.8"/><circle cx="523.0" cy="700.3"/><circle cx="523.0" cy="703.3"/><circle cx="523.4" cy="699.6"/><circle cx="523.5" cy="702.5"/><circle cx="523.9" cy="701.1"/><circle cx="524.0" cy="703.9"/><circle cx="524.2" cy="699.4"/><circle cx="524.5" cy="702.1"/><circle cx="524.7" cy="700.8"/><circle cx="524.9" cy="703.4"/><circle cx="525.0" cy="700.1"/></g><g fill="#d07d87" stroke="#d07d87"><circle cx="534.6" cy="61.7"/><circle cx="536.0" cy="57.2"/><circle cx="536.5" cy="66.4"/><circle cx="537.5" cy="49.6"/><circle cx="538.9" cy="58.9"/><circle cx="540.2" cy="54.2"/><circle cx="541.1" cy="63.7"/><circle cx="542.0" cy="51.7"/><circle cx="542.7" cy="61.3"/><circle cx="543.5" cy="56.5"/><circle cx="545.4" cy="66.3"/><circle cx="546.3" cy="50.2"/><circle cx="533.7" cy="137.5"/><circle cx="534.1" cy="153.4"/><circle cx="534.7" cy="124.5"/><circle cx="535.0" cy="140.5"/><circle cx="535.4" cy="132.5"/><circle cx="536.2" cy="148.7"/><circle cx="536.5" cy="128.2"/><circle cx="537.0" cy="144.7"/><circle cx="537.4" cy="136.4"/><circle cx="538.1" cy="153.3"/><circle cx="538.4" cy="125.8"/><circle cx="538.5" cy="142.8"/><circle cx="539.3" cy="134.2"/><circle cx="539.3" cy="151.5"/><circle cx="540.3" cy="129.7"/><circle cx="540.7" cy="147.3"/><circle cx="540.7" cy="138.5"/><circle cx="541.4" cy="156.4"/><circle cx="541.8" cy="120.9"/><circle cx="542.0" cy="138.9"/><circle cx="542.5" cy="129.8"/><circle cx="543.0" cy="148.1"/><circle cx="543.4" cy="125.1"/><circle cx="543.7" cy="143.5"/><circle cx="544.5" cy="134.2"/><circle cx="544.6" cy="153.0"/><circle cx="544.9" cy="122.4"/><circle cx="545.7" cy="141.3"/><circle cx="545.9" cy="131.7"/><circle cx="546.4" cy="151.1"/><circle cx="533.6" cy="208.0"/><circle cx="533.7" cy="238.5"/><circle cx="533.7" cy="200.3"/><circle cx="533.8" cy="230.9"/><circle cx="533.8" cy="215.6"/><circle cx="534.0" cy="246.3"/><circle cx="534.0" cy="190.7"/><circle cx="534.3" cy="221.4"/><circle cx="534.3" cy="206.0"/><circle cx="534.3" cy="236.8"/><circle cx="534.5" cy="198.3"/><circle cx="534.6" cy="229.1"/><circle cx="534.6" cy="213.7"/><circle cx="534.6" cy="244.6"/><circle cx="534.8" cy="194.3"/><circle cx="534.9" cy="225.3"/><circle cx="534.9" cy="209.8"/><circle cx="535.0" cy="240.8"/><circle cx="535.1" cy="202.0"/><circle cx="535.2" cy="233.1"/><circle cx="535.3" cy="217.5"/><circle cx="535.4" cy="248.7"/><circle cx="535.6" cy="189.4"/><circle cx="535.6" cy="220.4"/><circle cx="535.7" cy="204.9"/><circle cx="535.8" cy="235.9"/><circle cx="535.9" cy="197.3"/><circle cx="536.0" cy="228.1"/><circle cx="536.0" cy="212.7"/><circle cx="536.2" cy="243.4"/><circle cx="536.2" cy="193.6"/><circle cx="536.3" cy="224.2"/><circle cx="536.4" cy="209.0"/><circle cx="536.6" cy="239.3"/><circle cx="536.6" cy="201.5"/><circle cx="536.7" cy="231.8"/><circle cx="536.8" cy="216.6"/><circle cx="536.9" cy="246.8"/><circle cx="537.0" cy="192.3"/><circle cx="537.1" cy="222.3"/><circle cx="537.2" cy="207.3"/><circle cx="537.3" cy="237.2"/><circle cx="537.4" cy="199.9"/><circle cx="537.5" cy="229.7"/><circle cx="537.6" cy="214.8"/><circle cx="537.7" cy="244.4"/><circle cx="537.7" cy="196.3"/><circle cx="537.7" cy="225.9"/><circle cx="537.8" cy="211.2"/><circle cx="537.9" cy="240.5"/><circle cx="538.1" cy="203.9"/><circle cx="538.1" cy="233.1"/><circle cx="538.3" cy="218.5"/><circle cx="538.3" cy="247.5"/><circle cx="538.4" cy="190.9"/><circle cx="538.6" cy="219.9"/><circle cx="538.6" cy="205.5"/><circle cx="538.8" cy="234.2"/><circle cx="538.8" cy="198.4"/><circle cx="539.1" cy="227.0"/><circle cx="539.1" cy="212.7"/><circle cx="539.1" cy="241.2"/><circle cx="539.2" cy="195.0"/><circle cx="539.4" cy="223.4"/><circle cx="539.5" cy="209.3"/><circle cx="539.6" cy="237.4"/><circle cx="539.7" cy="202.3"/><circle cx="539.7" cy="230.4"/><circle cx="539.8" cy="216.4"/><circle cx="539.9" cy="244.2"/><circle cx="540.0" cy="193.8"/><circle cx="540.2" cy="221.6"/><circle cx="540.2" cy="207.8"/><circle cx="540.5" cy="235.3"/><circle cx="540.5" cy="200.9"/><circle cx="540.6" cy="228.4"/><circle cx="540.7" cy="214.7"/><circle cx="540.7" cy="241.9"/><circle cx="540.8" cy="197.7"/><circle cx="540.9" cy="224.9"/><circle cx="541.0" cy="211.4"/><circle cx="541.2" cy="238.3"/><circle cx="541.2" cy="204.7"/><circle cx="541.4" cy="231.5"/><circle cx="541.4" cy="218.2"/><circle cx="541.6" cy="244.8"/><circle cx="541.6" cy="194.1"/><circle cx="541.8" cy="220.7"/><circle cx="541.9" cy="207.5"/><circle cx="542.0" cy="233.8"/><circle cx="542.1" cy="200.9"/><circle cx="542.3" cy="227.2"/><circle cx="542.4" cy="214.1"/><circle cx="542.4" cy="240.1"/><circle cx="542.6" cy="198.0"/><circle cx="542.7" cy="223.8"/><circle cx="542.8" cy="211.0"/><circle cx="542.9" cy="236.7"/><circle cx="542.9" cy="204.6"/><circle cx="543.0" cy="230.2"/><circle cx="543.3" cy="217.4"/><circle cx="543.5" cy="242.7"/><circle cx="543.5" cy="196.9"/><circle cx="543.5" cy="222.1"/><circle cx="543.7" cy="209.6"/><circle cx="543.8" cy="234.6"/><circle cx="543.8" cy="203.4"/><circle cx="544.1" cy="228.3"/><circle cx="544.2" cy="215.9"/><circle cx="544.3" cy="240.5"/><circle cx="544.4" cy="200.7"/><circle cx="544.5" cy="225.1"/><circle cx="544.5" cy="212.9"/><circle cx="544.6" cy="237.2"/><circle cx="544.7" cy="207.0"/><circle cx="544.9" cy="231.0"/><circle cx="545.1" cy="219.0"/><circle cx="545.2" cy="242.8"/><circle cx="545.2" cy="195.4"/><circle cx="545.4" cy="219.1"/><circle cx="545.5" cy="207.4"/><circle cx="545.5" cy="230.8"/><circle cx="545.8" cy="201.7"/><circle cx="545.8" cy="225.0"/><circle cx="545.9" cy="213.4"/><circle cx="546.0" cy="236.4"/><circle cx="546.2" cy="199.1"/><circle cx="546.3" cy="222.0"/><circle cx="546.3" cy="210.6"/><circle cx="533.6" cy="309.9"/><circle cx="534.2" cy="289.3"/><circle cx="534.3" cy="305.5"/><circle cx="534.5" cy="297.4"/><circle cx="534.8" cy="313.3"/><circle cx="535.2" cy="287.8"/><circle cx="535.7" cy="303.2"/><circle cx="535.7" cy="295.7"/><circle cx="535.9" cy="310.6"/><circle cx="536.4" cy="292.2"/><circle cx="536.9" cy="306.5"/><circle cx="537.0" cy="299.4"/><circle cx="537.5" cy="313.0"/><circle cx="537.5" cy="286.0"/><circle cx="538.2" cy="299.5"/><circle cx="538.4" cy="293.1"/><circle cx="538.8" cy="305.8"/><circle cx="539.3" cy="290.4"/><circle cx="539.5" cy="302.5"/><circle cx="539.8" cy="296.6"/><circle cx="540.6" cy="307.8"/><circle cx="540.7" cy="289.8"/><circle cx="541.3" cy="300.8"/><circle cx="541.6" cy="295.6"/><circle cx="541.9" cy="305.9"/><circle cx="542.7" cy="293.4"/><circle cx="543.4" cy="303.0"/><circle cx="543.9" cy="298.4"/><circle cx="544.4" cy="307.1"/><circle cx="545.0" cy="291.7"/><circle cx="545.6" cy="300.0"/><circle cx="545.6" cy="296.0"/><circle cx="546.4" cy="303.7"/><circle cx="533.7" cy="377.5"/><circle cx="534.2" cy="386.9"/><circle cx="534.3" cy="375.1"/><circle cx="534.7" cy="384.7"/><circle cx="534.8" cy="379.9"/><circle cx="535.0" cy="389.5"/><circle cx="535.5" cy="370.2"/><circle cx="535.8" cy="379.9"/><circle cx="536.1" cy="375.0"/><circle cx="536.1" cy="384.9"/><circle cx="536.6" cy="372.4"/><circle cx="536.9" cy="382.4"/><circle cx="537.1" cy="377.4"/><circle cx="537.2" cy="387.5"/><circle cx="537.6" cy="371.0"/><circle cx="537.9" cy="381.2"/><circle cx="538.0" cy="376.1"/><circle cx="538.5" cy="386.4"/><circle cx="538.8" cy="373.4"/><circle cx="538.9" cy="383.8"/><circle cx="539.2" cy="378.6"/><circle cx="539.4" cy="389.1"/><circle cx="539.5" cy="370.0"/><circle cx="539.9" cy="380.6"/><circle cx="540.0" cy="375.3"/><circle cx="540.4" cy="386.0"/><circle cx="540.6" cy="372.5"/><circle cx="540.9" cy="383.3"/><circle cx="541.0" cy="377.9"/><circle cx="541.5" cy="388.8"/><circle cx="541.5" cy="371.0"/><circle cx="541.7" cy="382.0"/><circle cx="542.0" cy="376.5"/><circle cx="542.4" cy="387.6"/><circle cx="542.6" cy="373.6"/><circle cx="542.9" cy="384.8"/><circle cx="543.1" cy="379.2"/><circle cx="543.3" cy="390.5"/><circle cx="543.6" cy="368.9"/><circle cx="543.8" cy="380.3"/><circle cx="544.1" cy="374.6"/><circle cx="544.2" cy="386.0"/><circle cx="544.4" cy="371.7"/><circle cx="544.5" cy="383.2"/><circle cx="545.0" cy="377.4"/><circle cx="545.1" cy="389.0"/><circle cx="545.4" cy="370.0"/><circle cx="545.6" cy="381.8"/><circle cx="545.9" cy="375.9"/><circle cx="546.0" cy="387.7"/><circle cx="546.2" cy="373.0"/><circle cx="546.4" cy="384.7"/><circle cx="533.7" cy="459.1"/><circle cx="534.6" cy="461.0"/><circle cx="535.4" cy="460.0"/><circle cx="536.2" cy="462.4"/><circle cx="536.3" cy="458.4"/><circle cx="537.5" cy="460.9"/><circle cx="537.6" cy="459.5"/><circle cx="538.4" cy="462.4"/><circle cx="539.2" cy="458.6"/><circle cx="539.7" cy="461.8"/><circle cx="540.0" cy="460.2"/><circle cx="540.4" cy="463.7"/><circle cx="541.0" cy="456.8"/><circle cx="541.3" cy="460.4"/><circle cx="541.8" cy="458.5"/><circle cx="542.5" cy="462.4"/><circle cx="542.7" cy="457.3"/><circle cx="543.1" cy="461.4"/><circle cx="543.3" cy="459.3"/><circle cx="543.9" cy="463.8"/><circle cx="544.3" cy="456.2"/><circle cx="544.4" cy="461.0"/><circle cx="544.8" cy="458.5"/><circle cx="545.2" cy="463.6"/><circle cx="545.7" cy="457.1"/><circle cx="545.9" cy="462.4"/><circle cx="546.4" cy="459.7"/><circle cx="538.9" cy="539.4"/><circle cx="539.1" cy="540.7"/><circle cx="539.4" cy="540.0"/><circle cx="539.9" cy="541.6"/><circle cx="540.0" cy="539.5"/><circle cx="540.4" cy="541.2"/><circle cx="540.7" cy="540.3"/><circle cx="541.0" cy="542.1"/><circle cx="541.4" cy="539.2"/><circle cx="541.6" cy="541.0"/><circle cx="541.8" cy="540.1"/><circle cx="542.1" cy="542.0"/><circle cx="542.5" cy="539.5"/><circle cx="543.0" cy="541.5"/><circle cx="543.0" cy="540.5"/><circle cx="543.3" cy="542.5"/><circle cx="543.6" cy="538.8"/><circle cx="543.6" cy="540.9"/><circle cx="544.3" cy="539.8"/><circle cx="544.3" cy="542.0"/><circle cx="544.5" cy="539.3"/><circle cx="544.9" cy="541.5"/><circle cx="545.1" cy="540.4"/><circle cx="545.3" cy="542.6"/><circle cx="545.6" cy="538.9"/><circle cx="545.9" cy="541.2"/><circle cx="546.0" cy="540.1"/><circle cx="546.3" cy="542.4"/><circle cx="533.4" cy="614.2"/><circle cx="533.6" cy="635.2"/><circle cx="533.8" cy="609.2"/><circle cx="533.9" cy="629.8"/><circle cx="533.9" cy="619.5"/><circle cx="534.0" cy="639.9"/><circle cx="534.3" cy="603.2"/><circle cx="534.3" cy="623.3"/><circle cx="534.5" cy="613.4"/><circle cx="534.5" cy="633.1"/><circle cx="534.5" cy="608.6"/><circle cx="535.0" cy="628.0"/><circle cx="535.0" cy="618.4"/><circle cx="535.2" cy="637.4"/><circle cx="535.3" cy="606.7"/><circle cx="535.4" cy="625.5"/><circle cx="535.5" cy="616.3"/><circle cx="535.7" cy="634.6"/><circle cx="536.0" cy="611.9"/><circle cx="536.1" cy="629.8"/><circle cx="536.2" cy="620.9"/><circle cx="536.4" cy="638.3"/><circle cx="536.4" cy="603.9"/><circle cx="536.5" cy="621.3"/><circle cx="536.9" cy="612.7"/><circle cx="536.9" cy="629.8"/><circle cx="537.0" cy="608.6"/><circle cx="537.3" cy="625.4"/><circle cx="537.5" cy="617.1"/><circle cx="537.6" cy="633.5"/><circle cx="537.7" cy="607.0"/><circle cx="538.1" cy="623.3"/><circle cx="538.1" cy="615.3"/><circle cx="538.2" cy="631.1"/><circle cx="538.2" cy="611.4"/><circle cx="538.6" cy="627.0"/><circle cx="538.7" cy="619.3"/><circle cx="538.9" cy="634.6"/><circle cx="539.1" cy="607.1"/><circle cx="539.2" cy="622.2"/><circle cx="539.3" cy="614.8"/><circle cx="539.6" cy="629.4"/><circle cx="539.7" cy="611.4"/><circle cx="540.0" cy="625.7"/><circle cx="540.2" cy="618.6"/><circle cx="540.3" cy="632.5"/><circle cx="540.6" cy="610.2"/><circle cx="540.8" cy="623.8"/><circle cx="540.8" cy="617.0"/><circle cx="540.9" cy="630.4"/><circle cx="541.3" cy="614.0"/><circle cx="541.4" cy="626.9"/><circle cx="541.7" cy="620.4"/><circle cx="541.7" cy="633.0"/><circle cx="542.0" cy="609.2"/><circle cx="542.3" cy="621.6"/><circle cx="542.5" cy="615.6"/><circle cx="542.8" cy="627.4"/><circle cx="542.9" cy="612.9"/><circle cx="543.3" cy="624.4"/><circle cx="543.3" cy="618.8"/><circle cx="543.6" cy="629.9"/><circle cx="544.0" cy="612.1"/><circle cx="544.0" cy="622.9"/><circle cx="544.3" cy="617.6"/><circle cx="544.8" cy="627.8"/><circle cx="544.9" cy="615.2"/><circle cx="545.3" cy="625.2"/><circle cx="545.5" cy="620.3"/><circle cx="545.7" cy="629.6"/><circle cx="546.2" cy="613.0"/><circle cx="546.3" cy="622.0"/></g><g fill="#cd798a" stroke="#cd798a"><circle cx="546.7" cy="60.2"/><circle cx="548.3" cy="55.2"/><circle cx="548.8" cy="65.3"/><circle cx="550.0" cy="52.6"/><circle cx="551.0" cy="63.0"/><circle cx="552.3" cy="57.6"/><circle cx="553.2" cy="69.6"/><circle cx="553.7" cy="46.5"/><circle cx="554.5" cy="58.7"/><circle cx="555.2" cy="52.2"/><circle cx="556.7" cy="65.7"/><circle cx="557.0" cy="48.2"/><circle cx="557.4" cy="62.4"/><circle cx="558.6" cy="55.1"/><circle cx="559.4" cy="70.1"/><circle cx="546.9" cy="126.7"/><circle cx="547.1" cy="146.3"/><circle cx="547.4" cy="136.4"/><circle cx="547.7" cy="156.6"/><circle cx="548.3" cy="119.9"/><circle cx="548.7" cy="140.2"/><circle cx="548.7" cy="129.9"/><circle cx="549.1" cy="150.7"/><circle cx="549.8" cy="124.4"/><circle cx="549.9" cy="145.6"/><circle cx="550.4" cy="134.9"/><circle cx="550.5" cy="156.4"/><circle cx="551.1" cy="121.3"/><circle cx="551.3" cy="143.1"/><circle cx="551.6" cy="132.1"/><circle cx="551.9" cy="154.2"/><circle cx="552.4" cy="126.3"/><circle cx="552.6" cy="148.8"/><circle cx="553.0" cy="137.5"/><circle cx="553.5" cy="160.7"/><circle cx="553.9" cy="116.4"/><circle cx="554.1" cy="139.7"/><circle cx="554.4" cy="127.9"/><circle cx="554.7" cy="151.6"/><circle cx="555.1" cy="121.7"/><circle cx="555.3" cy="145.8"/><circle cx="555.5" cy="133.6"/><circle cx="556.0" cy="158.2"/><circle cx="556.4" cy="118.0"/><circle cx="556.5" cy="142.9"/><circle cx="556.9" cy="130.3"/><circle cx="557.3" cy="155.7"/><circle cx="557.4" cy="123.9"/><circle cx="557.9" cy="149.5"/><circle cx="558.0" cy="136.6"/><circle cx="558.4" cy="162.7"/><circle cx="558.5" cy="115.2"/><circle cx="558.9" cy="141.5"/><circle cx="559.2" cy="128.2"/><circle cx="559.4" cy="154.9"/><circle cx="546.6" cy="233.2"/><circle cx="546.8" cy="205.2"/><circle cx="546.8" cy="227.5"/><circle cx="547.0" cy="216.4"/><circle cx="547.1" cy="238.6"/><circle cx="547.1" cy="198.5"/><circle cx="547.3" cy="220.5"/><circle cx="547.4" cy="209.6"/><circle cx="547.7" cy="231.3"/><circle cx="547.7" cy="204.3"/><circle cx="547.8" cy="225.9"/><circle cx="547.9" cy="215.1"/><circle cx="548.1" cy="236.5"/><circle cx="548.3" cy="201.9"/><circle cx="548.4" cy="223.1"/><circle cx="548.6" cy="212.6"/><circle cx="548.6" cy="233.5"/><circle cx="548.7" cy="207.5"/><circle cx="548.9" cy="228.1"/><circle cx="549.2" cy="217.9"/><circle cx="549.2" cy="238.2"/><circle cx="549.3" cy="199.4"/><circle cx="549.5" cy="219.8"/><circle cx="549.7" cy="209.8"/><circle cx="549.7" cy="229.8"/><circle cx="549.9" cy="204.9"/><circle cx="550.0" cy="224.7"/><circle cx="550.1" cy="214.9"/><circle cx="550.3" cy="234.4"/><circle cx="550.4" cy="202.8"/><circle cx="550.5" cy="222.1"/><circle cx="550.7" cy="212.6"/><circle cx="550.9" cy="231.5"/><circle cx="551.1" cy="208.0"/><circle cx="551.1" cy="226.7"/><circle cx="551.3" cy="217.4"/><circle cx="551.5" cy="235.7"/><circle cx="551.6" cy="202.6"/><circle cx="551.9" cy="220.8"/><circle cx="551.9" cy="211.9"/><circle cx="552.0" cy="229.8"/><circle cx="552.3" cy="207.6"/><circle cx="552.5" cy="225.2"/><circle cx="552.5" cy="216.4"/><circle cx="552.5" cy="233.8"/><circle cx="553.0" cy="205.8"/><circle cx="553.0" cy="222.9"/><circle cx="553.2" cy="214.4"/><circle cx="553.5" cy="231.1"/><circle cx="553.7" cy="210.4"/><circle cx="553.9" cy="226.8"/><circle cx="553.9" cy="218.6"/><circle cx="554.3" cy="234.5"/><circle cx="554.3" cy="203.5"/><circle cx="554.5" cy="219.4"/><circle cx="554.6" cy="211.6"/><circle cx="554.8" cy="227.1"/><circle cx="555.0" cy="208.0"/><circle cx="555.0" cy="223.2"/><circle cx="555.4" cy="215.7"/><circle cx="555.7" cy="230.3"/><circle cx="555.9" cy="206.7"/><circle cx="556.0" cy="221.1"/><circle cx="556.0" cy="214.0"/><circle cx="556.1" cy="228.2"/><circle cx="556.7" cy="210.8"/><circle cx="556.7" cy="224.5"/><circle cx="557.1" cy="217.7"/><circle cx="557.2" cy="230.9"/><circle cx="557.3" cy="207.0"/><circle cx="557.6" cy="220.1"/><circle cx="557.8" cy="213.8"/><circle cx="558.1" cy="226.2"/><circle cx="558.2" cy="210.9"/><circle cx="558.5" cy="223.1"/><circle cx="558.7" cy="217.1"/><circle cx="559.1" cy="228.7"/><circle cx="559.1" cy="210.1"/><circle cx="547.0" cy="294.6"/><circle cx="547.9" cy="301.5"/><circle cx="548.4" cy="298.3"/><circle cx="549.4" cy="304.0"/><circle cx="550.3" cy="295.8"/><circle cx="551.6" cy="300.2"/><circle cx="554.4" cy="299.4"/><circle cx="557.6" cy="301.0"/><circle cx="558.7" cy="298.1"/><circle cx="546.9" cy="378.8"/><circle cx="547.1" cy="390.4"/><circle cx="547.1" cy="369.5"/><circle cx="547.3" cy="381.0"/><circle cx="547.6" cy="375.3"/><circle cx="548.0" cy="386.6"/><circle cx="548.1" cy="372.5"/><circle cx="548.5" cy="383.8"/><circle cx="548.7" cy="378.2"/><circle cx="549.0" cy="389.2"/><circle cx="549.1" cy="371.3"/><circle cx="549.4" cy="382.3"/><circle cx="549.7" cy="376.9"/><circle cx="549.8" cy="387.7"/><circle cx="550.3" cy="374.2"/><circle cx="550.4" cy="384.9"/><circle cx="550.6" cy="379.6"/><circle cx="550.9" cy="390.2"/><circle cx="551.0" cy="369.5"/><circle cx="551.3" cy="380.1"/><circle cx="551.7" cy="374.9"/><circle cx="551.7" cy="385.3"/><circle cx="552.2" cy="372.4"/><circle cx="552.3" cy="382.6"/><circle cx="552.7" cy="377.5"/><circle cx="552.7" cy="387.7"/><circle cx="553.2" cy="371.3"/><circle cx="553.4" cy="381.3"/><circle cx="553.8" cy="376.4"/><circle cx="553.9" cy="386.2"/><circle cx="554.2" cy="374.0"/><circle cx="554.4" cy="383.7"/><circle cx="554.9" cy="378.9"/><circle cx="555.1" cy="388.3"/><circle cx="555.3" cy="371.3"/><circle cx="555.9" cy="380.6"/><circle cx="555.9" cy="376.1"/><circle cx="556.3" cy="385.1"/><circle cx="556.4" cy="373.9"/><circle cx="556.7" cy="382.8"/><circle cx="557.2" cy="378.4"/><circle cx="557.6" cy="387.0"/><circle cx="557.7" cy="373.2"/><circle cx="558.1" cy="381.6"/><circle cx="558.7" cy="377.5"/><circle cx="558.8" cy="385.6"/><circle cx="559.2" cy="375.6"/><circle cx="559.4" cy="383.5"/><circle cx="546.5" cy="465.3"/><circle cx="546.6" cy="455.1"/><circle cx="546.9" cy="460.8"/><circle cx="547.4" cy="457.8"/><circle cx="547.6" cy="463.8"/><circle cx="547.9" cy="456.1"/><circle cx="548.2" cy="462.4"/><circle cx="548.3" cy="459.2"/><circle cx="548.8" cy="465.7"/><circle cx="549.0" cy="455.0"/><circle cx="549.0" cy="461.7"/><circle cx="549.3" cy="458.3"/><circle cx="549.6" cy="465.1"/><circle cx="550.0" cy="456.5"/><circle cx="550.2" cy="463.5"/><circle cx="550.3" cy="460.0"/><circle cx="550.6" cy="467.2"/><circle cx="550.8" cy="453.3"/><circle cx="550.9" cy="460.7"/><circle cx="551.4" cy="456.9"/><circle cx="551.6" cy="464.5"/><circle cx="551.6" cy="454.9"/><circle cx="551.9" cy="462.6"/><circle cx="552.1" cy="458.7"/><circle cx="552.4" cy="466.7"/><circle cx="552.6" cy="453.7"/><circle cx="552.8" cy="461.7"/><circle cx="552.9" cy="457.7"/><circle cx="553.2" cy="465.6"/><circle cx="553.5" cy="455.8"/><circle cx="553.5" cy="463.6"/><circle cx="553.9" cy="459.7"/><circle cx="554.2" cy="467.3"/><circle cx="554.3" cy="453.5"/><circle cx="554.7" cy="461.1"/><circle cx="554.8" cy="457.4"/><circle cx="555.0" cy="464.9"/><circle cx="555.2" cy="455.6"/><circle cx="555.3" cy="463.0"/><circle cx="555.7" cy="459.3"/><circle cx="556.0" cy="466.6"/><circle cx="556.0" cy="454.8"/><circle cx="556.2" cy="462.0"/><circle cx="556.4" cy="458.4"/><circle cx="556.7" cy="465.5"/><circle cx="556.9" cy="456.7"/><circle cx="557.3" cy="463.7"/><circle cx="557.5" cy="460.2"/><circle cx="557.9" cy="467.1"/><circle cx="557.9" cy="453.5"/><circle cx="558.2" cy="460.4"/><circle cx="558.6" cy="457.0"/><circle cx="558.7" cy="463.7"/><circle cx="558.8" cy="455.4"/><circle cx="559.1" cy="462.0"/><circle cx="546.6" cy="539.5"/><circle cx="546.7" cy="541.8"/><circle cx="547.0" cy="540.6"/><circle cx="547.3" cy="543.1"/><circle cx="547.4" cy="538.3"/><circle cx="547.7" cy="540.7"/><circle cx="548.0" cy="539.5"/><circle cx="548.1" cy="542.0"/><circle cx="548.3" cy="538.8"/><circle cx="548.7" cy="541.4"/><circle cx="548.9" cy="540.1"/><circle cx="549.2" cy="542.7"/><circle cx="549.3" cy="538.4"/><circle cx="549.3" cy="541.1"/><circle cx="549.7" cy="539.7"/><circle cx="549.8" cy="542.4"/><circle cx="549.8" cy="539.1"/><circle cx="550.1" cy="541.8"/><circle cx="550.3" cy="540.4"/><circle cx="550.7" cy="543.2"/><circle cx="550.9" cy="538.1"/><circle cx="551.0" cy="540.9"/><circle cx="551.0" cy="539.5"/><circle cx="551.4" cy="542.4"/><circle cx="551.5" cy="538.7"/><circle cx="551.7" cy="541.7"/><circle cx="552.0" cy="540.2"/><circle cx="552.2" cy="543.2"/><circle cx="552.4" cy="538.2"/><circle cx="552.5" cy="541.3"/><circle cx="552.5" cy="539.8"/><circle cx="552.8" cy="542.9"/><circle cx="553.1" cy="538.9"/><circle cx="553.1" cy="542.2"/><circle cx="553.3" cy="540.6"/><circle cx="553.5" cy="543.8"/><circle cx="553.6" cy="537.5"/><circle cx="553.8" cy="540.9"/><circle cx="554.0" cy="539.2"/><circle cx="554.1" cy="542.6"/><circle cx="554.2" cy="538.3"/><circle cx="554.4" cy="541.7"/><circle cx="554.5" cy="540.0"/><circle cx="554.8" cy="543.5"/><circle cx="554.9" cy="537.8"/><circle cx="555.1" cy="541.3"/><circle cx="555.3" cy="539.5"/><circle cx="555.3" cy="543.1"/><circle cx="555.5" cy="538.6"/><circle cx="555.7" cy="542.2"/><circle cx="555.7" cy="540.4"/><circle cx="555.8" cy="544.1"/><circle cx="556.1" cy="537.4"/><circle cx="556.2" cy="541.1"/><circle cx="556.4" cy="539.3"/><circle cx="556.6" cy="542.9"/><circle cx="556.7" cy="538.4"/><circle cx="556.9" cy="542.0"/><circle cx="557.0" cy="540.2"/><circle cx="557.1" cy="543.7"/><circle cx="557.3" cy="538.0"/><circle cx="557.5" cy="541.5"/><circle cx="557.5" cy="539.8"/><circle cx="557.8" cy="543.2"/><circle cx="557.9" cy="539.0"/><circle cx="558.2" cy="542.3"/><circle cx="558.3" cy="540.7"/><circle cx="558.4" cy="544.0"/><circle cx="558.5" cy="537.4"/><circle cx="558.6" cy="540.7"/><circle cx="558.9" cy="539.1"/><circle cx="559.2" cy="542.3"/><circle cx="559.2" cy="538.4"/><circle cx="546.6" cy="617.7"/><circle cx="546.7" cy="626.2"/><circle cx="547.3" cy="616.2"/><circle cx="547.3" cy="623.8"/><circle cx="547.9" cy="620.1"/><circle cx="548.4" cy="626.5"/><circle cx="548.9" cy="616.7"/><circle cx="549.3" cy="622.2"/><circle cx="549.7" cy="619.8"/><circle cx="550.3" cy="623.9"/><circle cx="551.2" cy="619.8"/></g><g fill="#cb768d" stroke="#cb768d"><circle cx="560.2" cy="45.4"/><circle cx="560.5" cy="60.7"/><circle cx="561.0" cy="53.0"/><circle cx="561.7" cy="68.7"/><circle cx="562.3" cy="48.9"/><circle cx="562.8" cy="64.8"/><circle cx="564.1" cy="56.8"/><circle cx="564.2" cy="73.2"/><circle cx="565.2" cy="43.2"/><circle cx="565.9" cy="59.9"/><circle cx="566.2" cy="51.4"/><circle cx="566.7" cy="68.5"/><circle cx="567.6" cy="46.9"/><circle cx="567.9" cy="64.3"/><circle cx="568.8" cy="55.6"/><circle cx="569.4" cy="73.5"/><circle cx="569.7" cy="44.2"/><circle cx="570.1" cy="62.3"/><circle cx="571.0" cy="53.2"/><circle cx="571.7" cy="71.7"/><circle cx="572.2" cy="48.4"/><circle cx="559.8" cy="121.3"/><circle cx="559.9" cy="148.3"/><circle cx="560.3" cy="134.8"/><circle cx="560.6" cy="162.1"/><circle cx="560.8" cy="117.6"/><circle cx="561.5" cy="145.1"/><circle cx="561.6" cy="131.2"/><circle cx="561.7" cy="159.0"/><circle cx="561.8" cy="124.2"/><circle cx="562.4" cy="152.2"/><circle cx="562.6" cy="138.1"/><circle cx="562.7" cy="166.4"/><circle cx="563.2" cy="111.0"/><circle cx="563.3" cy="139.5"/><circle cx="563.7" cy="125.2"/><circle cx="563.9" cy="153.9"/><circle cx="564.0" cy="117.9"/><circle cx="564.3" cy="146.7"/><circle cx="564.6" cy="132.2"/><circle cx="564.8" cy="161.4"/><circle cx="565.1" cy="113.9"/><circle cx="565.6" cy="143.2"/><circle cx="565.8" cy="128.4"/><circle cx="566.0" cy="158.0"/><circle cx="566.1" cy="120.9"/><circle cx="566.5" cy="150.7"/><circle cx="566.7" cy="135.8"/><circle cx="567.0" cy="165.8"/><circle cx="567.1" cy="111.3"/><circle cx="567.5" cy="141.4"/><circle cx="567.7" cy="126.3"/><circle cx="567.9" cy="156.7"/><circle cx="568.2" cy="118.5"/><circle cx="568.5" cy="149.1"/><circle cx="568.7" cy="133.8"/><circle cx="569.0" cy="164.7"/><circle cx="569.4" cy="114.3"/><circle cx="569.7" cy="145.4"/><circle cx="569.8" cy="129.8"/><circle cx="569.8" cy="161.0"/><circle cx="570.2" cy="121.9"/><circle cx="570.5" cy="153.4"/><circle cx="570.7" cy="137.6"/><circle cx="571.0" cy="169.3"/><circle cx="571.1" cy="108.8"/><circle cx="571.4" cy="140.6"/><circle cx="571.5" cy="124.6"/><circle cx="571.8" cy="156.6"/><circle cx="571.9" cy="116.4"/><circle cx="572.1" cy="148.7"/><circle cx="559.5" cy="221.4"/><circle cx="559.6" cy="215.9"/><circle cx="560.1" cy="226.6"/><circle cx="560.2" cy="213.4"/><circle cx="560.6" cy="223.8"/><circle cx="560.9" cy="218.6"/><circle cx="561.0" cy="228.6"/><circle cx="561.2" cy="209.7"/><circle cx="561.6" cy="219.6"/><circle cx="562.0" cy="214.9"/><circle cx="562.2" cy="224.1"/><circle cx="562.6" cy="212.8"/><circle cx="562.7" cy="221.7"/><circle cx="562.9" cy="217.4"/><circle cx="563.3" cy="225.8"/><circle cx="563.8" cy="212.4"/><circle cx="564.4" cy="220.4"/><circle cx="564.5" cy="216.6"/><circle cx="564.7" cy="224.1"/><circle cx="565.2" cy="215.0"/><circle cx="565.8" cy="222.0"/><circle cx="566.1" cy="218.6"/><circle cx="566.8" cy="224.6"/><circle cx="567.1" cy="214.1"/><circle cx="567.7" cy="219.7"/><circle cx="568.3" cy="217.2"/><circle cx="568.8" cy="221.8"/><circle cx="568.9" cy="216.4"/><circle cx="570.3" cy="220.2"/><circle cx="560.6" cy="300.9"/><circle cx="561.6" cy="299.3"/><circle cx="563.5" cy="303.5"/><circle cx="564.2" cy="295.3"/><circle cx="565.0" cy="299.6"/><circle cx="566.2" cy="297.4"/><circle cx="567.3" cy="302.0"/><circle cx="568.5" cy="296.0"/><circle cx="569.1" cy="300.9"/><circle cx="570.4" cy="298.4"/><circle cx="571.2" cy="303.6"/><circle cx="571.7" cy="295.0"/><circle cx="559.7" cy="379.6"/><circle cx="560.0" cy="387.2"/><circle cx="560.5" cy="372.9"/><circle cx="561.1" cy="380.3"/><circle cx="561.5" cy="376.7"/><circle cx="561.5" cy="383.8"/><circle cx="562.0" cy="375.1"/><circle cx="562.4" cy="381.9"/><circle cx="562.7" cy="378.5"/><circle cx="563.3" cy="385.4"/><circle cx="563.4" cy="374.2"/><circle cx="564.0" cy="381.1"/><circle cx="564.4" cy="377.6"/><circle cx="564.8" cy="384.7"/><circle cx="565.3" cy="375.8"/><circle cx="565.4" cy="382.9"/><circle cx="565.9" cy="379.4"/><circle cx="566.3" cy="386.6"/><circle cx="566.4" cy="373.5"/><circle cx="566.9" cy="380.7"/><circle cx="567.4" cy="377.1"/><circle cx="567.6" cy="384.4"/><circle cx="568.0" cy="375.2"/><circle cx="568.3" cy="382.6"/><circle cx="568.5" cy="378.9"/><circle cx="569.2" cy="386.3"/><circle cx="569.6" cy="374.2"/><circle cx="569.9" cy="381.7"/><circle cx="569.9" cy="377.9"/><circle cx="570.5" cy="385.5"/><circle cx="570.9" cy="376.0"/><circle cx="571.0" cy="383.6"/><circle cx="571.8" cy="379.8"/><circle cx="571.8" cy="387.5"/><circle cx="572.3" cy="372.2"/><circle cx="559.5" cy="458.7"/><circle cx="559.7" cy="465.2"/><circle cx="560.0" cy="454.7"/><circle cx="560.1" cy="461.2"/><circle cx="560.7" cy="458.0"/><circle cx="560.8" cy="464.3"/><circle cx="560.9" cy="456.5"/><circle cx="561.2" cy="462.7"/><circle cx="561.5" cy="459.6"/><circle cx="561.8" cy="465.7"/><circle cx="561.9" cy="454.7"/><circle cx="562.3" cy="460.7"/><circle cx="562.7" cy="457.8"/><circle cx="563.1" cy="463.6"/><circle cx="563.2" cy="456.4"/><circle cx="563.6" cy="462.1"/><circle cx="563.9" cy="459.3"/><circle cx="564.1" cy="464.8"/><circle cx="564.4" cy="456.0"/><circle cx="564.6" cy="461.3"/><circle cx="565.2" cy="458.7"/><circle cx="565.3" cy="463.9"/><circle cx="565.8" cy="457.6"/><circle cx="566.1" cy="462.5"/><circle cx="566.5" cy="460.0"/><circle cx="566.8" cy="464.7"/><circle cx="567.0" cy="455.9"/><circle cx="567.4" cy="460.5"/><circle cx="567.8" cy="458.3"/><circle cx="568.2" cy="462.6"/><circle cx="568.8" cy="457.4"/><circle cx="568.9" cy="461.5"/><circle cx="569.3" cy="459.5"/><circle cx="569.9" cy="463.2"/><circle cx="570.3" cy="457.2"/><circle cx="571.1" cy="460.9"/><circle cx="571.5" cy="459.2"/><circle cx="571.6" cy="462.5"/><circle cx="572.3" cy="458.5"/><circle cx="559.5" cy="541.5"/><circle cx="559.6" cy="540.0"/><circle cx="559.7" cy="543.0"/><circle cx="559.9" cy="538.1"/><circle cx="560.2" cy="541.1"/><circle cx="560.3" cy="539.6"/><circle cx="560.6" cy="542.6"/><circle cx="560.7" cy="538.9"/><circle cx="561.0" cy="541.8"/><circle cx="561.1" cy="540.4"/><circle cx="561.3" cy="543.2"/><circle cx="561.5" cy="538.1"/><circle cx="561.7" cy="540.9"/><circle cx="561.8" cy="539.5"/><circle cx="562.0" cy="542.2"/><circle cx="562.3" cy="538.9"/><circle cx="562.5" cy="541.5"/><circle cx="562.6" cy="540.2"/><circle cx="562.9" cy="542.8"/><circle cx="563.1" cy="538.7"/><circle cx="563.4" cy="541.2"/><circle cx="563.7" cy="540.0"/><circle cx="563.7" cy="542.4"/><circle cx="564.1" cy="539.4"/><circle cx="564.3" cy="541.7"/><circle cx="564.3" cy="540.6"/><circle cx="564.6" cy="542.8"/><circle cx="565.0" cy="538.6"/><circle cx="565.1" cy="540.8"/><circle cx="565.5" cy="539.7"/><circle cx="565.7" cy="541.8"/><circle cx="566.1" cy="539.3"/><circle cx="566.3" cy="541.3"/><circle cx="566.5" cy="540.3"/><circle cx="566.9" cy="542.2"/><circle cx="567.0" cy="539.1"/><circle cx="567.3" cy="541.0"/><circle cx="567.7" cy="540.1"/><circle cx="568.1" cy="541.9"/><circle cx="568.3" cy="539.7"/><circle cx="568.7" cy="541.4"/><circle cx="569.1" cy="540.6"/><circle cx="569.2" cy="542.1"/><circle cx="569.7" cy="539.4"/><circle cx="570.1" cy="540.8"/><circle cx="570.5" cy="540.2"/><circle cx="570.8" cy="541.5"/><circle cx="571.3" cy="539.9"/><circle cx="571.9" cy="541.1"/><circle cx="572.2" cy="540.5"/></g><g fill="#c8728f" stroke="#c8728f"><circle cx="572.8" cy="67.2"/><circle cx="573.4" cy="57.7"/><circle cx="573.6" cy="76.9"/><circle cx="574.5" cy="39.2"/><circle cx="574.9" cy="58.6"/><circle cx="575.1" cy="48.8"/><circle cx="576.1" cy="68.6"/><circle cx="576.6" cy="43.6"/><circle cx="577.2" cy="63.7"/><circle cx="577.5" cy="53.6"/><circle cx="578.0" cy="74.0"/><circle cx="578.7" cy="40.6"/><circle cx="579.1" cy="61.2"/><circle cx="579.7" cy="51.0"/><circle cx="580.0" cy="71.4"/><circle cx="580.6" cy="45.9"/><circle cx="580.8" cy="66.3"/><circle cx="581.3" cy="56.1"/><circle cx="581.7" cy="76.3"/><circle cx="582.5" cy="39.8"/><circle cx="582.9" cy="59.9"/><circle cx="583.3" cy="49.9"/><circle cx="584.2" cy="69.9"/><circle cx="584.6" cy="45.0"/><circle cx="584.8" cy="64.9"/><circle cx="572.6" cy="132.5"/><circle cx="572.7" cy="165.0"/><circle cx="573.0" cy="112.1"/><circle cx="573.4" cy="144.7"/><circle cx="573.5" cy="128.3"/><circle cx="573.6" cy="161.2"/><circle cx="574.1" cy="120.0"/><circle cx="574.3" cy="153.1"/><circle cx="574.4" cy="136.5"/><circle cx="574.6" cy="169.6"/><circle cx="575.0" cy="109.7"/><circle cx="575.1" cy="142.7"/><circle cx="575.1" cy="126.2"/><circle cx="575.4" cy="159.1"/><circle cx="575.8" cy="118.1"/><circle cx="575.9" cy="150.8"/><circle cx="576.2" cy="134.5"/><circle cx="576.3" cy="167.1"/><circle cx="576.5" cy="114.2"/><circle cx="577.0" cy="146.7"/><circle cx="577.1" cy="130.5"/><circle cx="577.6" cy="162.8"/><circle cx="577.6" cy="122.4"/><circle cx="577.7" cy="154.7"/><circle cx="578.1" cy="138.6"/><circle cx="578.4" cy="170.6"/><circle cx="578.7" cy="106.8"/><circle cx="578.8" cy="138.8"/><circle cx="578.9" cy="122.8"/><circle cx="579.3" cy="154.7"/><circle cx="579.6" cy="115.0"/><circle cx="579.8" cy="146.7"/><circle cx="580.3" cy="130.9"/><circle cx="580.3" cy="162.4"/><circle cx="580.6" cy="111.3"/><circle cx="580.7" cy="142.7"/><circle cx="581.0" cy="127.0"/><circle cx="581.2" cy="158.3"/><circle cx="581.5" cy="119.3"/><circle cx="581.5" cy="150.4"/><circle cx="582.0" cy="134.9"/><circle cx="582.2" cy="165.8"/><circle cx="582.7" cy="109.9"/><circle cx="582.8" cy="140.7"/><circle cx="582.8" cy="125.3"/><circle cx="583.1" cy="156.0"/><circle cx="583.3" cy="117.8"/><circle cx="583.7" cy="148.3"/><circle cx="583.7" cy="133.1"/><circle cx="584.1" cy="163.4"/><circle cx="584.3" cy="114.2"/><circle cx="584.9" cy="144.4"/><circle cx="585.0" cy="129.4"/><circle cx="585.2" cy="159.3"/><circle cx="585.4" cy="122.1"/><circle cx="576.0" cy="219.1"/><circle cx="572.7" cy="300.4"/><circle cx="574.2" cy="297.6"/><circle cx="574.9" cy="303.2"/><circle cx="575.5" cy="296.1"/><circle cx="575.9" cy="301.9"/><circle cx="577.2" cy="299.0"/><circle cx="577.8" cy="304.9"/><circle cx="578.4" cy="294.0"/><circle cx="579.7" cy="300.1"/><circle cx="580.5" cy="297.0"/><circle cx="580.8" cy="303.2"/><circle cx="581.5" cy="295.4"/><circle cx="582.1" cy="301.7"/><circle cx="583.1" cy="298.5"/><circle cx="584.0" cy="305.1"/><circle cx="584.9" cy="294.3"/><circle cx="585.1" cy="301.0"/><circle cx="572.6" cy="380.0"/><circle cx="572.8" cy="376.1"/><circle cx="573.3" cy="383.8"/><circle cx="573.7" cy="374.2"/><circle cx="574.0" cy="381.9"/><circle cx="574.5" cy="378.1"/><circle cx="574.7" cy="385.7"/><circle cx="574.9" cy="373.4"/><circle cx="575.4" cy="380.9"/><circle cx="575.7" cy="377.2"/><circle cx="576.0" cy="384.6"/><circle cx="576.6" cy="375.4"/><circle cx="576.9" cy="382.7"/><circle cx="577.0" cy="379.1"/><circle cx="577.4" cy="386.4"/><circle cx="577.8" cy="373.2"/><circle cx="578.1" cy="380.4"/><circle cx="578.9" cy="376.8"/><circle cx="579.0" cy="384.0"/><circle cx="579.4" cy="375.1"/><circle cx="579.9" cy="382.2"/><circle cx="580.4" cy="378.7"/><circle cx="580.5" cy="385.7"/><circle cx="580.8" cy="374.3"/><circle cx="581.2" cy="381.3"/><circle cx="581.9" cy="377.8"/><circle cx="582.1" cy="384.7"/><circle cx="582.3" cy="376.1"/><circle cx="582.7" cy="382.9"/><circle cx="583.2" cy="379.6"/><circle cx="583.8" cy="386.0"/><circle cx="584.2" cy="373.8"/><circle cx="584.6" cy="380.2"/><circle cx="585.0" cy="377.1"/><circle cx="585.4" cy="383.1"/><circle cx="572.8" cy="461.5"/><circle cx="573.5" cy="460.1"/><circle cx="573.8" cy="462.8"/><circle cx="574.3" cy="457.9"/><circle cx="575.1" cy="460.6"/><circle cx="576.1" cy="459.4"/><circle cx="577.1" cy="461.6"/><circle cx="577.6" cy="458.9"/><circle cx="578.5" cy="461.0"/><circle cx="578.9" cy="460.0"/><circle cx="579.9" cy="461.8"/><circle cx="581.3" cy="459.2"/><circle cx="581.8" cy="460.6"/><circle cx="583.2" cy="460.0"/><circle cx="572.9" cy="541.6"/><circle cx="573.1" cy="539.9"/><circle cx="573.6" cy="540.9"/><circle cx="575.7" cy="540.6"/></g><g fill="#c56e92" stroke="#c56e92"><circle cx="585.7" cy="54.9"/><circle cx="586.5" cy="74.6"/><circle cx="586.5" cy="42.6"/><circle cx="587.5" cy="62.3"/><circle cx="587.5" cy="52.5"/><circle cx="587.9" cy="72.1"/><circle cx="589.1" cy="47.7"/><circle cx="589.5" cy="67.1"/><circle cx="590.0" cy="57.4"/><circle cx="590.1" cy="76.7"/><circle cx="590.9" cy="40.1"/><circle cx="591.4" cy="59.2"/><circle cx="591.8" cy="49.7"/><circle cx="592.4" cy="68.7"/><circle cx="593.0" cy="45.2"/><circle cx="594.0" cy="63.8"/><circle cx="594.4" cy="54.6"/><circle cx="594.6" cy="73.0"/><circle cx="595.5" cy="43.2"/><circle cx="595.8" cy="61.5"/><circle cx="596.5" cy="52.4"/><circle cx="597.3" cy="70.4"/><circle cx="597.7" cy="48.0"/><circle cx="597.9" cy="65.8"/><circle cx="585.6" cy="151.7"/><circle cx="586.1" cy="136.9"/><circle cx="586.3" cy="166.0"/><circle cx="586.4" cy="110.6"/><circle cx="586.8" cy="139.7"/><circle cx="586.9" cy="125.3"/><circle cx="587.2" cy="153.9"/><circle cx="587.7" cy="118.5"/><circle cx="588.1" cy="146.6"/><circle cx="588.2" cy="132.7"/><circle cx="588.3" cy="160.4"/><circle cx="588.6" cy="115.5"/><circle cx="588.8" cy="143.0"/><circle cx="589.4" cy="129.5"/><circle cx="589.6" cy="156.4"/><circle cx="589.9" cy="122.8"/><circle cx="589.9" cy="149.6"/><circle cx="590.4" cy="136.3"/><circle cx="590.4" cy="162.7"/><circle cx="590.8" cy="115.1"/><circle cx="591.2" cy="141.2"/><circle cx="591.5" cy="128.5"/><circle cx="591.6" cy="153.7"/><circle cx="592.2" cy="122.7"/><circle cx="592.3" cy="147.2"/><circle cx="592.5" cy="135.0"/><circle cx="593.0" cy="158.7"/><circle cx="593.4" cy="120.7"/><circle cx="593.6" cy="143.8"/><circle cx="593.8" cy="132.4"/><circle cx="594.3" cy="154.6"/><circle cx="594.5" cy="127.2"/><circle cx="595.1" cy="148.7"/><circle cx="595.4" cy="138.1"/><circle cx="595.7" cy="158.5"/><circle cx="596.4" cy="119.3"/><circle cx="596.5" cy="139.0"/><circle cx="596.9" cy="129.6"/><circle cx="597.6" cy="147.7"/><circle cx="597.9" cy="126.7"/><circle cx="598.3" cy="142.8"/><circle cx="592.0" cy="219.1"/><circle cx="586.0" cy="297.3"/><circle cx="586.3" cy="305.5"/><circle cx="587.0" cy="294.5"/><circle cx="587.4" cy="304.2"/><circle cx="587.6" cy="299.2"/><circle cx="588.1" cy="309.9"/><circle cx="588.9" cy="288.8"/><circle cx="589.2" cy="299.7"/><circle cx="589.5" cy="294.2"/><circle cx="589.8" cy="305.3"/><circle cx="590.6" cy="291.2"/><circle cx="590.9" cy="302.5"/><circle cx="591.3" cy="296.8"/><circle cx="591.8" cy="308.4"/><circle cx="591.9" cy="289.5"/><circle cx="592.4" cy="301.2"/><circle cx="593.0" cy="295.2"/><circle cx="593.1" cy="307.2"/><circle cx="593.6" cy="292.2"/><circle cx="594.1" cy="304.3"/><circle cx="594.3" cy="298.2"/><circle cx="594.9" cy="310.5"/><circle cx="595.2" cy="288.1"/><circle cx="595.5" cy="300.5"/><circle cx="596.1" cy="294.3"/><circle cx="596.3" cy="306.7"/><circle cx="596.9" cy="291.2"/><circle cx="597.0" cy="303.6"/><circle cx="597.4" cy="297.4"/><circle cx="598.1" cy="309.8"/><circle cx="598.2" cy="289.6"/><circle cx="585.6" cy="375.7"/><circle cx="586.3" cy="381.5"/><circle cx="587.1" cy="378.8"/><circle cx="587.5" cy="384.1"/><circle cx="587.7" cy="375.5"/><circle cx="588.2" cy="380.7"/><circle cx="589.1" cy="378.3"/><circle cx="589.2" cy="383.1"/><circle cx="589.8" cy="377.2"/><circle cx="590.5" cy="381.7"/><circle cx="591.1" cy="379.5"/><circle cx="591.8" cy="383.6"/><circle cx="592.5" cy="376.5"/><circle cx="593.5" cy="380.3"/><circle cx="593.6" cy="378.5"/><circle cx="595.1" cy="381.9"/><circle cx="595.9" cy="377.9"/><circle cx="596.5" cy="381.0"/><circle cx="597.5" cy="379.5"/><circle cx="598.1" cy="382.2"/><circle cx="585.5" cy="461.0"/><circle cx="587.9" cy="460.0"/></g><g fill="#c26a95" stroke="#c26a95"><circle cx="599.1" cy="57.0"/><circle cx="599.2" cy="74.5"/><circle cx="600.1" cy="42.9"/><circle cx="600.4" cy="60.2"/><circle cx="601.3" cy="51.7"/><circle cx="601.7" cy="68.6"/><circle cx="602.3" cy="47.7"/><circle cx="603.2" cy="64.2"/><circle cx="603.4" cy="56.1"/><circle cx="604.3" cy="72.0"/><circle cx="605.3" cy="46.5"/><circle cx="605.8" cy="61.9"/><circle cx="606.4" cy="54.3"/><circle cx="607.3" cy="69.1"/><circle cx="607.9" cy="50.9"/><circle cx="608.4" cy="65.2"/><circle cx="609.6" cy="58.1"/><circle cx="610.1" cy="71.7"/><circle cx="610.6" cy="45.0"/><circle cx="598.6" cy="135.2"/><circle cx="599.0" cy="149.7"/><circle cx="599.6" cy="125.8"/><circle cx="600.4" cy="141.0"/><circle cx="601.0" cy="132.7"/><circle cx="601.4" cy="149.8"/><circle cx="601.9" cy="127.9"/><circle cx="602.0" cy="145.8"/><circle cx="602.5" cy="136.7"/><circle cx="603.1" cy="155.8"/><circle cx="603.2" cy="121.1"/><circle cx="603.9" cy="140.2"/><circle cx="604.1" cy="130.7"/><circle cx="604.3" cy="149.8"/><circle cx="604.9" cy="126.0"/><circle cx="605.3" cy="145.0"/><circle cx="605.8" cy="135.5"/><circle cx="606.0" cy="154.4"/><circle cx="606.6" cy="123.7"/><circle cx="606.7" cy="142.6"/><circle cx="607.3" cy="133.2"/><circle cx="607.6" cy="151.9"/><circle cx="608.0" cy="128.5"/><circle cx="608.3" cy="147.2"/><circle cx="609.0" cy="137.9"/><circle cx="609.5" cy="156.4"/><circle cx="609.7" cy="121.1"/><circle cx="609.9" cy="139.6"/><circle cx="610.7" cy="130.4"/><circle cx="610.9" cy="148.8"/><circle cx="611.3" cy="125.8"/><circle cx="601.6" cy="218.9"/><circle cx="604.1" cy="220.1"/><circle cx="605.5" cy="218.2"/><circle cx="610.6" cy="219.4"/><circle cx="598.7" cy="302.0"/><circle cx="599.1" cy="295.8"/><circle cx="599.5" cy="308.2"/><circle cx="599.6" cy="292.7"/><circle cx="599.9" cy="305.1"/><circle cx="600.3" cy="298.9"/><circle cx="600.8" cy="311.3"/><circle cx="601.2" cy="287.7"/><circle cx="601.8" cy="300.1"/><circle cx="602.1" cy="293.9"/><circle cx="602.4" cy="306.3"/><circle cx="602.9" cy="290.8"/><circle cx="603.1" cy="303.2"/><circle cx="603.4" cy="297.0"/><circle cx="604.0" cy="309.4"/><circle cx="604.1" cy="289.3"/><circle cx="604.8" cy="301.7"/><circle cx="605.0" cy="295.5"/><circle cx="605.4" cy="307.9"/><circle cx="605.9" cy="292.4"/><circle cx="606.2" cy="304.8"/><circle cx="606.8" cy="298.6"/><circle cx="606.9" cy="311.0"/><circle cx="607.4" cy="288.5"/><circle cx="607.8" cy="300.9"/><circle cx="608.1" cy="294.7"/><circle cx="608.5" cy="307.1"/><circle cx="608.8" cy="291.6"/><circle cx="608.9" cy="304.0"/><circle cx="609.8" cy="297.8"/><circle cx="610.0" cy="310.2"/><circle cx="610.3" cy="290.0"/><circle cx="610.6" cy="302.4"/><circle cx="611.2" cy="296.2"/><circle cx="600.0" cy="378.1"/><circle cx="600.8" cy="380.4"/><circle cx="602.3" cy="379.4"/><circle cx="604.5" cy="380.9"/><circle cx="605.1" cy="379.3"/></g><g fill="#bf6697" stroke="#bf6697"><circle cx="611.7" cy="58.4"/><circle cx="612.6" cy="52.1"/><circle cx="613.0" cy="64.7"/><circle cx="613.9" cy="49.2"/><circle cx="615.0" cy="61.4"/><circle cx="615.4" cy="55.5"/><circle cx="617.0" cy="66.9"/><circle cx="617.2" cy="48.6"/><circle cx="618.9" cy="59.7"/><circle cx="619.2" cy="54.6"/><circle cx="620.9" cy="64.3"/><circle cx="621.3" cy="52.7"/><circle cx="622.6" cy="61.6"/><circle cx="624.1" cy="57.4"/><circle cx="611.8" cy="144.2"/><circle cx="612.1" cy="135.0"/><circle cx="612.8" cy="153.3"/><circle cx="613.2" cy="123.7"/><circle cx="613.2" cy="141.9"/><circle cx="613.9" cy="132.8"/><circle cx="614.1" cy="150.8"/><circle cx="614.6" cy="128.4"/><circle cx="615.0" cy="146.3"/><circle cx="615.4" cy="137.3"/><circle cx="615.8" cy="155.1"/><circle cx="616.3" cy="123.0"/><circle cx="616.9" cy="140.7"/><circle cx="616.9" cy="131.9"/><circle cx="617.8" cy="149.4"/><circle cx="618.0" cy="127.6"/><circle cx="618.4" cy="145.0"/><circle cx="619.1" cy="136.3"/><circle cx="619.5" cy="153.5"/><circle cx="619.9" cy="125.6"/><circle cx="620.5" cy="142.7"/><circle cx="620.8" cy="134.2"/><circle cx="621.2" cy="151.1"/><circle cx="621.9" cy="130.1"/><circle cx="622.4" cy="146.8"/><circle cx="622.5" cy="138.5"/><circle cx="623.2" cy="155.0"/><circle cx="623.6" cy="122.4"/><circle cx="624.0" cy="138.9"/><circle cx="624.2" cy="130.7"/><circle cx="612.4" cy="218.8"/><circle cx="613.9" cy="220.0"/><circle cx="616.3" cy="218.5"/><circle cx="619.3" cy="219.7"/><circle cx="622.6" cy="219.1"/><circle cx="611.5" cy="308.6"/><circle cx="611.9" cy="293.1"/><circle cx="612.2" cy="305.5"/><circle cx="612.5" cy="299.3"/><circle cx="613.0" cy="311.7"/><circle cx="613.2" cy="287.2"/><circle cx="613.8" cy="299.6"/><circle cx="614.3" cy="293.4"/><circle cx="614.5" cy="305.8"/><circle cx="615.1" cy="290.3"/><circle cx="615.5" cy="302.7"/><circle cx="615.6" cy="296.5"/><circle cx="616.3" cy="308.9"/><circle cx="616.5" cy="288.8"/><circle cx="616.7" cy="301.2"/><circle cx="617.5" cy="295.0"/><circle cx="617.6" cy="307.3"/><circle cx="618.1" cy="291.9"/><circle cx="618.4" cy="304.2"/><circle cx="618.7" cy="298.1"/><circle cx="619.1" cy="310.4"/><circle cx="619.6" cy="288.1"/><circle cx="619.9" cy="300.4"/><circle cx="620.4" cy="294.2"/><circle cx="620.4" cy="306.5"/><circle cx="620.7" cy="291.2"/><circle cx="621.3" cy="303.4"/><circle cx="621.6" cy="297.3"/><circle cx="622.3" cy="309.6"/><circle cx="622.9" cy="289.7"/><circle cx="623.2" cy="301.9"/><circle cx="623.4" cy="295.8"/><circle cx="623.9" cy="308.0"/><circle cx="624.1" cy="292.8"/><circle cx="624.5" cy="304.9"/><circle cx="613.1" cy="379.9"/><circle cx="619.3" cy="379.9"/></g><g fill="#bc639a" stroke="#bc639a"><circle cx="625.3" cy="64.7"/><circle cx="628.0" cy="52.9"/><circle cx="628.3" cy="58.7"/><circle cx="630.2" cy="56.5"/><circle cx="636.0" cy="58.3"/><circle cx="624.9" cy="147.0"/><circle cx="625.4" cy="126.7"/><circle cx="625.5" cy="142.9"/><circle cx="626.1" cy="134.9"/><circle cx="626.7" cy="150.4"/><circle cx="627.2" cy="125.6"/><circle cx="627.8" cy="140.7"/><circle cx="628.1" cy="133.4"/><circle cx="628.8" cy="147.7"/><circle cx="629.6" cy="130.3"/><circle cx="630.2" cy="143.8"/><circle cx="630.7" cy="137.2"/><circle cx="630.8" cy="150.1"/><circle cx="631.9" cy="127.3"/><circle cx="632.3" cy="139.6"/><circle cx="633.1" cy="133.8"/><circle cx="633.4" cy="145.1"/><circle cx="634.6" cy="131.5"/><circle cx="634.7" cy="142.1"/><circle cx="635.6" cy="136.9"/><circle cx="636.7" cy="146.6"/><circle cx="637.1" cy="131.2"/><circle cx="624.7" cy="220.7"/><circle cx="626.6" cy="217.0"/><circle cx="628.3" cy="219.1"/><circle cx="629.7" cy="218.0"/><circle cx="631.0" cy="220.2"/><circle cx="633.1" cy="217.5"/><circle cx="633.9" cy="219.7"/><circle cx="635.8" cy="218.6"/><circle cx="625.0" cy="298.9"/><circle cx="625.3" cy="310.5"/><circle cx="625.8" cy="288.5"/><circle cx="626.2" cy="300.0"/><circle cx="626.5" cy="294.4"/><circle cx="626.8" cy="305.4"/><circle cx="627.5" cy="292.0"/><circle cx="628.0" cy="302.5"/><circle cx="628.1" cy="297.4"/><circle cx="629.0" cy="307.3"/><circle cx="629.2" cy="291.3"/><circle cx="629.5" cy="301.1"/><circle cx="630.5" cy="296.4"/><circle cx="630.5" cy="305.6"/><circle cx="631.2" cy="294.4"/><circle cx="631.8" cy="303.0"/><circle cx="632.3" cy="298.8"/><circle cx="633.2" cy="306.7"/><circle cx="633.7" cy="292.7"/><circle cx="634.0" cy="300.3"/><circle cx="634.9" cy="296.7"/><circle cx="635.2" cy="303.6"/><circle cx="636.4" cy="295.5"/><circle cx="637.0" cy="301.6"/></g><g fill="#b95f9d" stroke="#b95f9d"><circle cx="638.3" cy="140.4"/><circle cx="639.1" cy="136.3"/><circle cx="640.5" cy="143.6"/><circle cx="641.3" cy="135.3"/><circle cx="643.1" cy="141.2"/><circle cx="643.5" cy="138.4"/><circle cx="644.8" cy="143.6"/><circle cx="647.4" cy="134.2"/><circle cx="649.1" cy="138.9"/><circle cx="650.0" cy="136.8"/><circle cx="637.6" cy="220.8"/><circle cx="639.3" cy="217.0"/><circle cx="640.5" cy="219.5"/><circle cx="640.9" cy="217.9"/><circle cx="642.1" cy="221.5"/><circle cx="643.0" cy="216.5"/><circle cx="643.3" cy="220.7"/><circle cx="644.5" cy="218.6"/><circle cx="645.2" cy="222.9"/><circle cx="645.7" cy="215.1"/><circle cx="646.8" cy="219.4"/><circle cx="647.9" cy="217.2"/><circle cx="648.0" cy="221.6"/><circle cx="649.2" cy="216.1"/><circle cx="650.3" cy="220.6"/><circle cx="637.6" cy="298.7"/><circle cx="638.3" cy="304.1"/><circle cx="639.5" cy="295.8"/><circle cx="640.8" cy="300.4"/><circle cx="642.1" cy="298.6"/><circle cx="643.8" cy="301.5"/><circle cx="646.3" cy="298.6"/></g><g fill="#b65b9f" stroke="#b65b9f"><circle cx="652.9" cy="56.7"/><circle cx="652.8" cy="140.2"/><circle cx="650.7" cy="218.3"/><circle cx="651.6" cy="222.8"/><circle cx="651.7" cy="215.4"/><circle cx="652.9" cy="220.0"/><circle cx="653.2" cy="217.7"/><circle cx="654.4" cy="222.4"/><circle cx="654.9" cy="216.5"/><circle cx="655.6" cy="221.2"/><circle cx="656.0" cy="218.9"/><circle cx="656.7" cy="223.6"/><circle cx="658.0" cy="214.6"/><circle cx="658.1" cy="219.3"/><circle cx="659.2" cy="216.9"/><circle cx="659.4" cy="221.6"/><circle cx="660.6" cy="215.8"/><circle cx="661.0" cy="220.5"/><circle cx="662.0" cy="218.1"/><circle cx="662.5" cy="222.8"/></g><g fill="#b357a2" stroke="#b357a2"><circle cx="663.7" cy="59.9"/><circle cx="669.6" cy="58.0"/><circle cx="663.6" cy="215.2"/><circle cx="664.2" cy="219.9"/><circle cx="664.9" cy="217.5"/><circle cx="665.2" cy="222.2"/><circle cx="666.3" cy="216.4"/><circle cx="666.5" cy="221.1"/><circle cx="667.3" cy="218.7"/><circle cx="668.0" cy="223.4"/><circle cx="669.1" cy="214.9"/><circle cx="669.4" cy="219.6"/></g><g fill="#af53a5" stroke="#af53a5"><circle cx="677.0" cy="219.1"/></g><g fill="#a84baa" stroke="#a84baa"><circle cx="714.0" cy="58.3"/></g><g fill="#a547ac" stroke="#a547ac"><circle cx="716.3" cy="58.3"/><circle cx="722.8" cy="56.3"/><circle cx="726.1" cy="59.9"/><circle cx="724.5" cy="57.8"/></g><g fill="#9d3fb1" stroke="#9d3fb1"><circle cx="746.4" cy="59.5"/></g><g fill="#993bb4" stroke="#993bb4"><circle cx="760.1" cy="55.8"/><circle cx="761.1" cy="60.9"/></g><g fill="#9537b6" stroke="#9537b6"><circle cx="769.3" cy="54.8"/><circle cx="770.3" cy="61.9"/><circle cx="776.4" cy="58.3"/><circle cx="779.5" cy="55.3"/></g><g fill="#9132b9" stroke="#9132b9"><circle cx="789.3" cy="61.7"/><circle cx="790.6" cy="54.1"/><circle cx="791.4" cy="60.3"/><circle cx="792.9" cy="57.2"/></g><g fill="#8c2ebb" stroke="#8c2ebb"><circle cx="795.1" cy="63.6"/><circle cx="797.1" cy="53.0"/><circle cx="799.2" cy="59.6"/><circle cx="800.6" cy="56.3"/><circle cx="801.6" cy="63.0"/><circle cx="803.6" cy="54.6"/><circle cx="806.0" cy="61.3"/></g><g fill="#8829bd" stroke="#8829bd"><circle cx="807.2" cy="57.9"/><circle cx="808.5" cy="64.6"/><circle cx="810.9" cy="51.7"/><circle cx="812.4" cy="58.6"/><circle cx="814.0" cy="54.8"/><circle cx="815.0" cy="62.6"/><circle cx="816.0" cy="52.5"/><circle cx="817.0" cy="60.7"/><circle cx="819.4" cy="56.6"/></g><g fill="#8324c0" stroke="#8324c0"><circle cx="820.4" cy="64.8"/><circle cx="821.6" cy="51.5"/><circle cx="823.2" cy="59.7"/><circle cx="824.7" cy="55.6"/><circle cx="825.2" cy="63.8"/><circle cx="827.4" cy="53.5"/><circle cx="828.5" cy="61.7"/><circle cx="829.0" cy="57.6"/><circle cx="830.7" cy="65.9"/><circle cx="832.8" cy="50.4"/></g><g fill="#7e1fc2" stroke="#7e1fc2"><circle cx="833.0" cy="59.2"/><circle cx="834.8" cy="54.6"/><circle cx="836.0" cy="64.0"/><circle cx="837.6" cy="52.0"/><circle cx="838.3" cy="61.7"/><circle cx="839.0" cy="56.9"/><circle cx="840.5" cy="66.6"/><circle cx="841.3" cy="50.7"/><circle cx="842.5" cy="60.5"/><circle cx="843.6" cy="55.6"/><circle cx="844.4" cy="65.5"/></g><g fill="#7819c5" stroke="#7819c5"><circle cx="846.0" cy="53.1"/><circle cx="847.2" cy="63.1"/><circle cx="848.0" cy="58.1"/><circle cx="850.0" cy="68.1"/><circle cx="850.3" cy="48.6"/><circle cx="851.5" cy="58.6"/><circle cx="852.5" cy="53.5"/><circle cx="854.2" cy="63.6"/><circle cx="855.0" cy="51.0"/><circle cx="855.9" cy="61.1"/><circle cx="857.0" cy="56.0"/><circle cx="858.7" cy="66.2"/></g><g fill="#7312c7" stroke="#7312c7"><circle cx="859.4" cy="49.8"/><circle cx="860.5" cy="59.7"/><circle cx="862.0" cy="55.2"/><circle cx="863.4" cy="63.8"/><circle cx="864.0" cy="53.4"/><circle cx="865.3" cy="61.5"/><circle cx="866.2" cy="57.5"/><circle cx="867.9" cy="65.2"/><circle cx="869.6" cy="51.5"/><circle cx="871.2" cy="58.9"/></g><g fill="#6d0aca" stroke="#6d0aca"><circle cx="873.2" cy="55.8"/><circle cx="878.2" cy="62.5"/></g><g fill="#6600cc" stroke="#6600cc"><circle cx="891.5" cy="57.8"/></g></g>
<line x1="507.9" y1="-0.3" x2="507.9" y2="749" stroke="#bebebe" stroke-width="3.8" stroke-dasharray="15.3 15.3" clip-path="url(#pc)"/>
<rect x="240" y="11" width="682" height="738" fill="none" stroke="#333" stroke-width="1.8"/>
<g stroke="#333" stroke-width="1.5"><line x1="234.3" y1="58.3" x2="240" y2="58.3"/><line x1="234.3" y1="138.7" x2="240" y2="138.7"/><line x1="234.3" y1="219.1" x2="240" y2="219.1"/><line x1="234.3" y1="299.5" x2="240" y2="299.5"/><line x1="234.3" y1="379.9" x2="240" y2="379.9"/><line x1="234.3" y1="460.3" x2="240" y2="460.3"/><line x1="234.3" y1="540.7" x2="240" y2="540.7"/><line x1="234.3" y1="621.1" x2="240" y2="621.1"/><line x1="234.3" y1="701.5" x2="240" y2="701.5"/><line x1="313.2" y1="749" x2="313.2" y2="754.7"/><line x1="507.9" y1="749" x2="507.9" y2="754.7"/><line x1="702.6" y1="749" x2="702.6" y2="754.7"/><line x1="897.3" y1="749" x2="897.3" y2="754.7"/></g>
<defs><linearGradient id="lg" x1="0" y1="0" x2="0" y2="1"><stop offset="0.000" stop-color="#6600cc"/><stop offset="0.050" stop-color="#7515c6"/><stop offset="0.100" stop-color="#8223c0"/><stop offset="0.150" stop-color="#8d2fbb"/><stop offset="0.200" stop-color="#9839b5"/><stop offset="0.250" stop-color="#a143af"/><stop offset="0.300" stop-color="#aa4da9"/><stop offset="0.350" stop-color="#b256a2"/><stop offset="0.400" stop-color="#ba609c"/><stop offset="0.450" stop-color="#c16996"/><stop offset="0.500" stop-color="#c8728f"/><stop offset="0.550" stop-color="#ce7b89"/><stop offset="0.600" stop-color="#d58482"/><stop offset="0.650" stop-color="#db8d7a"/><stop offset="0.700" stop-color="#e19673"/><stop offset="0.750" stop-color="#e69f6b"/><stop offset="0.800" stop-color="#eba862"/><stop offset="0.850" stop-color="#f1b159"/><stop offset="0.900" stop-color="#f6ba4e"/><stop offset="0.950" stop-color="#fac342"/><stop offset="1.000" stop-color="#ffcc33"/></linearGradient></defs><rect x="954.5" y="313.8" width="32" height="161.8" fill="url(#lg)"/><line x1="954.5" y1="362.9" x2="960.9" y2="362.9" stroke="#fff" stroke-opacity="0.8" stroke-width="1"/><line x1="980.1" y1="362.9" x2="986.5" y2="362.9" stroke="#fff" stroke-opacity="0.8" stroke-width="1"/><line x1="954.5" y1="413.5" x2="960.9" y2="413.5" stroke="#fff" stroke-opacity="0.8" stroke-width="1"/><line x1="980.1" y1="413.5" x2="986.5" y2="413.5" stroke="#fff" stroke-opacity="0.8" stroke-width="1"/><line x1="954.5" y1="464.1" x2="960.9" y2="464.1" stroke="#fff" stroke-opacity="0.8" stroke-width="1"/><line x1="980.1" y1="464.1" x2="986.5" y2="464.1" stroke="#fff" stroke-opacity="0.8" stroke-width="1"/>
<g><text x="229" y="65.2" text-anchor="end" font-size="16.5">Glucose</text><text x="229" y="145.6" text-anchor="end" font-size="16.5">Age</text><text x="229" y="226.0" text-anchor="end" font-size="16.5">BMI</text><text x="229" y="306.4" text-anchor="end" font-size="16.5">DiabetesPedigreeFunction</text><text x="229" y="386.8" text-anchor="end" font-size="16.5">BloodPressure</text><text x="229" y="467.2" text-anchor="end" font-size="16.5">Insulin</text><text x="229" y="547.6" text-anchor="end" font-size="16.5">Pregnancies.C</text><text x="229" y="628.0" text-anchor="end" font-size="16.5">SkinThickness</text><text x="229" y="708.4" text-anchor="end" font-size="16.5">Pregnancies.B</text><text x="312.7" y="771.1" text-anchor="middle" font-size="16.4">-1</text><text x="507.9" y="771.1" text-anchor="middle" font-size="16.4">0</text><text x="702.6" y="771.1" text-anchor="middle" font-size="16.4">1</text><text x="897.3" y="771.1" text-anchor="middle" font-size="16.4">2</text><text x="581" y="795.2" text-anchor="middle" font-size="20.7">SHAP value</text><text x="954.3" y="301.8" font-size="20.6">shap_value</text><text x="996.5" y="368.7" font-size="16">1</text><text x="996.5" y="419.3" font-size="16">0</text><text x="996.5" y="469.9" font-size="16">-1</text></g>
<g><g transform="translate(-1.6,1.6)" stroke="#a0a0a0" stroke-width="3.3" style="fill:none" stroke-opacity="0.85" fill="none" stroke-linecap="round" stroke-linejoin="round"><path d="M751.5,751.5 L747.5,760 M749,758.5 L759.5,758.5 M746.5,766.5 L760.5,766.5 M754.8,757 L754.8,766 Q753.5,773 747.5,779 M756,770 L760,777 M764.5,756.5 L764.5,776.5 M764.5,756.5 L774.8,756.5 L774.8,776.5 M764.5,774.8 L774.8,774.8 M805,751.6 Q795,754 781.5,755.5 M785.9,759.8 L788.9,763.5 M805.2,758.3 L801.5,763.5 M780,767.2 L809.6,767.2 M794.8,755 L794.8,776 Q794.5,779 790.4,777.6 M855,756 L862,756 M853,761 L866,761 M858.5,763 L853.5,774 L866,773 M863,769 L866.5,775 M866,757.5 L880,757.5 L880,776 Q879.5,779 876.5,777.5 M872.5,752 Q872,768 864,779 M898.5,751.6 Q895,767 886,778.3 M898.5,757 Q903,770 910.4,778.3 M912.6,752 Q910,765 902,773 M921,751.5 L922.5,754.5 M926,751 L927,754 M938.5,751 L936.5,754.5 M917.5,760 L917.5,756.5 L946,756.5 L946,760 M921,762 L940,762 L932,767 M917,770 L947,770 M931.5,765 L931.5,778.5 L928,777.5 M950,753 L970.5,753 M950,753 L950,779 L971,779 M955.5,756.5 L953.5,762 M954,760 L967,760 M953,766 L968,766 M961,758 L961,766 Q959,772 954.5,775.5 M962,769 L968,775"/><text transform="translate(823.5,774) scale(0.86,1)" font-size="30" stroke="none" style="fill:#a3a3a3;fill-opacity:0.85">@</text><text transform="translate(984,776.3) scale(0.8,1)" font-size="32" stroke="none" style="fill:#a3a3a3;fill-opacity:0.85" letter-spacing="0.5">TDLP</text></g><g stroke="#ffffff" stroke-width="3.3" style="fill:none" fill="none" stroke-linecap="round" stroke-linejoin="round"><path d="M751.5,751.5 L747.5,760 M749,758.5 L759.5,758.5 M746.5,766.5 L760.5,766.5 M754.8,757 L754.8,766 Q753.5,773 747.5,779 M756,770 L760,777 M764.5,756.5 L764.5,776.5 M764.5,756.5 L774.8,756.5 L774.8,776.5 M764.5,774.8 L774.8,774.8 M805,751.6 Q795,754 781.5,755.5 M785.9,759.8 L788.9,763.5 M805.2,758.3 L801.5,763.5 M780,767.2 L809.6,767.2 M794.8,755 L794.8,776 Q794.5,779 790.4,777.6 M855,756 L862,756 M853,761 L866,761 M858.5,763 L853.5,774 L866,773 M863,769 L866.5,775 M866,757.5 L880,757.5 L880,776 Q879.5,779 876.5,777.5 M872.5,752 Q872,768 864,779 M898.5,751.6 Q895,767 886,778.3 M898.5,757 Q903,770 910.4,778.3 M912.6,752 Q910,765 902,773 M921,751.5 L922.5,754.5 M926,751 L927,754 M938.5,751 L936.5,754.5 M917.5,760 L917.5,756.5 L946,756.5 L946,760 M921,762 L940,762 L932,767 M917,770 L947,770 M931.5,765 L931.5,778.5 L928,777.5 M950,753 L970.5,753 M950,753 L950,779 L971,779 M955.5,756.5 L953.5,762 M954,760 L967,760 M953,766 L968,766 M961,758 L961,766 Q959,772 954.5,775.5 M962,769 L968,775"/><text transform="translate(823.5,774) scale(0.86,1)" font-size="30" stroke="none" style="fill:#ffffff">@</text><text transform="translate(984,776.3) scale(0.8,1)" font-size="32" stroke="none" style="fill:#ffffff" letter-spacing="0.5">TDLP</text></g></g>
</svg>
</body></html>
